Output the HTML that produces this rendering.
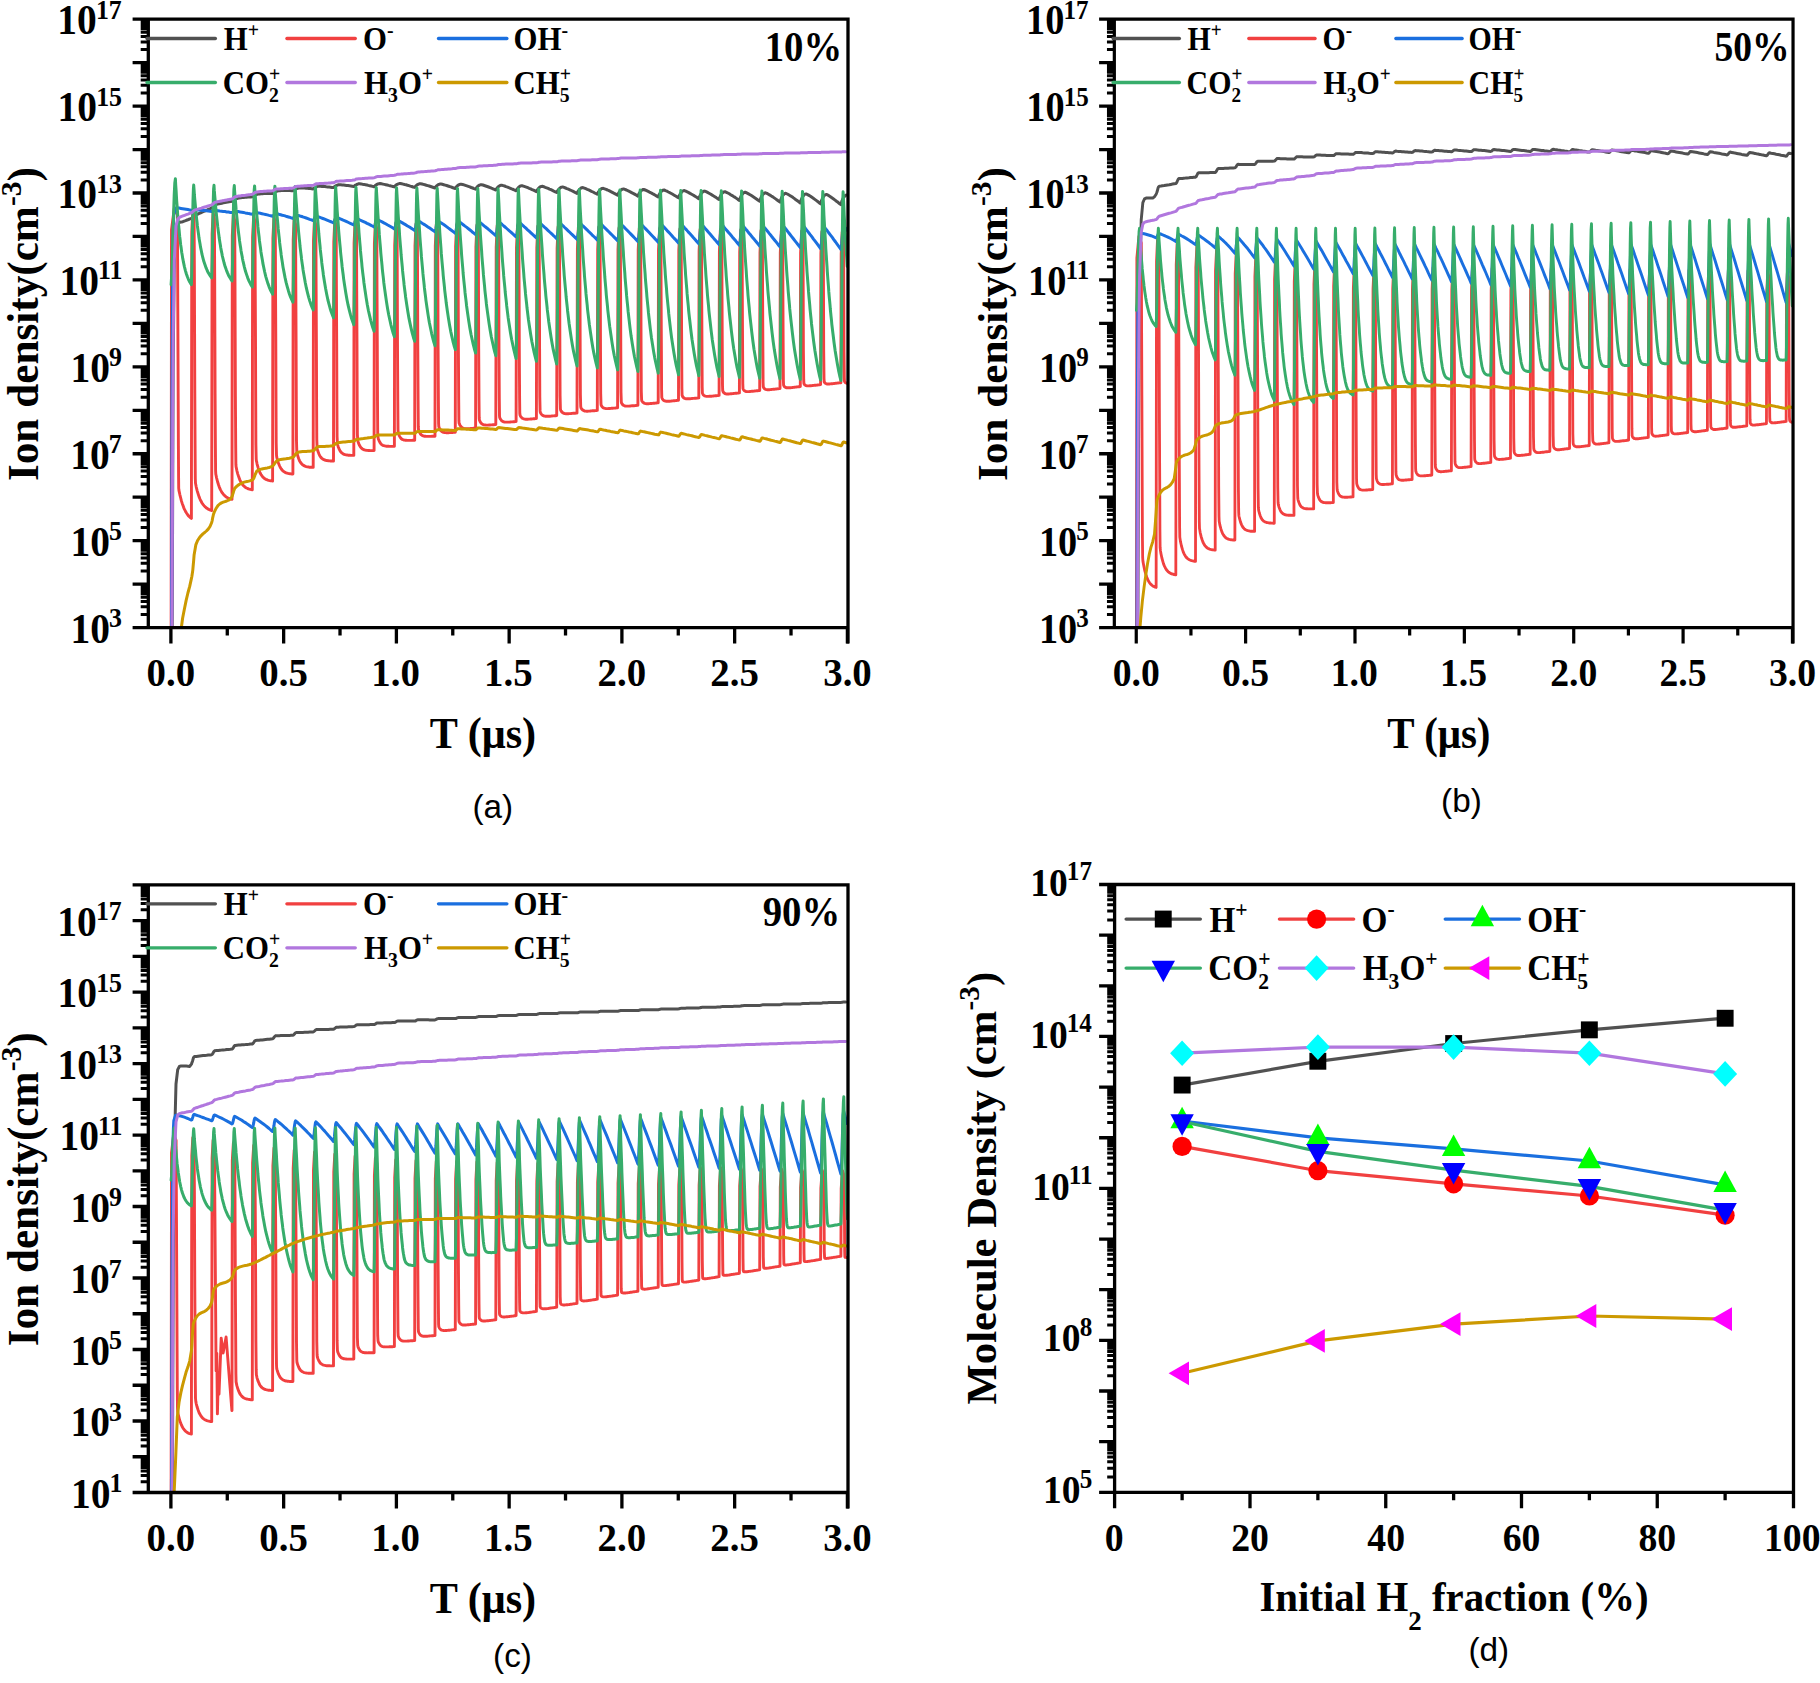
<!DOCTYPE html><html><head><meta charset="utf-8"><title>Ion density</title><style>html,body{margin:0;padding:0;background:#fff}svg{display:block}</style></head><body><svg width="1820" height="1683" viewBox="0 0 1820 1683">
<rect width="1820" height="1683" fill="#fff"/>
<clipPath id="ca"><rect x="148.3" y="19.2" width="699.7" height="608.3"/></clipPath>
<g clip-path="url(#ca)">
<polyline points="171.1,687.5 172.1,660.1 173.1,371.4 174.1,273.4 175.0,240.1 176.0,228.6 177.0,224.6 178.4,222.8 179.9,222.3 181.3,222.1 182.8,221.7 184.2,221.1 185.6,220.6 187.1,220.0 188.5,219.5 190.0,218.9 191.4,218.4 192.4,217.6 193.4,216.9 194.4,216.2 195.3,215.5 196.3,214.9 197.3,214.4 198.7,213.7 200.2,213.0 201.6,212.4 203.1,211.7 204.5,211.1 205.9,210.5 207.4,209.9 208.8,209.2 210.3,208.6 211.7,208.0 212.7,207.1 213.7,206.3 214.6,205.6 215.6,204.9 216.6,204.4 217.6,204.1 219.0,203.8 220.5,203.5 221.9,203.2 223.4,202.9 224.8,202.6 226.2,202.3 227.7,202.0 229.1,201.7 230.6,201.5 232.0,201.2 233.0,200.5 234.0,199.9 234.9,199.4 235.9,198.9 236.9,198.5 237.9,198.2 239.3,197.9 240.8,197.8 242.2,197.6 243.6,197.5 245.1,197.3 246.5,197.2 248.0,197.1 249.4,197.0 250.9,196.9 252.3,196.8 253.3,196.1 254.3,195.5 255.2,195.1 256.2,194.7 257.2,194.3 258.2,194.1 259.6,193.9 261.1,193.8 262.5,193.7 263.9,193.6 265.4,193.6 266.8,193.5 268.3,193.5 269.7,193.4 271.2,193.4 272.6,193.4 273.6,192.7 274.6,192.1 275.5,191.7 276.5,191.3 277.5,191.0 278.5,190.8 279.9,190.7 281.3,190.6 282.8,190.5 284.2,190.5 285.7,190.5 287.1,190.5 288.6,190.6 290.0,190.6 291.5,190.7 292.9,190.7 293.9,190.0 294.8,189.4 295.8,188.9 296.8,188.6 297.8,188.3 298.8,188.1 300.2,188.1 301.6,188.1 303.1,188.1 304.5,188.1 306.0,188.2 307.4,188.3 308.9,188.4 310.3,188.5 311.7,188.7 313.2,188.9 314.2,188.1 315.1,187.5 316.1,187.0 317.1,186.6 318.1,186.4 319.1,186.2 320.5,186.3 321.9,186.4 323.4,186.5 324.8,186.6 326.3,186.8 327.7,186.9 329.2,187.1 330.6,187.3 332.0,187.5 333.5,187.6 334.5,186.7 335.4,186.1 336.4,185.5 337.4,185.1 338.4,184.8 339.3,184.7 340.8,184.8 342.2,184.9 343.7,185.0 345.1,185.2 346.6,185.4 348.0,185.6 349.5,185.8 350.9,186.0 352.3,186.3 353.8,186.6 354.8,185.6 355.7,185.0 356.7,184.5 357.7,184.1 358.7,183.8 359.6,183.7 361.1,183.9 362.5,184.2 364.0,184.4 365.4,184.7 366.9,185.0 368.3,185.4 369.7,185.7 371.2,186.0 372.6,186.4 374.1,186.8 375.1,185.7 376.0,185.0 377.0,184.4 378.0,183.9 379.0,183.7 379.9,183.6 381.4,183.8 382.8,184.1 384.3,184.4 385.7,184.7 387.2,185.0 388.6,185.4 390.0,185.7 391.5,186.1 392.9,186.5 394.4,186.9 395.3,185.7 396.3,184.9 397.3,184.3 398.3,183.9 399.3,183.6 400.2,183.5 401.7,183.8 403.1,184.1 404.6,184.5 406.0,184.8 407.4,185.2 408.9,185.6 410.3,186.1 411.8,186.5 413.2,187.0 414.7,187.4 415.6,186.2 416.6,185.3 417.6,184.6 418.6,184.1 419.6,183.8 420.5,183.7 422.0,184.0 423.4,184.4 424.9,184.8 426.3,185.2 427.7,185.6 429.2,186.0 430.6,186.5 432.1,187.0 433.5,187.5 435.0,188.0 435.9,186.6 436.9,185.7 437.9,184.9 438.9,184.4 439.8,184.1 440.8,184.0 442.3,184.3 443.7,184.7 445.2,185.1 446.6,185.5 448.0,186.0 449.5,186.5 450.9,186.9 452.4,187.5 453.8,188.0 455.3,188.5 456.2,187.1 457.2,186.0 458.2,185.2 459.2,184.7 460.1,184.3 461.1,184.2 462.6,184.5 464.0,184.9 465.4,185.4 466.9,185.9 468.3,186.4 469.8,186.9 471.2,187.5 472.7,188.0 474.1,188.6 475.6,189.2 476.5,187.7 477.5,186.6 478.5,185.7 479.5,185.1 480.4,184.8 481.4,184.7 482.9,185.0 484.3,185.5 485.7,186.0 487.2,186.5 488.6,187.0 490.1,187.6 491.5,188.2 493.0,188.8 494.4,189.4 495.8,190.0 496.8,188.4 497.8,187.2 498.8,186.3 499.8,185.7 500.7,185.3 501.7,185.2 503.2,185.6 504.6,186.0 506.0,186.6 507.5,187.1 508.9,187.7 510.4,188.3 511.8,188.9 513.3,189.5 514.7,190.2 516.1,190.8 517.1,189.1 518.1,187.8 519.1,186.9 520.0,186.2 521.0,185.8 522.0,185.7 523.4,186.1 524.9,186.6 526.3,187.1 527.8,187.7 529.2,188.3 530.7,188.9 532.1,189.6 533.5,190.2 535.0,190.9 536.4,191.6 537.4,189.8 538.4,188.5 539.4,187.5 540.3,186.8 541.3,186.4 542.3,186.3 543.7,186.7 545.2,187.3 546.6,187.8 548.1,188.4 549.5,189.1 551.0,189.7 552.4,190.4 553.8,191.1 555.3,191.8 556.7,192.5 557.7,190.6 558.7,189.3 559.7,188.3 560.6,187.5 561.6,187.1 562.6,186.9 564.0,187.4 565.5,188.0 566.9,188.6 568.4,189.2 569.8,189.8 571.3,190.5 572.7,191.2 574.1,191.9 575.6,192.7 577.0,193.4 578.0,191.4 579.0,190.0 580.0,189.0 580.9,188.2 581.9,187.7 582.9,187.6 584.3,188.1 585.8,188.7 587.2,189.3 588.7,189.9 590.1,190.6 591.5,191.3 593.0,192.0 594.4,192.8 595.9,193.5 597.3,194.3 598.3,192.2 599.3,190.8 600.3,189.7 601.2,188.9 602.2,188.4 603.2,188.3 604.6,188.8 606.1,189.4 607.5,190.0 609.0,190.7 610.4,191.4 611.8,192.1 613.3,192.9 614.7,193.6 616.2,194.4 617.6,195.2 618.6,193.1 619.6,191.6 620.5,190.4 621.5,189.6 622.5,189.1 623.5,188.9 624.9,189.4 626.4,190.0 627.8,190.7 629.3,191.4 630.7,192.1 632.1,192.9 633.6,193.6 635.0,194.4 636.5,195.3 637.9,196.1 638.9,193.8 639.9,192.3 640.8,191.0 641.8,190.2 642.8,189.6 643.8,189.5 645.2,190.0 646.7,190.6 648.1,191.3 649.5,192.1 651.0,192.8 652.4,193.6 653.9,194.4 655.3,195.2 656.8,196.1 658.2,196.9 659.2,194.6 660.2,192.9 661.1,191.7 662.1,190.7 663.1,190.2 664.1,190.0 665.5,190.6 667.0,191.2 668.4,192.0 669.8,192.7 671.3,193.5 672.7,194.3 674.2,195.2 675.6,196.0 677.1,196.9 678.5,197.8 679.5,195.3 680.5,193.6 681.4,192.3 682.4,191.3 683.4,190.7 684.4,190.6 685.8,191.1 687.2,191.8 688.7,192.6 690.1,193.4 691.6,194.2 693.0,195.0 694.5,195.9 695.9,196.8 697.4,197.7 698.8,198.7 699.8,196.1 700.7,194.3 701.7,192.9 702.7,191.9 703.7,191.3 704.7,191.1 706.1,191.7 707.5,192.4 709.0,193.2 710.4,194.0 711.9,194.9 713.3,195.8 714.8,196.7 716.2,197.6 717.6,198.6 719.1,199.5 720.1,196.8 721.0,195.0 722.0,193.5 723.0,192.5 724.0,191.9 725.0,191.7 726.4,192.3 727.8,193.0 729.3,193.8 730.7,194.7 732.2,195.6 733.6,196.5 735.1,197.4 736.5,198.4 737.9,199.4 739.4,200.4 740.4,197.6 741.3,195.7 742.3,194.2 743.3,193.1 744.3,192.4 745.2,192.2 746.7,192.9 748.1,193.6 749.6,194.5 751.0,195.3 752.5,196.3 753.9,197.2 755.4,198.2 756.8,199.2 758.2,200.2 759.7,201.2 760.7,198.4 761.6,196.3 762.6,194.8 763.6,193.7 764.6,193.0 765.5,192.8 767.0,193.4 768.4,194.2 769.9,195.1 771.3,196.0 772.8,196.9 774.2,197.9 775.6,198.9 777.1,200.0 778.5,201.0 780.0,202.1 781.0,199.1 781.9,197.0 782.9,195.4 783.9,194.2 784.9,193.5 785.8,193.3 787.3,194.0 788.7,194.8 790.2,195.7 791.6,196.6 793.1,197.6 794.5,198.6 795.9,199.7 797.4,200.8 798.8,201.8 800.3,203.0 801.2,199.9 802.2,197.7 803.2,196.0 804.2,194.8 805.2,194.1 806.1,193.9 807.6,194.6 809.0,195.4 810.5,196.3 811.9,197.3 813.3,198.3 814.8,199.4 816.2,200.4 817.7,201.5 819.1,202.7 820.6,203.8 821.5,200.6 822.5,198.4 823.5,196.7 824.5,195.4 825.5,194.6 826.4,194.4 827.9,195.1 829.3,196.0 830.8,197.0 832.2,198.0 833.6,199.0 835.1,200.1 836.5,201.2 838.0,202.3 839.4,203.5 840.9,204.7 841.8,201.4 842.8,199.1 843.8,197.3 844.8,196.0 845.7,195.2 846.7,195.0" fill="none" stroke="#515151" stroke-width="3" stroke-linejoin="round" stroke-linecap="round"/>
<polyline points="171.1,687.5 171.5,230.0 174.3,208.2 177.4,214.8 177.6,261.5 177.8,308.2 178.0,354.8 178.2,401.3 178.4,446.0 178.6,478.2 178.7,488.1 178.9,490.1 179.1,491.1 179.9,494.8 180.7,498.0 181.4,500.9 182.2,503.4 183.0,505.6 183.7,507.6 184.5,509.4 185.3,510.9 186.0,512.3 186.8,513.5 187.6,514.6 188.3,515.6 189.1,516.4 189.9,517.1 190.7,517.8 191.4,518.4 191.8,231.9 192.8,210.2 194.1,216.7 194.4,275.5 194.6,334.2 194.8,392.8 195.1,448.1 195.3,478.5 195.5,483.3 195.8,484.7 196.0,485.8 196.2,486.8 197.2,490.8 198.2,494.1 199.1,496.9 200.1,499.3 201.1,501.3 202.0,503.0 203.0,504.4 204.0,505.6 204.9,506.6 205.9,507.5 206.9,508.3 207.8,508.9 208.8,509.4 209.8,509.8 210.7,510.2 211.7,510.5 212.1,233.9 213.1,212.2 214.4,218.7 214.7,277.4 214.9,336.2 215.1,394.6 215.4,447.6 215.6,470.9 215.8,474.2 216.1,475.5 216.3,476.6 216.5,477.6 217.5,481.5 218.5,484.7 219.4,487.3 220.4,489.6 221.4,491.4 222.3,492.9 223.3,494.2 224.3,495.2 225.2,496.1 226.2,496.9 227.2,497.5 228.1,498.0 229.1,498.4 230.1,498.7 231.0,499.0 232.0,499.3 232.3,235.8 233.4,214.1 234.7,220.6 235.0,279.4 235.2,338.1 235.4,396.3 235.7,446.5 235.9,464.4 236.1,466.9 236.4,468.1 236.6,469.2 236.8,470.3 237.8,474.1 238.8,477.1 239.7,479.6 240.7,481.7 241.7,483.3 242.6,484.7 243.6,485.8 244.6,486.6 245.5,487.4 246.5,488.0 247.5,488.4 248.4,488.8 249.4,489.1 250.4,489.4 251.3,489.6 252.3,489.8 252.6,237.2 253.7,215.5 255.0,222.0 255.2,280.8 255.5,339.5 255.7,397.5 255.9,444.7 256.2,458.8 256.4,460.9 256.7,462.0 256.9,463.1 257.1,464.1 258.1,467.6 259.1,470.5 260.0,472.7 261.0,474.5 262.0,475.9 262.9,477.1 263.9,478.0 264.9,478.7 265.8,479.3 266.8,479.7 267.8,480.1 268.7,480.4 269.7,480.6 270.7,480.8 271.6,480.9 272.6,481.0 272.9,238.3 274.0,216.6 275.3,223.1 275.5,281.9 275.8,340.6 276.0,398.3 276.2,443.2 276.5,455.0 276.7,456.8 276.9,457.9 277.2,458.8 277.4,459.8 278.4,463.0 279.4,465.5 280.3,467.5 281.3,469.0 282.3,470.2 283.2,471.1 284.2,471.8 285.2,472.4 286.1,472.8 287.1,473.1 288.1,473.4 289.0,473.6 290.0,473.7 291.0,473.9 291.9,474.0 292.9,474.0 293.2,239.5 294.2,217.7 295.6,224.3 295.8,283.0 296.1,341.7 296.3,399.2 296.5,441.6 296.8,451.5 297.0,453.1 297.2,454.0 297.5,454.9 297.7,455.8 298.7,458.7 299.6,460.9 300.6,462.5 301.6,463.8 302.5,464.7 303.5,465.4 304.5,465.9 305.5,466.3 306.4,466.6 307.4,466.9 308.4,467.0 309.3,467.2 310.3,467.3 311.3,467.3 312.2,467.4 313.2,467.4 313.5,240.6 314.5,218.9 315.9,225.4 316.1,284.1 316.4,342.8 316.6,399.9 316.8,439.5 317.1,447.6 317.3,449.0 317.5,449.9 317.8,450.7 318.0,451.5 319.0,454.1 319.9,456.0 320.9,457.4 321.9,458.4 322.8,459.1 323.8,459.7 324.8,460.0 325.7,460.3 326.7,460.5 327.7,460.7 328.6,460.8 329.6,460.9 330.6,461.0 331.6,461.0 332.5,461.0 333.5,461.1 333.8,241.7 334.8,220.0 336.2,226.5 336.4,285.2 336.7,343.9 336.9,400.5 337.1,436.8 337.4,443.4 337.6,444.6 337.8,445.5 338.1,446.3 338.3,447.0 339.3,449.4 340.2,451.1 341.2,452.4 342.2,453.2 343.1,453.9 344.1,454.3 345.1,454.7 346.0,454.9 347.0,455.0 348.0,455.2 348.9,455.2 349.9,455.3 350.9,455.4 351.8,455.4 352.8,455.4 353.8,455.4 354.1,242.8 355.1,221.1 356.5,227.6 356.7,286.3 357.0,345.0 357.2,401.0 357.4,434.5 357.7,440.0 357.9,441.1 358.1,442.0 358.4,442.7 358.6,443.4 359.6,445.6 360.5,447.1 361.5,448.2 362.5,449.0 363.4,449.5 364.4,449.8 365.4,450.1 366.3,450.3 367.3,450.4 368.3,450.5 369.2,450.5 370.2,450.6 371.2,450.6 372.1,450.6 373.1,450.6 374.1,450.6 374.4,243.9 375.4,222.2 376.8,228.7 377.0,287.5 377.3,346.0 377.5,401.6 377.7,432.6 378.0,437.3 378.2,438.3 378.4,439.1 378.7,439.8 378.9,440.4 379.9,442.4 380.8,443.7 381.8,444.7 382.8,445.3 383.7,445.7 384.7,445.9 385.7,446.1 386.6,446.2 387.6,446.3 388.6,446.3 389.5,446.4 390.5,446.4 391.5,446.4 392.4,446.4 393.4,446.4 394.4,446.3 394.7,245.0 395.7,223.3 397.1,229.8 397.3,288.6 397.5,347.1 397.8,401.7 398.0,429.1 398.2,432.8 398.5,433.7 398.7,434.4 399.0,435.1 399.2,435.6 400.2,437.4 401.1,438.5 402.1,439.3 403.1,439.7 404.0,440.0 405.0,440.2 406.0,440.3 406.9,440.4 407.9,440.4 408.9,440.4 409.8,440.4 410.8,440.4 411.8,440.4 412.7,440.3 413.7,440.3 414.7,440.3 415.0,245.5 416.0,223.8 417.4,230.3 417.6,289.0 417.8,347.5 418.1,401.3 418.3,426.4 418.5,429.6 418.8,430.5 419.0,431.1 419.2,431.7 419.5,432.2 420.4,433.9 421.4,434.9 422.4,435.6 423.4,436.0 424.3,436.2 425.3,436.3 426.3,436.4 427.2,436.4 428.2,436.4 429.2,436.4 430.1,436.4 431.1,436.4 432.1,436.3 433.0,436.3 434.0,436.2 435.0,436.2 435.3,245.9 436.3,224.2 437.7,230.7 437.9,289.4 438.1,347.9 438.4,400.8 438.6,423.7 438.8,426.6 439.1,427.3 439.3,427.9 439.5,428.5 439.8,429.0 440.7,430.5 441.7,431.4 442.7,432.0 443.6,432.3 444.6,432.5 445.6,432.6 446.5,432.7 447.5,432.7 448.5,432.7 449.5,432.6 450.4,432.6 451.4,432.5 452.4,432.5 453.3,432.4 454.3,432.3 455.3,432.3 455.6,246.3 456.6,224.6 458.0,231.1 458.2,289.8 458.4,348.2 458.7,400.1 458.9,420.7 459.1,423.1 459.4,423.8 459.6,424.4 459.8,424.9 460.1,425.3 461.0,426.7 462.0,427.6 463.0,428.1 463.9,428.4 464.9,428.6 465.9,428.6 466.8,428.7 467.8,428.6 468.8,428.6 469.7,428.6 470.7,428.5 471.7,428.4 472.6,428.4 473.6,428.3 474.6,428.2 475.6,428.2 475.9,246.7 476.9,225.0 478.3,231.5 478.5,290.2 478.7,348.5 479.0,399.4 479.2,418.0 479.4,420.1 479.7,420.7 479.9,421.2 480.1,421.7 480.4,422.1 481.3,423.4 482.3,424.2 483.3,424.6 484.2,424.9 485.2,425.0 486.2,425.1 487.1,425.1 488.1,425.1 489.1,425.0 490.0,425.0 491.0,424.9 492.0,424.9 492.9,424.8 493.9,424.7 494.9,424.6 495.8,424.6 496.2,247.1 497.2,225.3 498.6,231.9 498.8,290.6 499.0,348.8 499.3,398.7 499.5,415.8 499.7,417.6 500.0,418.2 500.2,418.7 500.4,419.1 500.7,419.5 501.6,420.7 502.6,421.4 503.6,421.8 504.5,422.0 505.5,422.1 506.5,422.1 507.4,422.1 508.4,422.1 509.4,422.1 510.3,422.0 511.3,421.9 512.3,421.9 513.2,421.8 514.2,421.7 515.2,421.6 516.1,421.6 516.5,247.5 517.5,225.7 518.8,232.3 519.1,291.0 519.3,349.1 519.6,397.9 519.8,413.4 520.0,415.1 520.3,415.6 520.5,416.1 520.7,416.5 521.0,416.8 521.9,417.9 522.9,418.5 523.9,418.9 524.8,419.1 525.8,419.2 526.8,419.2 527.7,419.2 528.7,419.1 529.7,419.1 530.6,419.0 531.6,419.0 532.6,418.9 533.5,418.8 534.5,418.7 535.5,418.6 536.4,418.6 536.8,247.9 537.8,226.1 539.1,232.6 539.4,291.4 539.6,349.4 539.8,396.9 540.1,410.9 540.3,412.3 540.5,412.9 540.8,413.3 541.0,413.7 541.3,414.1 542.2,415.1 543.2,415.7 544.2,416.0 545.1,416.2 546.1,416.3 547.1,416.3 548.0,416.3 549.0,416.2 550.0,416.2 550.9,416.1 551.9,416.0 552.9,415.9 553.8,415.9 554.8,415.8 555.8,415.7 556.7,415.6 557.1,248.2 558.1,226.5 559.4,233.0 559.7,291.7 559.9,349.7 560.1,396.0 560.4,408.6 560.6,409.9 560.8,410.5 561.1,410.9 561.3,411.3 561.5,411.6 562.5,412.6 563.5,413.2 564.4,413.5 565.4,413.7 566.4,413.7 567.4,413.7 568.3,413.7 569.3,413.6 570.3,413.6 571.2,413.5 572.2,413.4 573.2,413.3 574.1,413.3 575.1,413.2 576.1,413.1 577.0,413.0 577.4,248.6 578.4,226.9 579.7,233.4 580.0,292.1 580.2,349.9 580.4,394.9 580.7,406.3 580.9,407.5 581.1,408.1 581.4,408.5 581.6,408.9 581.8,409.2 582.8,410.1 583.8,410.7 584.7,411.0 585.7,411.1 586.7,411.2 587.6,411.2 588.6,411.1 589.6,411.1 590.5,411.0 591.5,410.9 592.5,410.8 593.5,410.7 594.4,410.7 595.4,410.6 596.4,410.5 597.3,410.4 597.7,249.0 598.7,227.3 600.0,233.8 600.3,292.5 600.5,350.2 600.7,393.7 601.0,404.0 601.2,405.2 601.4,405.7 601.7,406.1 601.9,406.4 602.1,406.7 603.1,407.7 604.1,408.2 605.0,408.4 606.0,408.6 607.0,408.6 607.9,408.6 608.9,408.5 609.9,408.5 610.8,408.4 611.8,408.3 612.8,408.2 613.7,408.1 614.7,408.1 615.7,408.0 616.6,407.9 617.6,407.8 618.0,249.4 619.0,227.7 620.3,234.2 620.6,292.9 620.8,350.4 621.0,392.5 621.3,401.8 621.5,402.9 621.7,403.3 622.0,403.7 622.2,404.1 622.4,404.4 623.4,405.3 624.4,405.8 625.3,406.0 626.3,406.1 627.3,406.1 628.2,406.1 629.2,406.1 630.2,406.0 631.1,405.9 632.1,405.8 633.1,405.7 634.0,405.7 635.0,405.6 636.0,405.5 636.9,405.4 637.9,405.3 638.2,249.8 639.3,228.1 640.6,234.6 640.9,293.3 641.1,350.6 641.3,391.3 641.6,399.6 641.8,400.6 642.0,401.1 642.3,401.5 642.5,401.8 642.7,402.1 643.7,402.9 644.7,403.4 645.6,403.6 646.6,403.7 647.6,403.7 648.5,403.7 649.5,403.6 650.5,403.5 651.4,403.5 652.4,403.4 653.4,403.3 654.3,403.2 655.3,403.1 656.3,403.0 657.2,402.9 658.2,402.8 658.5,250.2 659.6,228.5 660.9,235.0 661.1,293.7 661.4,350.8 661.6,389.9 661.8,397.4 662.1,398.3 662.3,398.8 662.6,399.2 662.8,399.5 663.0,399.8 664.0,400.6 665.0,401.0 665.9,401.2 666.9,401.3 667.9,401.3 668.8,401.2 669.8,401.2 670.8,401.1 671.7,401.0 672.7,400.9 673.7,400.8 674.6,400.7 675.6,400.6 676.6,400.5 677.5,400.4 678.5,400.3 678.8,250.6 679.9,228.9 681.2,235.4 681.4,294.0 681.7,350.9 681.9,388.5 682.1,395.2 682.4,396.1 682.6,396.5 682.8,396.9 683.1,397.2 683.3,397.5 684.3,398.2 685.3,398.6 686.2,398.8 687.2,398.8 688.2,398.8 689.1,398.8 690.1,398.7 691.1,398.6 692.0,398.5 693.0,398.4 694.0,398.4 694.9,398.3 695.9,398.2 696.9,398.1 697.8,398.0 698.8,397.9 699.1,251.0 700.1,229.3 701.5,235.8 701.7,294.4 702.0,351.0 702.2,387.0 702.4,393.0 702.7,393.8 702.9,394.2 703.1,394.6 703.4,394.9 703.6,395.1 704.6,395.9 705.5,396.2 706.5,396.4 707.5,396.4 708.4,396.4 709.4,396.3 710.4,396.3 711.4,396.2 712.3,396.1 713.3,396.0 714.3,395.9 715.2,395.8 716.2,395.7 717.2,395.6 718.1,395.5 719.1,395.4 719.4,251.4 720.4,229.6 721.8,236.2 722.0,294.8 722.3,351.1 722.5,385.4 722.7,390.8 723.0,391.5 723.2,391.9 723.4,392.3 723.7,392.6 723.9,392.8 724.9,393.5 725.8,393.8 726.8,394.0 727.8,394.0 728.7,394.0 729.7,393.9 730.7,393.8 731.6,393.7 732.6,393.6 733.6,393.5 734.5,393.4 735.5,393.3 736.5,393.2 737.5,393.1 738.4,393.0 739.4,392.9 739.7,251.8 740.7,230.0 742.1,236.6 742.3,295.2 742.6,351.1 742.8,383.8 743.0,388.6 743.3,389.3 743.5,389.7 743.7,390.0 744.0,390.3 744.2,390.6 745.2,391.2 746.1,391.5 747.1,391.6 748.1,391.6 749.0,391.6 750.0,391.5 751.0,391.4 751.9,391.3 752.9,391.2 753.9,391.1 754.8,391.0 755.8,390.9 756.8,390.8 757.7,390.7 758.7,390.6 759.7,390.5 760.0,252.2 761.0,230.4 762.4,237.0 762.6,295.5 762.9,351.2 763.1,382.5 763.3,386.9 763.6,387.5 763.8,387.9 764.0,388.2 764.3,388.5 764.5,388.7 765.5,389.4 766.4,389.6 767.4,389.7 768.4,389.7 769.3,389.7 770.3,389.6 771.3,389.5 772.2,389.4 773.2,389.3 774.2,389.2 775.1,389.1 776.1,389.0 777.1,388.9 778.0,388.8 779.0,388.6 780.0,388.5 780.3,252.6 781.3,230.8 782.7,237.3 782.9,295.9 783.2,351.2 783.4,381.1 783.6,385.2 783.9,385.8 784.1,386.1 784.3,386.5 784.6,386.7 784.8,386.9 785.8,387.5 786.7,387.8 787.7,387.8 788.7,387.8 789.6,387.8 790.6,387.7 791.6,387.6 792.5,387.5 793.5,387.4 794.5,387.2 795.4,387.1 796.4,387.0 797.4,386.9 798.3,386.8 799.3,386.7 800.3,386.6 800.6,252.9 801.6,231.2 803.0,237.7 803.2,296.3 803.4,351.2 803.7,379.7 803.9,383.4 804.1,384.0 804.4,384.4 804.6,384.7 804.9,384.9 805.1,385.1 806.1,385.7 807.0,385.9 808.0,385.9 809.0,385.9 809.9,385.8 810.9,385.7 811.9,385.6 812.8,385.5 813.8,385.4 814.8,385.3 815.7,385.2 816.7,385.1 817.7,385.0 818.6,384.9 819.6,384.7 820.6,384.6 820.9,253.3 821.9,231.6 823.3,238.1 823.5,296.6 823.7,351.2 824.0,378.3 824.2,381.7 824.4,382.2 824.7,382.6 824.9,382.9 825.1,383.1 825.4,383.3 826.3,383.8 827.3,384.0 828.3,384.0 829.3,384.0 830.2,383.9 831.2,383.8 832.2,383.7 833.1,383.6 834.1,383.5 835.1,383.4 836.0,383.2 837.0,383.1 838.0,383.0 838.9,382.9 839.9,382.8 840.9,382.7 841.2,253.7 842.2,232.0 843.6,238.5 843.8,297.0 844.0,351.4 844.3,378.0 844.5,381.3 844.7,381.8 845.0,382.1 845.2,382.4 845.4,382.6 845.7,382.8 846.6,383.3" fill="none" stroke="#F14040" stroke-width="2.9" stroke-linejoin="round" stroke-linecap="round"/>
<polyline points="171.1,687.5 171.6,615.6 172.0,390.9 172.5,289.9 172.9,244.4 173.4,223.9 173.8,214.7 175.6,207.9 177.3,207.9 179.1,208.1 180.9,208.4 182.6,208.7 184.4,209.0 186.1,209.3 187.9,209.6 189.7,209.9 191.4,210.2 191.9,210.2 192.3,210.0 192.8,209.9 193.2,209.7 193.7,209.6 194.1,209.6 195.9,209.7 197.6,209.9 199.4,210.1 201.2,210.2 202.9,210.4 204.7,210.6 206.4,210.8 208.2,211.0 210.0,211.2 211.7,211.5 212.2,211.4 212.6,211.2 213.1,210.9 213.5,210.6 214.0,210.4 214.4,210.3 216.2,210.5 217.9,210.7 219.7,211.0 221.5,211.2 223.2,211.4 225.0,211.6 226.7,211.9 228.5,212.1 230.3,212.4 232.0,212.6 232.5,212.5 232.9,212.3 233.4,211.9 233.8,211.5 234.3,211.2 234.7,211.1 236.5,211.4 238.2,211.6 240.0,211.9 241.8,212.2 243.5,212.5 245.3,212.9 247.0,213.2 248.8,213.6 250.5,213.9 252.3,214.3 252.8,214.2 253.2,213.8 253.7,213.3 254.1,212.7 254.6,212.3 255.0,212.2 256.8,212.6 258.5,212.9 260.3,213.3 262.0,213.7 263.8,214.1 265.6,214.5 267.3,214.9 269.1,215.4 270.8,215.8 272.6,216.3 273.1,216.1 273.5,215.6 274.0,214.9 274.4,214.1 274.9,213.6 275.3,213.4 277.1,213.8 278.8,214.3 280.6,214.7 282.3,215.2 284.1,215.6 285.9,216.2 287.6,216.7 289.4,217.2 291.1,217.8 292.9,218.4 293.3,218.1 293.8,217.5 294.2,216.5 294.7,215.6 295.2,214.9 295.6,214.6 297.4,215.2 299.1,215.7 300.9,216.3 302.6,216.8 304.4,217.4 306.2,218.0 307.9,218.6 309.7,219.3 311.4,219.9 313.2,220.6 313.6,220.3 314.1,219.5 314.5,218.3 315.0,217.1 315.4,216.2 315.9,215.9 317.7,216.6 319.4,217.2 321.2,217.8 322.9,218.5 324.7,219.2 326.4,219.9 328.2,220.6 330.0,221.3 331.7,222.0 333.5,222.8 333.9,222.5 334.4,221.4 334.8,220.0 335.3,218.6 335.7,217.6 336.2,217.2 338.0,218.0 339.7,218.7 341.5,219.4 343.2,220.2 345.0,220.9 346.7,221.7 348.5,222.5 350.3,223.3 352.0,224.1 353.8,225.0 354.2,224.6 354.7,223.4 355.1,221.7 355.6,220.1 356.0,218.9 356.5,218.4 358.2,219.2 360.0,220.0 361.8,220.8 363.5,221.6 365.3,222.4 367.0,223.3 368.8,224.2 370.6,225.1 372.3,226.0 374.1,226.9 374.5,226.4 375.0,225.0 375.4,223.1 375.9,221.1 376.3,219.7 376.8,219.2 378.5,220.1 380.3,221.0 382.1,221.9 383.8,222.8 385.6,223.8 387.3,224.8 389.1,225.8 390.9,226.8 392.6,227.8 394.4,228.9 394.8,228.3 395.3,226.7 395.7,224.5 396.2,222.2 396.6,220.6 397.1,220.0 398.8,220.9 400.6,221.9 402.4,222.9 404.1,223.9 405.9,224.9 407.6,226.0 409.4,227.0 411.1,228.1 412.9,229.2 414.7,230.4 415.1,229.7 415.6,227.9 416.0,225.3 416.5,222.8 416.9,220.9 417.4,220.2 419.1,221.3 420.9,222.4 422.6,223.5 424.4,224.6 426.2,225.8 427.9,226.9 429.7,228.1 431.4,229.3 433.2,230.6 435.0,231.8 435.4,231.1 435.9,229.0 436.3,226.2 436.8,223.3 437.2,221.2 437.7,220.5 439.4,221.7 441.2,222.9 442.9,224.1 444.7,225.3 446.5,226.6 448.2,227.9 450.0,229.2 451.7,230.5 453.5,231.9 455.3,233.2 455.7,232.4 456.2,230.2 456.6,227.0 457.1,223.9 457.5,221.6 458.0,220.7 459.7,222.0 461.5,223.4 463.2,224.7 465.0,226.1 466.8,227.4 468.5,228.8 470.3,230.2 472.0,231.7 473.8,233.1 475.6,234.5 476.0,233.6 476.5,231.2 476.9,227.8 477.4,224.5 477.8,222.0 478.3,221.1 480.0,222.5 481.8,223.9 483.5,225.3 485.3,226.8 487.1,228.2 488.8,229.7 490.6,231.2 492.3,232.7 494.1,234.2 495.8,235.7 496.3,234.8 496.7,232.2 497.2,228.6 497.6,225.1 498.1,222.4 498.6,221.5 500.3,223.0 502.1,224.5 503.8,226.0 505.6,227.5 507.3,229.0 509.1,230.6 510.9,232.1 512.6,233.7 514.4,235.3 516.1,236.9 516.6,235.9 517.0,233.2 517.5,229.4 517.9,225.6 518.4,222.9 518.8,221.9 520.6,223.4 522.4,225.0 524.1,226.6 525.9,228.2 527.6,229.8 529.4,231.4 531.2,233.1 532.9,234.7 534.7,236.3 536.4,237.9 536.9,236.9 537.3,234.0 537.8,230.1 538.2,226.2 538.7,223.3 539.1,222.2 540.9,223.8 542.7,225.5 544.4,227.1 546.2,228.7 547.9,230.3 549.7,232.0 551.5,233.6 553.2,235.3 555.0,236.9 556.7,238.6 557.2,237.5 557.6,234.6 558.1,230.6 558.5,226.6 559.0,223.6 559.4,222.5 561.2,224.2 563.0,225.8 564.7,227.5 566.5,229.2 568.2,230.8 570.0,232.5 571.7,234.2 573.5,235.9 575.3,237.6 577.0,239.3 577.5,238.2 577.9,235.2 578.4,231.1 578.8,226.9 579.3,223.9 579.7,222.8 581.5,224.5 583.2,226.2 585.0,227.9 586.8,229.6 588.5,231.3 590.3,233.0 592.0,234.8 593.8,236.5 595.6,238.2 597.3,240.0 597.8,238.9 598.2,235.8 598.7,231.6 599.1,227.3 599.6,224.2 600.0,223.1 601.8,224.8 603.5,226.6 605.3,228.3 607.1,230.1 608.8,231.8 610.6,233.6 612.3,235.3 614.1,237.1 615.9,238.9 617.6,240.7 618.1,239.5 618.5,236.4 619.0,232.1 619.4,227.7 619.9,224.6 620.3,223.4 622.1,225.2 623.8,226.9 625.6,228.7 627.4,230.5 629.1,232.3 630.9,234.1 632.6,235.9 634.4,237.8 636.2,239.6 637.9,241.4 638.4,240.3 638.8,237.0 639.3,232.6 639.7,228.1 640.2,224.8 640.6,223.6 642.4,225.5 644.1,227.3 645.9,229.1 647.7,231.0 649.4,232.8 651.2,234.7 652.9,236.5 654.7,238.4 656.4,240.3 658.2,242.2 658.7,241.0 659.1,237.7 659.6,233.1 660.0,228.5 660.5,225.1 660.9,223.9 662.7,225.8 664.4,227.6 666.2,229.5 667.9,231.4 669.7,233.3 671.5,235.2 673.2,237.2 675.0,239.1 676.7,241.0 678.5,243.0 679.0,241.7 679.4,238.3 679.9,233.6 680.3,228.8 680.8,225.4 681.2,224.1 683.0,226.0 684.7,228.0 686.5,229.9 688.2,231.9 690.0,233.8 691.8,235.8 693.5,237.8 695.3,239.8 697.0,241.8 698.8,243.8 699.2,242.5 699.7,238.9 700.1,234.1 700.6,229.2 701.1,225.7 701.5,224.4 703.3,226.3 705.0,228.3 706.8,230.3 708.5,232.3 710.3,234.3 712.1,236.4 713.8,238.4 715.6,240.4 717.3,242.5 719.1,244.6 719.5,243.2 720.0,239.6 720.4,234.6 720.9,229.6 721.3,225.9 721.8,224.6 723.6,226.6 725.3,228.7 727.1,230.7 728.8,232.8 730.6,234.8 732.3,236.9 734.1,239.0 735.9,241.1 737.6,243.2 739.4,245.3 739.8,244.0 740.3,240.2 740.7,235.1 741.2,229.9 741.6,226.2 742.1,224.8 743.9,226.9 745.6,229.0 747.4,231.1 749.1,233.2 750.9,235.3 752.6,237.5 754.4,239.6 756.2,241.8 757.9,243.9 759.7,246.1 760.1,244.7 760.6,240.9 761.0,235.6 761.5,230.3 761.9,226.4 762.4,224.9 764.1,227.1 765.9,229.3 767.7,231.4 769.4,233.6 771.2,235.8 772.9,238.0 774.7,240.2 776.5,242.4 778.2,244.7 780.0,246.9 780.4,245.5 780.9,241.5 781.3,236.0 781.8,230.6 782.2,226.6 782.7,225.1 784.4,227.3 786.2,229.5 788.0,231.8 789.7,234.0 791.5,236.3 793.2,238.5 795.0,240.8 796.8,243.1 798.5,245.4 800.3,247.7 800.7,246.2 801.2,242.1 801.6,236.5 802.1,230.9 802.5,226.8 803.0,225.3 804.7,227.5 806.5,229.8 808.3,232.1 810.0,234.4 811.8,236.7 813.5,239.1 815.3,241.4 817.0,243.7 818.8,246.1 820.6,248.5 821.0,246.9 821.5,242.7 821.9,237.0 822.4,231.2 822.8,227.0 823.3,225.4 825.0,227.8 826.8,230.1 828.5,232.5 830.3,234.8 832.1,237.2 833.8,239.6 835.6,242.0 837.3,244.4 839.1,246.8 840.9,249.3 841.3,247.7 841.8,243.4 842.2,237.4 842.7,231.5 843.1,227.2 843.6,225.6 845.3,228.0 847.1,230.4" fill="none" stroke="#1A6FDF" stroke-width="3" stroke-linejoin="round" stroke-linecap="round"/>
<polyline points="171.1,284.7 171.7,275.1 172.3,256.8 173.0,234.9 173.6,213.2 174.2,195.0 174.8,182.9 175.4,178.7 175.7,184.7 176.1,190.4 176.4,195.8 176.7,201.0 177.1,205.8 177.4,210.4 177.7,214.8 178.1,218.9 178.4,222.8 178.7,226.5 179.1,230.0 179.4,233.4 179.7,236.5 180.1,239.5 180.4,242.3 180.7,245.0 181.1,247.5 181.4,249.9 181.7,252.2 182.1,254.4 182.4,256.4 182.7,258.4 183.1,260.2 183.4,261.9 184.4,266.6 185.4,270.6 186.4,274.0 187.4,276.8 188.4,279.3 189.4,281.4 190.4,283.1 191.4,284.6 191.7,275.6 192.1,258.4 192.4,237.9 192.7,217.5 193.0,200.4 193.4,189.0 193.7,185.1 194.1,190.2 194.4,195.0 194.8,199.6 195.2,204.0 195.6,208.2 195.9,212.1 196.3,215.9 196.7,219.4 197.1,222.8 197.4,226.0 197.8,229.0 198.2,231.9 198.6,234.7 198.9,237.3 199.3,239.7 199.7,242.1 200.1,244.3 200.4,246.4 200.8,248.4 201.2,250.3 201.6,252.2 201.9,253.9 202.3,255.5 202.7,257.1 203.8,261.3 205.0,264.8 206.1,267.9 207.2,270.5 208.3,272.8 209.5,274.7 210.6,276.4 211.7,277.8 212.0,269.4 212.4,253.5 212.7,234.4 213.0,215.4 213.3,199.5 213.6,189.0 214.0,185.3 214.3,190.4 214.7,195.3 215.1,199.9 215.5,204.3 215.8,208.5 216.2,212.4 216.6,216.2 217.0,219.8 217.4,223.3 217.7,226.5 218.1,229.6 218.5,232.6 218.9,235.4 219.2,238.1 219.6,240.6 220.0,243.0 220.4,245.3 220.7,247.5 221.1,249.6 221.5,251.6 221.9,253.5 222.2,255.3 222.6,257.0 223.0,258.6 224.1,263.0 225.2,266.8 226.4,270.1 227.5,272.9 228.6,275.4 229.8,277.5 230.9,279.3 232.0,280.9 232.3,272.3 232.7,255.8 233.0,236.1 233.3,216.6 233.6,200.2 233.9,189.4 234.3,185.6 234.6,190.8 235.0,195.8 235.4,200.6 235.8,205.1 236.1,209.4 236.5,213.6 236.9,217.5 237.3,221.3 237.6,224.8 238.0,228.2 238.4,231.5 238.8,234.6 239.2,237.6 239.5,240.4 239.9,243.1 240.3,245.7 240.7,248.1 241.0,250.4 241.4,252.7 241.8,254.8 242.2,256.8 242.5,258.7 242.9,260.6 243.3,262.3 244.4,267.1 245.5,271.3 246.7,274.9 247.8,278.1 248.9,280.8 250.1,283.1 251.2,285.2 252.3,287.0 252.6,277.8 252.9,260.4 253.3,239.5 253.6,218.8 253.9,201.4 254.2,189.9 254.6,185.9 254.9,191.3 255.3,196.4 255.7,201.4 256.1,206.1 256.4,210.6 256.8,214.9 257.2,219.0 257.6,222.9 257.9,226.7 258.3,230.3 258.7,233.7 259.1,237.0 259.4,240.2 259.8,243.2 260.2,246.0 260.6,248.8 260.9,251.4 261.3,253.9 261.7,256.3 262.1,258.6 262.5,260.8 262.8,262.9 263.2,264.9 263.6,266.8 264.7,272.0 265.8,276.6 267.0,280.6 268.1,284.1 269.2,287.1 270.3,289.8 271.5,292.1 272.6,294.1 272.9,284.4 273.2,265.7 273.6,243.4 273.9,221.3 274.2,202.8 274.5,190.5 274.9,186.2 275.2,191.7 275.6,197.1 276.0,202.2 276.4,207.1 276.7,211.8 277.1,216.3 277.5,220.6 277.9,224.8 278.2,228.7 278.6,232.5 279.0,236.2 279.4,239.7 279.7,243.0 280.1,246.2 280.5,249.3 280.9,252.2 281.2,255.0 281.6,257.7 282.0,260.3 282.4,262.7 282.7,265.1 283.1,267.4 283.5,269.6 283.9,271.6 285.0,277.4 286.1,282.4 287.3,286.8 288.4,290.7 289.5,294.2 290.6,297.2 291.8,299.8 292.9,302.2 293.2,291.7 293.5,271.7 293.9,247.8 294.2,224.1 294.5,204.2 294.8,191.0 295.2,186.4 295.5,192.2 295.9,197.8 296.3,203.1 296.7,208.3 297.0,213.2 297.4,217.9 297.8,222.4 298.2,226.8 298.5,230.9 298.9,234.9 299.3,238.8 299.7,242.4 300.0,246.0 300.4,249.4 300.8,252.6 301.2,255.7 301.5,258.7 301.9,261.6 302.3,264.4 302.7,267.0 303.0,269.5 303.4,272.0 303.8,274.3 304.2,276.6 305.3,282.8 306.4,288.2 307.6,293.1 308.7,297.3 309.8,301.1 310.9,304.4 312.1,307.4 313.2,310.0 313.5,298.9 313.8,277.6 314.2,252.1 314.5,226.8 314.8,205.7 315.1,191.6 315.4,186.7 315.8,192.8 316.2,198.6 316.6,204.2 316.9,209.6 317.3,214.8 317.7,219.7 318.1,224.5 318.5,229.1 318.8,233.5 319.2,237.7 319.6,241.8 320.0,245.6 320.3,249.4 320.7,253.0 321.1,256.4 321.5,259.7 321.8,262.9 322.2,266.0 322.6,268.9 323.0,271.7 323.3,274.4 323.7,277.0 324.1,279.5 324.5,281.9 325.6,288.5 326.7,294.3 327.8,299.5 329.0,304.1 330.1,308.2 331.2,311.8 332.4,315.0 333.5,317.8 333.8,306.0 334.1,283.4 334.5,256.4 334.8,229.6 335.1,207.1 335.4,192.2 335.7,187.0 336.1,193.3 336.5,199.4 336.9,205.2 337.2,210.8 337.6,216.2 338.0,221.3 338.4,226.3 338.7,231.1 339.1,235.7 339.5,240.1 339.9,244.3 340.3,248.4 340.6,252.3 341.0,256.1 341.4,259.7 341.8,263.2 342.1,266.5 342.5,269.7 342.9,272.8 343.3,275.8 343.6,278.6 344.0,281.3 344.4,284.0 344.8,286.5 345.9,293.5 347.0,299.7 348.1,305.2 349.3,310.1 350.4,314.4 351.5,318.3 352.7,321.7 353.8,324.8 354.1,312.3 354.4,288.6 354.7,260.2 355.1,232.0 355.4,208.4 355.7,192.7 356.0,187.3 356.4,193.8 356.8,200.0 357.2,206.1 357.5,211.9 357.9,217.4 358.3,222.8 358.7,228.0 359.0,232.9 359.4,237.7 359.8,242.3 360.2,246.7 360.5,250.9 360.9,255.0 361.3,258.9 361.7,262.7 362.0,266.3 362.4,269.8 362.8,273.2 363.2,276.4 363.6,279.5 363.9,282.5 364.3,285.3 364.7,288.1 365.1,290.7 366.2,298.1 367.3,304.7 368.4,310.5 369.6,315.7 370.7,320.3 371.8,324.4 372.9,328.0 374.1,331.3 374.4,318.3 374.7,293.5 375.0,263.8 375.4,234.3 375.7,209.6 376.0,193.3 376.3,187.5 376.7,194.2 377.1,200.6 377.5,206.8 377.8,212.7 378.2,218.5 378.6,224.0 379.0,229.3 379.3,234.4 379.7,239.3 380.1,244.0 380.5,248.5 380.8,252.9 381.2,257.1 381.6,261.2 382.0,265.1 382.3,268.8 382.7,272.5 383.1,275.9 383.5,279.3 383.8,282.5 384.2,285.6 384.6,288.6 385.0,291.4 385.4,294.2 386.5,301.9 387.6,308.7 388.7,314.8 389.9,320.3 391.0,325.1 392.1,329.4 393.2,333.3 394.4,336.7 394.7,323.3 395.0,297.6 395.3,266.8 395.7,236.3 396.0,210.7 396.3,193.7 396.6,187.8 397.0,194.6 397.4,201.1 397.8,207.4 398.1,213.5 398.5,219.3 398.9,224.9 399.3,230.3 399.6,235.5 400.0,240.5 400.4,245.4 400.8,250.0 401.1,254.5 401.5,258.8 401.9,263.0 402.3,267.0 402.6,270.9 403.0,274.6 403.4,278.1 403.8,281.6 404.1,284.9 404.5,288.1 404.9,291.2 405.3,294.2 405.6,297.0 406.8,305.0 407.9,312.1 409.0,318.4 410.2,324.1 411.3,329.1 412.4,333.7 413.5,337.7 414.7,341.3 415.0,327.5 415.3,301.0 415.6,269.3 416.0,237.9 416.3,211.6 416.6,194.1 416.9,188.0 417.3,194.9 417.7,201.6 418.0,208.1 418.4,214.3 418.8,220.3 419.2,226.0 419.6,231.6 419.9,236.9 420.3,242.1 420.7,247.1 421.1,251.8 421.4,256.4 421.8,260.9 422.2,265.2 422.6,269.3 422.9,273.2 423.3,277.1 423.7,280.7 424.1,284.3 424.4,287.7 424.8,291.0 425.2,294.1 425.6,297.2 425.9,300.1 427.1,308.3 428.2,315.6 429.3,322.2 430.5,328.0 431.6,333.3 432.7,337.9 433.8,342.1 435.0,345.8 435.3,331.6 435.6,304.4 435.9,271.8 436.2,239.5 436.6,212.4 436.9,194.5 437.2,188.2 437.6,195.3 438.0,202.1 438.3,208.7 438.7,215.1 439.1,221.2 439.5,227.0 439.8,232.7 440.2,238.2 440.6,243.4 441.0,248.5 441.3,253.4 441.7,258.1 442.1,262.6 442.5,267.0 442.9,271.2 443.2,275.3 443.6,279.2 444.0,282.9 444.4,286.6 444.7,290.1 445.1,293.4 445.5,296.7 445.9,299.8 446.2,302.8 447.4,311.2 448.5,318.6 449.6,325.3 450.7,331.3 451.9,336.7 453.0,341.5 454.1,345.7 455.3,349.6 455.6,335.0 455.9,307.2 456.2,273.9 456.5,240.9 456.9,213.2 457.2,194.8 457.5,188.4 457.9,195.6 458.3,202.6 458.6,209.3 459.0,215.7 459.4,222.0 459.8,228.0 460.1,233.7 460.5,239.3 460.9,244.7 461.3,249.8 461.6,254.8 462.0,259.6 462.4,264.2 462.8,268.7 463.1,273.0 463.5,277.1 463.9,281.1 464.3,284.9 464.7,288.6 465.0,292.2 465.4,295.6 465.8,298.9 466.2,302.1 466.5,305.2 467.7,313.7 468.8,321.4 469.9,328.2 471.0,334.3 472.2,339.8 473.3,344.7 474.4,349.0 475.6,353.0 475.9,338.1 476.2,309.7 476.5,275.8 476.8,242.1 477.2,213.8 477.5,195.1 477.8,188.6 478.2,195.9 478.6,203.0 478.9,209.8 479.3,216.3 479.7,222.6 480.1,228.7 480.4,234.6 480.8,240.2 481.2,245.7 481.6,250.9 481.9,256.0 482.3,260.8 482.7,265.5 483.1,270.1 483.4,274.4 483.8,278.6 484.2,282.7 484.6,286.6 484.9,290.3 485.3,293.9 485.7,297.4 486.1,300.8 486.4,304.0 486.8,307.1 488.0,315.8 489.1,323.6 490.2,330.5 491.3,336.8 492.5,342.3 493.6,347.3 494.7,351.8 495.8,355.7 496.2,340.7 496.5,311.9 496.8,277.3 497.1,243.1 497.5,214.4 497.8,195.4 498.1,188.8 498.5,196.2 498.9,203.4 499.2,210.3 499.6,216.9 500.0,223.3 500.4,229.5 500.7,235.4 501.1,241.2 501.5,246.7 501.9,252.0 502.2,257.1 502.6,262.1 503.0,266.8 503.4,271.4 503.7,275.9 504.1,280.1 504.5,284.2 504.9,288.2 505.2,292.0 505.6,295.7 506.0,299.2 506.4,302.6 506.7,305.9 507.1,309.1 508.2,317.9 509.4,325.8 510.5,332.9 511.6,339.2 512.8,344.9 513.9,350.0 515.0,354.5 516.1,358.5 516.5,343.2 516.8,314.0 517.1,278.9 517.4,244.2 517.8,215.0 518.1,195.7 518.4,189.0 518.8,196.5 519.1,203.8 519.5,210.8 519.9,217.5 520.3,224.0 520.7,230.3 521.0,236.3 521.4,242.1 521.8,247.7 522.2,253.1 522.5,258.3 522.9,263.3 523.3,268.2 523.7,272.8 524.0,277.3 524.4,281.6 524.8,285.8 525.2,289.8 525.5,293.7 525.9,297.4 526.3,301.0 526.7,304.5 527.0,307.8 527.4,311.0 528.5,320.0 529.7,328.0 530.8,335.2 531.9,341.7 533.1,347.4 534.2,352.6 535.3,357.2 536.4,361.3 536.8,345.8 537.1,316.1 537.4,280.5 537.7,245.2 538.0,215.6 538.4,196.0 538.7,189.2 539.1,196.8 539.4,204.1 539.8,211.2 540.2,218.1 540.6,224.6 540.9,231.0 541.3,237.1 541.7,243.0 542.1,248.7 542.4,254.1 542.8,259.4 543.2,264.5 543.6,269.4 544.0,274.1 544.3,278.7 544.7,283.1 545.1,287.3 545.5,291.4 545.8,295.3 546.2,299.1 546.6,302.7 547.0,306.3 547.3,309.7 547.7,312.9 548.8,322.0 550.0,330.2 551.1,337.5 552.2,344.0 553.3,349.9 554.5,355.1 555.6,359.8 556.7,364.0 557.1,348.3 557.4,318.1 557.7,282.0 558.0,246.2 558.3,216.2 558.7,196.3 559.0,189.4 559.4,197.1 559.7,204.5 560.1,211.6 560.5,218.5 560.9,225.1 561.2,231.5 561.6,237.7 562.0,243.7 562.4,249.4 562.7,254.9 563.1,260.2 563.5,265.4 563.9,270.3 564.2,275.1 564.6,279.7 565.0,284.1 565.4,288.4 565.8,292.5 566.1,296.5 566.5,300.3 566.9,304.0 567.3,307.6 567.6,311.0 568.0,314.3 569.1,323.5 570.3,331.7 571.4,339.1 572.5,345.7 573.6,351.7 574.8,357.0 575.9,361.7 577.0,366.0 577.3,350.0 577.7,319.6 578.0,283.1 578.3,247.0 578.6,216.7 579.0,196.6 579.3,189.6 579.7,197.3 580.0,204.8 580.4,212.0 580.8,219.0 581.2,225.6 581.5,232.1 581.9,238.3 582.3,244.3 582.7,250.1 583.0,255.7 583.4,261.1 583.8,266.2 584.2,271.2 584.5,276.1 584.9,280.7 585.3,285.2 585.7,289.5 586.0,293.7 586.4,297.7 586.8,301.5 587.2,305.2 587.5,308.8 587.9,312.3 588.3,315.6 589.4,324.9 590.6,333.3 591.7,340.8 592.8,347.4 593.9,353.4 595.1,358.8 596.2,363.6 597.3,367.9 597.6,351.8 598.0,321.1 598.3,284.3 598.6,247.8 598.9,217.1 599.3,196.9 599.6,189.8 600.0,197.6 600.3,205.1 600.7,212.4 601.1,219.4 601.5,226.2 601.8,232.7 602.2,238.9 602.6,245.0 603.0,250.8 603.3,256.5 603.7,261.9 604.1,267.1 604.5,272.2 604.8,277.0 605.2,281.7 605.6,286.2 606.0,290.6 606.3,294.8 606.7,298.8 607.1,302.7 607.5,306.5 607.8,310.1 608.2,313.6 608.6,317.0 609.7,326.4 610.9,334.8 612.0,342.4 613.1,349.2 614.2,355.2 615.4,360.7 616.5,365.5 617.6,369.9 617.9,353.6 618.3,322.6 618.6,285.4 618.9,248.5 619.2,217.6 619.5,197.1 619.9,190.0 620.2,197.8 620.6,205.4 621.0,212.7 621.4,219.8 621.7,226.6 622.1,233.1 622.5,239.5 622.9,245.6 623.3,251.4 623.6,257.1 624.0,262.6 624.4,267.8 624.8,272.9 625.1,277.8 625.5,282.6 625.9,287.1 626.3,291.5 626.6,295.7 627.0,299.8 627.4,303.7 627.8,307.5 628.1,311.2 628.5,314.7 628.9,318.1 630.0,327.6 631.1,336.1 632.3,343.8 633.4,350.6 634.5,356.7 635.7,362.2 636.8,367.1 637.9,371.5 638.2,355.2 638.6,323.8 638.9,286.3 639.2,249.2 639.5,218.0 639.8,197.3 640.2,190.1 640.5,198.0 640.9,205.7 641.3,213.0 641.7,220.1 642.0,227.0 642.4,233.6 642.8,239.9 643.2,246.1 643.5,252.0 643.9,257.7 644.3,263.2 644.7,268.5 645.1,273.6 645.4,278.6 645.8,283.3 646.2,287.9 646.6,292.3 646.9,296.6 647.3,300.7 647.7,304.7 648.1,308.5 648.4,312.2 648.8,315.8 649.2,319.2 650.3,328.8 651.4,337.4 652.6,345.0 653.7,351.9 654.8,358.1 656.0,363.7 657.1,368.6 658.2,373.1 658.5,356.6 658.8,325.0 659.2,287.2 659.5,249.8 659.8,218.4 660.1,197.5 660.5,190.3 660.8,198.2 661.2,205.9 661.6,213.3 662.0,220.5 662.3,227.4 662.7,234.0 663.1,240.4 663.5,246.6 663.8,252.6 664.2,258.3 664.6,263.8 665.0,269.2 665.3,274.3 665.7,279.3 666.1,284.1 666.5,288.7 666.8,293.2 667.2,297.5 667.6,301.6 668.0,305.6 668.4,309.5 668.7,313.2 669.1,316.8 669.5,320.3 670.6,329.9 671.7,338.6 672.9,346.3 674.0,353.3 675.1,359.5 676.2,365.1 677.4,370.2 678.5,374.7 678.8,358.0 679.1,326.2 679.5,288.1 679.8,250.4 680.1,218.7 680.4,197.8 680.8,190.4 681.1,198.4 681.5,206.1 681.9,213.5 682.3,220.7 682.6,227.6 683.0,234.3 683.4,240.7 683.8,246.9 684.1,252.9 684.5,258.7 684.9,264.2 685.3,269.6 685.6,274.8 686.0,279.7 686.4,284.6 686.8,289.2 687.1,293.7 687.5,298.0 687.9,302.1 688.3,306.2 688.6,310.0 689.0,313.8 689.4,317.4 689.8,320.8 690.9,330.5 692.0,339.2 693.2,347.0 694.3,354.0 695.4,360.3 696.5,366.0 697.7,371.0 698.8,375.6 699.1,358.8 699.4,326.9 699.8,288.7 700.1,250.8 700.4,219.0 700.7,197.9 701.1,190.6 701.4,198.6 701.8,206.3 702.2,213.8 702.6,220.9 702.9,227.9 703.3,234.6 703.7,241.0 704.1,247.2 704.4,253.2 704.8,259.0 705.2,264.6 705.6,270.0 705.9,275.2 706.3,280.2 706.7,285.0 707.1,289.6 707.4,294.1 707.8,298.5 708.2,302.7 708.6,306.7 708.9,310.6 709.3,314.3 709.7,317.9 710.1,321.4 711.2,331.2 712.3,339.9 713.5,347.8 714.6,354.8 715.7,361.1 716.8,366.8 718.0,371.9 719.1,376.4 719.4,359.7 719.7,327.6 720.1,289.2 720.4,251.2 720.7,219.3 721.0,198.1 721.3,190.7 721.7,198.8 722.1,206.5 722.5,214.0 722.8,221.2 723.2,228.1 723.6,234.8 724.0,241.3 724.4,247.5 724.7,253.5 725.1,259.3 725.5,264.9 725.9,270.3 726.2,275.6 726.6,280.6 727.0,285.4 727.4,290.1 727.7,294.6 728.1,299.0 728.5,303.2 728.9,307.2 729.2,311.1 729.6,314.9 730.0,318.5 730.4,322.0 731.5,331.8 732.6,340.6 733.7,348.5 734.9,355.6 736.0,361.9 737.1,367.6 738.3,372.7 739.4,377.3 739.7,360.5 740.0,328.3 740.4,289.8 740.7,251.6 741.0,219.5 741.3,198.3 741.6,190.9 742.0,198.9 742.4,206.7 742.8,214.2 743.1,221.4 743.5,228.4 743.9,235.1 744.3,241.6 744.6,247.8 745.0,253.9 745.4,259.7 745.8,265.3 746.2,270.7 746.5,275.9 746.9,281.0 747.3,285.8 747.7,290.5 748.0,295.1 748.4,299.4 748.8,303.6 749.2,307.7 749.5,311.6 749.9,315.4 750.3,319.1 750.7,322.6 751.8,332.4 752.9,341.2 754.0,349.2 755.2,356.3 756.3,362.7 757.4,368.4 758.6,373.6 759.7,378.2 760.0,361.3 760.3,329.0 760.6,290.3 761.0,252.0 761.3,219.8 761.6,198.5 761.9,191.1 762.3,199.1 762.7,206.9 763.1,214.4 763.4,221.6 763.8,228.6 764.2,235.3 764.6,241.8 764.9,248.0 765.3,254.1 765.7,259.9 766.1,265.5 766.4,271.0 766.8,276.2 767.2,281.3 767.6,286.1 767.9,290.8 768.3,295.4 768.7,299.7 769.1,304.0 769.5,308.0 769.8,312.0 770.2,315.8 770.6,319.4 771.0,323.0 772.1,332.8 773.2,341.7 774.3,349.6 775.5,356.8 776.6,363.2 777.7,369.0 778.8,374.1 780.0,378.8 780.3,361.8 780.6,329.5 780.9,290.7 781.3,252.3 781.6,220.0 781.9,198.7 782.2,191.2 782.6,199.3 783.0,207.0 783.4,214.5 783.7,221.8 784.1,228.7 784.5,235.5 784.9,242.0 785.2,248.3 785.6,254.3 786.0,260.1 786.4,265.8 786.7,271.2 787.1,276.5 787.5,281.5 787.9,286.4 788.2,291.1 788.6,295.7 789.0,300.1 789.4,304.3 789.7,308.4 790.1,312.3 790.5,316.1 790.9,319.8 791.3,323.3 792.4,333.2 793.5,342.1 794.6,350.1 795.8,357.3 796.9,363.7 798.0,369.5 799.1,374.7 800.3,379.4 800.6,362.4 800.9,329.9 801.2,291.1 801.6,252.6 801.9,220.3 802.2,198.8 802.5,191.4 802.9,199.4 803.3,207.2 803.7,214.7 804.0,221.9 804.4,228.9 804.8,235.7 805.2,242.2 805.5,248.5 805.9,254.5 806.3,260.4 806.7,266.0 807.0,271.5 807.4,276.7 807.8,281.8 808.2,286.7 808.5,291.4 808.9,296.0 809.3,300.4 809.7,304.6 810.0,308.7 810.4,312.6 810.8,316.5 811.2,320.1 811.5,323.7 812.7,333.6 813.8,342.5 814.9,350.5 816.1,357.8 817.2,364.2 818.3,370.0 819.4,375.3 820.6,380.0 820.9,362.9 821.2,330.4 821.5,291.5 821.9,252.9 822.2,220.5 822.5,199.0 822.8,191.5 823.2,199.6 823.6,207.4 823.9,214.9 824.3,222.1 824.7,229.1 825.1,235.9 825.5,242.4 825.8,248.7 826.2,254.7 826.6,260.6 827.0,266.3 827.3,271.7 827.7,277.0 828.1,282.1 828.5,287.0 828.8,291.7 829.2,296.3 829.6,300.7 830.0,304.9 830.3,309.0 830.7,313.0 831.1,316.8 831.5,320.5 831.8,324.1 833.0,334.0 834.1,343.0 835.2,351.0 836.4,358.2 837.5,364.7 838.6,370.6 839.7,375.8 840.9,380.5 841.2,363.5 841.5,330.9 841.8,291.9 842.1,253.2 842.5,220.7 842.8,199.2 843.1,191.7 843.5,199.7 843.9,207.5 844.2,215.0 844.6,222.2 845.0,229.2 845.4,236.0 845.7,242.5 846.1,248.8 846.5,254.8 846.9,260.7 847.2,266.3" fill="none" stroke="#37AD6B" stroke-width="3" stroke-linejoin="round" stroke-linecap="round"/>
<polyline points="171.1,687.5 171.7,687.5 172.2,556.3 172.7,419.8 173.2,338.3 173.8,289.7 174.3,260.7 176.0,225.9 177.7,219.2 179.4,217.4 181.1,216.6 182.9,215.9 184.6,215.3 186.3,214.7 188.0,214.1 189.7,213.4 191.4,212.8 191.9,212.5 192.5,212.0 193.0,211.5 193.5,210.9 194.1,210.5 194.6,210.2 196.3,209.6 198.0,209.1 199.7,208.6 201.4,208.1 203.1,207.5 204.9,207.0 206.6,206.5 208.3,205.9 210.0,205.4 211.7,204.9 212.2,204.6 212.8,204.1 213.3,203.6 213.8,203.1 214.3,202.6 214.9,202.4 216.6,201.9 218.3,201.6 220.0,201.2 221.7,200.9 223.4,200.6 225.2,200.2 226.9,199.9 228.6,199.6 230.3,199.2 232.0,198.9 232.5,198.7 233.1,198.3 233.6,197.8 234.1,197.4 234.6,197.0 235.2,196.8 236.9,196.4 238.6,196.1 240.3,195.9 242.0,195.6 243.7,195.4 245.5,195.2 247.2,194.9 248.9,194.7 250.6,194.5 252.3,194.2 252.8,194.0 253.4,193.7 253.9,193.2 254.4,192.8 254.9,192.5 255.5,192.3 257.2,192.0 258.9,191.8 260.6,191.6 262.3,191.4 264.0,191.3 265.7,191.2 267.5,191.1 269.2,191.0 270.9,190.9 272.6,190.8 273.1,190.7 273.7,190.3 274.2,189.9 274.7,189.5 275.2,189.2 275.8,189.1 277.5,189.0 279.2,188.9 280.9,188.8 282.6,188.7 284.3,188.6 286.0,188.5 287.8,188.4 289.5,188.3 291.2,188.2 292.9,188.0 293.4,187.9 293.9,187.6 294.5,187.2 295.0,186.8 295.5,186.5 296.1,186.4 297.8,186.3 299.5,186.2 301.2,186.1 302.9,186.0 304.6,185.8 306.3,185.7 308.0,185.6 309.8,185.5 311.5,185.4 313.2,185.3 313.7,185.2 314.2,184.9 314.8,184.6 315.3,184.2 315.8,183.9 316.3,183.8 318.1,183.7 319.8,183.6 321.5,183.5 323.2,183.4 324.9,183.3 326.6,183.2 328.3,183.1 330.1,182.9 331.8,182.8 333.5,182.7 334.0,182.6 334.5,182.3 335.1,182.0 335.6,181.7 336.1,181.4 336.6,181.3 338.4,181.2 340.1,181.1 341.8,181.0 343.5,180.9 345.2,180.7 346.9,180.6 348.6,180.5 350.4,180.4 352.1,180.3 353.8,180.1 354.3,180.0 354.8,179.8 355.4,179.5 355.9,179.2 356.4,179.0 356.9,178.9 358.7,178.8 360.4,178.7 362.1,178.6 363.8,178.4 365.5,178.3 367.2,178.2 368.9,178.1 370.6,178.0 372.4,177.9 374.1,177.7 374.6,177.6 375.1,177.4 375.7,177.2 376.2,176.9 376.7,176.7 377.2,176.6 378.9,176.5 380.7,176.4 382.4,176.2 384.1,176.1 385.8,176.0 387.5,175.9 389.2,175.7 390.9,175.6 392.7,175.5 394.4,175.3 394.9,175.2 395.4,175.0 395.9,174.8 396.5,174.6 397.0,174.4 397.5,174.3 399.2,174.2 401.0,174.1 402.7,173.9 404.4,173.8 406.1,173.7 407.8,173.6 409.5,173.4 411.2,173.3 413.0,173.2 414.7,173.0 415.2,172.9 415.7,172.8 416.2,172.6 416.8,172.3 417.3,172.2 417.8,172.1 419.5,171.9 421.3,171.8 423.0,171.7 424.7,171.6 426.4,171.4 428.1,171.3 429.8,171.2 431.5,171.0 433.2,170.9 435.0,170.8 435.5,170.7 436.0,170.5 436.5,170.3 437.1,170.1 437.6,169.9 438.1,169.8 439.8,169.7 441.5,169.6 443.3,169.4 445.0,169.3 446.7,169.2 448.4,169.0 450.1,168.9 451.8,168.8 453.5,168.6 455.3,168.5 455.8,168.4 456.3,168.3 456.8,168.1 457.4,167.9 457.9,167.8 458.4,167.7 460.1,167.6 461.8,167.5 463.6,167.5 465.3,167.4 467.0,167.3 468.7,167.2 470.4,167.1 472.1,167.0 473.8,167.0 475.6,166.9 476.1,166.8 476.6,166.6 477.1,166.5 477.7,166.3 478.2,166.2 478.7,166.1 480.4,166.0 482.1,165.9 483.8,165.8 485.6,165.7 487.3,165.7 489.0,165.6 490.7,165.5 492.4,165.4 494.1,165.3 495.8,165.2 496.4,165.1 496.9,165.0 497.4,164.8 498.0,164.7 498.5,164.5 499.0,164.5 500.7,164.4 502.4,164.3 504.1,164.2 505.9,164.1 507.6,164.0 509.3,163.9 511.0,163.9 512.7,163.9 514.4,163.8 516.1,163.8 516.7,163.7 517.2,163.6 517.7,163.5 518.2,163.3 518.8,163.2 519.3,163.2 521.0,163.1 522.7,163.1 524.4,163.0 526.2,163.0 527.9,163.0 529.6,162.9 531.3,162.9 533.0,162.8 534.7,162.8 536.4,162.8 537.0,162.7 537.5,162.6 538.0,162.5 538.5,162.3 539.1,162.2 539.6,162.2 541.3,162.1 543.0,162.1 544.7,162.0 546.4,162.0 548.2,161.9 549.9,161.9 551.6,161.9 553.3,161.8 555.0,161.8 556.7,161.7 557.3,161.7 557.8,161.6 558.3,161.4 558.8,161.3 559.4,161.2 559.9,161.2 561.6,161.1 563.3,161.1 565.0,161.0 566.7,161.0 568.5,160.9 570.2,160.9 571.9,160.8 573.6,160.8 575.3,160.7 577.0,160.7 577.6,160.6 578.1,160.5 578.6,160.4 579.1,160.3 579.7,160.2 580.2,160.1 581.9,160.1 583.6,160.1 585.3,160.0 587.0,160.0 588.8,159.9 590.5,159.9 592.2,159.8 593.9,159.8 595.6,159.7 597.3,159.7 597.8,159.6 598.4,159.5 598.9,159.4 599.4,159.3 600.0,159.2 600.5,159.1 602.2,159.1 603.9,159.0 605.6,159.0 607.3,158.9 609.0,158.9 610.8,158.8 612.5,158.8 614.2,158.7 615.9,158.7 617.6,158.6 618.1,158.6 618.7,158.5 619.2,158.4 619.7,158.3 620.2,158.2 620.8,158.1 622.5,158.1 624.2,158.1 625.9,158.0 627.6,158.0 629.3,158.0 631.1,158.0 632.8,157.9 634.5,157.9 636.2,157.9 637.9,157.8 638.4,157.8 639.0,157.7 639.5,157.6 640.0,157.5 640.5,157.5 641.1,157.4 642.8,157.4 644.5,157.4 646.2,157.4 647.9,157.3 649.6,157.3 651.4,157.3 653.1,157.2 654.8,157.2 656.5,157.2 658.2,157.1 658.7,157.1 659.3,157.0 659.8,156.9 660.3,156.9 660.8,156.8 661.4,156.7 663.1,156.7 664.8,156.7 666.5,156.7 668.2,156.6 669.9,156.6 671.6,156.6 673.4,156.5 675.1,156.5 676.8,156.4 678.5,156.4 679.0,156.4 679.6,156.3 680.1,156.2 680.6,156.2 681.1,156.1 681.7,156.1 683.4,156.0 685.1,156.0 686.8,156.0 688.5,155.9 690.2,155.9 691.9,155.8 693.7,155.8 695.4,155.8 697.1,155.7 698.8,155.7 699.3,155.7 699.8,155.6 700.4,155.5 700.9,155.5 701.4,155.4 702.0,155.4 703.7,155.3 705.4,155.3 707.1,155.3 708.8,155.2 710.5,155.2 712.2,155.1 713.9,155.1 715.7,155.1 717.4,155.0 719.1,155.0 719.6,154.9 720.1,154.9 720.7,154.8 721.2,154.8 721.7,154.7 722.2,154.7 724.0,154.6 725.7,154.6 727.4,154.6 729.1,154.5 730.8,154.5 732.5,154.4 734.2,154.4 736.0,154.4 737.7,154.3 739.4,154.3 739.9,154.3 740.4,154.2 741.0,154.2 741.5,154.1 742.0,154.1 742.5,154.1 744.3,154.1 746.0,154.0 747.7,154.0 749.4,154.0 751.1,154.0 752.8,153.9 754.5,153.9 756.3,153.9 758.0,153.9 759.7,153.8 760.2,153.8 760.7,153.8 761.3,153.7 761.8,153.7 762.3,153.6 762.8,153.6 764.6,153.6 766.3,153.6 768.0,153.5 769.7,153.5 771.4,153.5 773.1,153.5 774.8,153.4 776.5,153.4 778.3,153.4 780.0,153.3 780.5,153.3 781.0,153.3 781.6,153.3 782.1,153.2 782.6,153.2 783.1,153.2 784.8,153.1 786.6,153.1 788.3,153.1 790.0,153.1 791.7,153.0 793.4,153.0 795.1,153.0 796.8,152.9 798.6,152.9 800.3,152.9 800.8,152.8 801.3,152.8 801.8,152.8 802.4,152.8 802.9,152.7 803.4,152.7 805.1,152.7 806.9,152.7 808.6,152.6 810.3,152.6 812.0,152.6 813.7,152.5 815.4,152.5 817.1,152.4 818.9,152.4 820.6,152.4 821.1,152.4 821.6,152.3 822.1,152.3 822.7,152.3 823.2,152.3 823.7,152.3 825.4,152.2 827.2,152.2 828.9,152.2 830.6,152.1 832.3,152.1 834.0,152.0 835.7,152.0 837.4,152.0 839.1,151.9 840.9,151.9 841.4,151.9 841.9,151.9 842.4,151.8 843.0,151.8 843.5,151.8 844.0,151.8 845.7,151.8" fill="none" stroke="#B177DE" stroke-width="3" stroke-linejoin="round" stroke-linecap="round"/>
<polyline points="171.1,687.5 171.6,687.5 172.0,687.5 172.5,687.5 172.9,687.5 173.4,687.5 173.8,687.5 175.6,687.5 177.3,674.9 179.1,651.9 180.9,631.0 182.6,618.3 184.4,609.0 186.1,600.6 187.9,593.0 189.7,586.4 191.4,578.6 191.9,576.2 192.3,573.5 192.8,570.1 193.2,565.5 193.7,560.1 194.1,554.9 195.9,544.6 197.6,540.5 199.4,537.7 201.2,535.6 202.9,533.9 204.7,532.5 206.4,531.0 208.2,529.1 210.0,526.5 211.7,522.5 212.2,520.5 212.6,518.2 213.1,516.0 213.5,514.2 214.0,512.9 214.4,511.8 216.2,508.2 217.9,505.6 219.7,504.0 221.5,502.9 223.2,502.2 225.0,501.6 226.7,501.0 228.5,500.2 230.3,499.0 232.0,496.6 232.5,495.2 232.9,493.7 233.4,492.2 233.8,490.7 234.3,489.4 234.7,488.4 236.5,486.5 238.2,485.1 240.0,484.0 241.8,483.1 243.5,482.4 245.3,481.9 247.0,481.5 248.8,481.1 250.5,480.6 252.3,479.8 252.8,479.5 253.2,479.2 253.7,478.5 254.1,477.4 254.6,476.2 255.0,474.9 256.8,471.1 258.5,470.2 260.3,469.4 262.0,468.9 263.8,468.6 265.6,468.2 267.3,467.9 269.1,467.5 270.8,466.9 272.6,466.0 273.1,465.6 273.5,465.1 274.0,464.5 274.4,463.9 274.9,463.2 275.3,462.5 277.1,460.6 278.8,459.9 280.6,459.5 282.3,459.2 284.1,459.0 285.9,458.8 287.6,458.5 289.4,458.2 291.1,457.8 292.9,457.2 293.3,456.9 293.8,456.5 294.2,456.0 294.7,455.4 295.2,454.7 295.6,454.1 297.4,452.4 299.1,452.1 300.9,451.8 302.6,451.6 304.4,451.5 306.2,451.4 307.9,451.3 309.7,451.2 311.4,450.9 313.2,450.6 313.6,450.5 314.1,450.3 314.5,449.8 315.0,449.3 315.4,448.7 315.9,448.1 317.7,446.8 319.4,446.6 321.2,446.5 322.9,446.4 324.7,446.4 326.4,446.3 328.2,446.2 330.0,446.1 331.7,445.9 333.5,445.3 333.9,445.1 334.4,444.8 334.8,444.4 335.3,444.0 335.7,443.7 336.2,443.4 338.0,442.8 339.7,442.5 341.5,442.2 343.2,442.0 345.0,441.9 346.7,441.7 348.5,441.6 350.3,441.5 352.0,441.3 353.8,441.2 354.2,441.1 354.7,440.7 355.1,440.3 355.6,439.9 356.0,439.6 356.5,439.4 358.2,439.2 360.0,439.0 361.8,438.8 363.5,438.6 365.3,438.3 367.0,438.1 368.8,437.8 370.6,437.6 372.3,437.3 374.1,437.1 374.5,436.9 375.0,436.6 375.4,436.2 375.9,435.7 376.3,435.4 376.8,435.2 378.5,435.1 380.3,435.0 382.1,435.0 383.8,434.9 385.6,434.9 387.3,434.9 389.1,434.9 390.9,434.9 392.6,435.0 394.4,435.0 394.8,434.9 395.3,434.6 395.7,434.1 396.2,433.7 396.6,433.4 397.1,433.3 398.8,433.3 400.6,433.3 402.4,433.3 404.1,433.3 405.9,433.3 407.6,433.3 409.4,433.3 411.1,433.3 412.9,433.3 414.7,433.3 415.1,433.2 415.6,432.9 416.0,432.4 416.5,432.0 416.9,431.6 417.4,431.5 419.1,431.5 420.9,431.5 422.6,431.5 424.4,431.5 426.2,431.5 427.9,431.5 429.7,431.5 431.4,431.6 433.2,431.6 435.0,431.6 435.4,431.5 435.9,431.1 436.3,430.7 436.8,430.2 437.2,429.9 437.7,429.7 439.4,429.8 441.2,429.8 442.9,429.9 444.7,429.9 446.5,430.0 448.2,430.1 450.0,430.2 451.7,430.3 453.5,430.4 455.3,430.5 455.7,430.4 456.2,430.0 456.6,429.6 457.1,429.1 457.5,428.8 458.0,428.7 459.7,428.8 461.5,428.9 463.2,429.0 465.0,429.1 466.8,429.2 468.5,429.3 470.3,429.4 472.0,429.6 473.8,429.7 475.6,429.8 476.0,429.7 476.5,429.3 476.9,428.9 477.4,428.4 477.8,428.0 478.3,427.9 480.0,428.0 481.8,428.2 483.5,428.3 485.3,428.5 487.1,428.6 488.8,428.8 490.6,429.0 492.3,429.1 494.1,429.3 495.8,429.5 496.3,429.4 496.7,429.0 497.2,428.5 497.6,428.1 498.1,427.7 498.6,427.6 500.3,427.8 502.1,428.0 503.8,428.2 505.6,428.4 507.3,428.6 509.1,428.8 510.9,429.0 512.6,429.2 514.4,429.4 516.1,429.6 516.6,429.5 517.0,429.1 517.5,428.6 517.9,428.1 518.4,427.8 518.8,427.6 520.6,427.8 522.4,428.1 524.1,428.3 525.9,428.5 527.6,428.7 529.4,429.0 531.2,429.2 532.9,429.4 534.7,429.7 536.4,429.9 536.9,429.8 537.3,429.4 537.8,428.9 538.2,428.3 538.7,427.9 539.1,427.8 540.9,428.0 542.7,428.3 544.4,428.5 546.2,428.8 547.9,429.0 549.7,429.3 551.5,429.5 553.2,429.8 555.0,430.1 556.7,430.3 557.2,430.2 557.6,429.8 558.1,429.2 558.5,428.6 559.0,428.2 559.4,428.1 561.2,428.3 563.0,428.6 564.7,428.9 566.5,429.2 568.2,429.5 570.0,429.8 571.7,430.1 573.5,430.4 575.3,430.7 577.0,431.0 577.5,430.8 577.9,430.4 578.4,429.8 578.8,429.2 579.3,428.7 579.7,428.6 581.5,428.9 583.2,429.2 585.0,429.5 586.8,429.8 588.5,430.1 590.3,430.5 592.0,430.8 593.8,431.1 595.6,431.5 597.3,431.8 597.8,431.7 598.2,431.2 598.7,430.6 599.1,429.9 599.6,429.4 600.0,429.3 601.8,429.6 603.5,430.0 605.3,430.3 607.1,430.7 608.8,431.0 610.6,431.4 612.3,431.7 614.1,432.1 615.9,432.4 617.6,432.8 618.1,432.6 618.5,432.2 619.0,431.5 619.4,430.8 619.9,430.3 620.3,430.1 622.1,430.5 623.8,430.9 625.6,431.2 627.4,431.6 629.1,432.0 630.9,432.3 632.6,432.7 634.4,433.1 636.2,433.5 637.9,433.9 638.4,433.7 638.8,433.2 639.3,432.5 639.7,431.8 640.2,431.3 640.6,431.1 642.4,431.5 644.1,431.8 645.9,432.2 647.7,432.6 649.4,433.0 651.2,433.4 652.9,433.8 654.7,434.2 656.4,434.5 658.2,434.9 658.7,434.8 659.1,434.2 659.6,433.5 660.0,432.8 660.5,432.3 660.9,432.1 662.7,432.5 664.4,432.9 666.2,433.3 667.9,433.7 669.7,434.1 671.5,434.6 673.2,435.0 675.0,435.4 676.7,435.8 678.5,436.3 679.0,436.1 679.4,435.5 679.9,434.8 680.3,434.0 680.8,433.5 681.2,433.3 683.0,433.7 684.7,434.1 686.5,434.6 688.2,435.0 690.0,435.4 691.8,435.8 693.5,436.3 695.3,436.7 697.0,437.1 698.8,437.5 699.2,437.4 699.7,436.8 700.1,436.0 700.6,435.3 701.1,434.7 701.5,434.5 703.3,434.9 705.0,435.4 706.8,435.8 708.5,436.2 710.3,436.6 712.1,437.1 713.8,437.5 715.6,437.9 717.3,438.4 719.1,438.8 719.5,438.6 720.0,438.0 720.4,437.3 720.9,436.5 721.3,435.9 721.8,435.7 723.6,436.1 725.3,436.5 727.1,437.0 728.8,437.4 730.6,437.9 732.3,438.3 734.1,438.7 735.9,439.2 737.6,439.6 739.4,440.1 739.8,439.9 740.3,439.3 740.7,438.5 741.2,437.6 741.6,437.0 742.1,436.8 743.9,437.3 745.6,437.7 747.4,438.2 749.1,438.6 750.9,439.0 752.6,439.5 754.4,439.9 756.2,440.4 757.9,440.8 759.7,441.3 760.1,441.1 760.6,440.5 761.0,439.6 761.5,438.8 761.9,438.1 762.4,437.9 764.1,438.4 765.9,438.8 767.7,439.3 769.4,439.7 771.2,440.2 772.9,440.6 774.7,441.1 776.5,441.5 778.2,442.0 780.0,442.5 780.4,442.2 780.9,441.6 781.3,440.7 781.8,439.9 782.2,439.2 782.7,439.0 784.4,439.5 786.2,439.9 788.0,440.4 789.7,440.8 791.5,441.3 793.2,441.7 795.0,442.2 796.8,442.7 798.5,443.1 800.3,443.6 800.7,443.4 801.2,442.7 801.6,441.8 802.1,440.9 802.5,440.3 803.0,440.0 804.7,440.5 806.5,441.0 808.3,441.4 810.0,441.9 811.8,442.4 813.5,442.8 815.3,443.3 817.0,443.8 818.8,444.2 820.6,444.7 821.0,444.5 821.5,443.8 821.9,442.9 822.4,442.0 822.8,441.3 823.3,441.1 825.0,441.5 826.8,442.0 828.5,442.5 830.3,442.9 832.1,443.4 833.8,443.9 835.6,444.4 837.3,444.8 839.1,445.3 840.9,445.8 841.3,445.6 841.8,444.9 842.2,443.9 842.7,443.0 843.1,442.3 843.6,442.0 845.3,442.5 847.1,443.0" fill="none" stroke="#CC9900" stroke-width="3" stroke-linejoin="round" stroke-linecap="round"/>
</g>
<g stroke="#000" stroke-width="3.3" fill="none">
<path d="M132.60 19.20H849.65M848.00 19.20V643.55M132.60 627.55H848.00M148.30 19.20V627.55"/>
<path d="M132.60 584.10H148.30M132.60 540.64H148.30M132.60 497.19H148.30M132.60 453.74H148.30M132.60 410.28H148.30M132.60 366.83H148.30M132.60 323.38H148.30M132.60 279.92H148.30M132.60 236.47H148.30M132.60 193.01H148.30M132.60 149.56H148.30M132.60 106.11H148.30M132.60 62.65H148.30M170.90 627.55V643.55M283.65 627.55V643.55M396.40 627.55V643.55M509.15 627.55V643.55M621.90 627.55V643.55M734.65 627.55V643.55M847.40 627.55V643.55M227.28 627.55V635.55M340.02 627.55V635.55M452.77 627.55V635.55M565.52 627.55V635.55M678.27 627.55V635.55M791.02 627.55V635.55"/>
<path d="M140.70 614.47H148.30M140.70 606.82H148.30M140.70 601.39H148.30M140.70 597.18H148.30M140.70 593.74H148.30M140.70 590.83H148.30M140.70 588.31H148.30M140.70 586.08H148.30M140.70 571.02H148.30M140.70 563.36H148.30M140.70 557.93H148.30M140.70 553.72H148.30M140.70 550.28H148.30M140.70 547.37H148.30M140.70 544.85H148.30M140.70 542.63H148.30M140.70 527.56H148.30M140.70 519.91H148.30M140.70 514.48H148.30M140.70 510.27H148.30M140.70 506.83H148.30M140.70 503.92H148.30M140.70 501.40H148.30M140.70 499.18H148.30M140.70 484.11H148.30M140.70 476.46H148.30M140.70 471.03H148.30M140.70 466.82H148.30M140.70 463.38H148.30M140.70 460.47H148.30M140.70 457.95H148.30M140.70 455.72H148.30M140.70 440.65H148.30M140.70 433.00H148.30M140.70 427.57H148.30M140.70 423.36H148.30M140.70 419.92H148.30M140.70 417.01H148.30M140.70 414.49H148.30M140.70 412.27H148.30M140.70 397.20H148.30M140.70 389.55H148.30M140.70 384.12H148.30M140.70 379.91H148.30M140.70 376.47H148.30M140.70 373.56H148.30M140.70 371.04H148.30M140.70 368.82H148.30M140.70 353.75H148.30M140.70 346.10H148.30M140.70 340.67H148.30M140.70 336.46H148.30M140.70 333.02H148.30M140.70 330.11H148.30M140.70 327.59H148.30M140.70 325.36H148.30M140.70 310.29H148.30M140.70 302.64H148.30M140.70 297.21H148.30M140.70 293.00H148.30M140.70 289.56H148.30M140.70 286.65H148.30M140.70 284.13H148.30M140.70 281.91H148.30M140.70 266.84H148.30M140.70 259.19H148.30M140.70 253.76H148.30M140.70 249.55H148.30M140.70 246.11H148.30M140.70 243.20H148.30M140.70 240.68H148.30M140.70 238.46H148.30M140.70 223.39H148.30M140.70 215.74H148.30M140.70 210.31H148.30M140.70 206.10H148.30M140.70 202.65H148.30M140.70 199.75H148.30M140.70 197.23H148.30M140.70 195.00H148.30M140.70 179.93H148.30M140.70 172.28H148.30M140.70 166.85H148.30M140.70 162.64H148.30M140.70 159.20H148.30M140.70 156.29H148.30M140.70 153.77H148.30M140.70 151.55H148.30M140.70 136.48H148.30M140.70 128.83H148.30M140.70 123.40H148.30M140.70 119.19H148.30M140.70 115.75H148.30M140.70 112.84H148.30M140.70 110.32H148.30M140.70 108.10H148.30M140.70 93.03H148.30M140.70 85.37H148.30M140.70 79.95H148.30M140.70 75.73H148.30M140.70 72.29H148.30M140.70 69.38H148.30M140.70 66.86H148.30M140.70 64.64H148.30M140.70 49.57H148.30M140.70 41.92H148.30M140.70 36.49H148.30M140.70 32.28H148.30M140.70 28.84H148.30M140.70 25.93H148.30M140.70 23.41H148.30M140.70 21.19H148.30" stroke-width="3.0"/>
</g>
<g transform="translate(70.54,642.75) scale(0.9400,1)" font-family="Liberation Serif, serif" font-weight="bold"><text x="0.00" y="0.00" font-size="42.0">10</text><text x="41.00" y="-15.70" font-size="27.5">3</text></g>
<g transform="translate(70.54,555.84) scale(0.9400,1)" font-family="Liberation Serif, serif" font-weight="bold"><text x="0.00" y="0.00" font-size="42.0">10</text><text x="41.00" y="-15.70" font-size="27.5">5</text></g>
<g transform="translate(70.28,468.94) scale(0.9400,1)" font-family="Liberation Serif, serif" font-weight="bold"><text x="0.00" y="0.00" font-size="42.0">10</text><text x="41.00" y="-15.70" font-size="27.5">7</text></g>
<g transform="translate(70.54,382.03) scale(0.9400,1)" font-family="Liberation Serif, serif" font-weight="bold"><text x="0.00" y="0.00" font-size="42.0">10</text><text x="41.00" y="-15.70" font-size="27.5">9</text></g>
<g transform="translate(59.42,295.12) scale(0.9400,1)" font-family="Liberation Serif, serif" font-weight="bold"><text x="0.00" y="0.00" font-size="42.0">10</text><text x="41.00" y="-15.70" font-size="27.5">11</text></g>
<g transform="translate(57.61,208.21) scale(0.9400,1)" font-family="Liberation Serif, serif" font-weight="bold"><text x="0.00" y="0.00" font-size="42.0">10</text><text x="41.00" y="-15.70" font-size="27.5">13</text></g>
<g transform="translate(57.61,121.31) scale(0.9400,1)" font-family="Liberation Serif, serif" font-weight="bold"><text x="0.00" y="0.00" font-size="42.0">10</text><text x="41.00" y="-15.70" font-size="27.5">15</text></g>
<g transform="translate(57.36,34.40) scale(0.9400,1)" font-family="Liberation Serif, serif" font-weight="bold"><text x="0.00" y="0.00" font-size="42.0">10</text><text x="41.00" y="-15.70" font-size="27.5">17</text></g>
<text transform="translate(146.62,686.35) scale(0.9520,1)" font-size="40.8" font-family="Liberation Serif, serif" font-weight="bold">0.0</text>
<text transform="translate(259.28,686.35) scale(0.9520,1)" font-size="40.8" font-family="Liberation Serif, serif" font-weight="bold">0.5</text>
<text transform="translate(371.35,686.35) scale(0.9520,1)" font-size="40.8" font-family="Liberation Serif, serif" font-weight="bold">1.0</text>
<text transform="translate(484.00,686.35) scale(0.9520,1)" font-size="40.8" font-family="Liberation Serif, serif" font-weight="bold">1.5</text>
<text transform="translate(597.62,686.35) scale(0.9520,1)" font-size="40.8" font-family="Liberation Serif, serif" font-weight="bold">2.0</text>
<text transform="translate(710.28,686.35) scale(0.9520,1)" font-size="40.8" font-family="Liberation Serif, serif" font-weight="bold">2.5</text>
<text transform="translate(823.22,686.35) scale(0.9520,1)" font-size="40.8" font-family="Liberation Serif, serif" font-weight="bold">3.0</text>
<line x1="147.0" y1="38.5" x2="215.4" y2="38.5" stroke="#515151" stroke-width="3.3" stroke-linecap="round"/>
<g transform="translate(223.84,50.00) scale(0.9400,1)" font-family="Liberation Serif, serif" font-weight="bold"><text x="0.00" y="0.00" font-size="32.8">H</text><text x="25.51" y="-13.00" font-size="21.0">+</text></g>
<line x1="286.9" y1="38.5" x2="355.3" y2="38.5" stroke="#F14040" stroke-width="3.3" stroke-linecap="round"/>
<g transform="translate(362.96,50.00) scale(0.9400,1)" font-family="Liberation Serif, serif" font-weight="bold"><text x="0.00" y="0.00" font-size="32.8">O</text><text x="25.51" y="-13.00" font-size="21.0">-</text></g>
<line x1="438.5" y1="38.5" x2="506.9" y2="38.5" stroke="#1A6FDF" stroke-width="3.3" stroke-linecap="round"/>
<g transform="translate(513.46,50.00) scale(0.9400,1)" font-family="Liberation Serif, serif" font-weight="bold"><text x="0.00" y="0.00" font-size="32.8">OH</text><text x="51.03" y="-13.00" font-size="21.0">-</text></g>
<line x1="147.0" y1="82.5" x2="215.4" y2="82.5" stroke="#37AD6B" stroke-width="3.3" stroke-linecap="round"/>
<g transform="translate(222.76,94.00) scale(0.9400,1)" font-family="Liberation Serif, serif" font-weight="bold"><text x="0.00" y="0.00" font-size="32.8">CO</text><text x="49.20" y="-13.00" font-size="21.0">+</text><text x="49.20" y="8.00" font-size="21.0">2</text></g>
<line x1="286.9" y1="82.5" x2="355.3" y2="82.5" stroke="#B177DE" stroke-width="3.3" stroke-linecap="round"/>
<g transform="translate(364.04,94.00) scale(0.9400,1)" font-family="Liberation Serif, serif" font-weight="bold"><text x="0.00" y="0.00" font-size="32.8">H</text><text x="25.51" y="8.00" font-size="21.0">3</text><text x="36.01" y="0.00" font-size="32.8">O</text><text x="61.53" y="-13.00" font-size="21.0">+</text></g>
<line x1="438.5" y1="82.5" x2="506.9" y2="82.5" stroke="#CC9900" stroke-width="3.3" stroke-linecap="round"/>
<g transform="translate(513.46,94.00) scale(0.9400,1)" font-family="Liberation Serif, serif" font-weight="bold"><text x="0.00" y="0.00" font-size="32.8">CH</text><text x="49.20" y="-13.00" font-size="21.0">+</text><text x="49.20" y="8.00" font-size="21.0">5</text></g>
<text transform="translate(764.72,60.90) scale(0.9400,1)" font-size="41.2" font-family="Liberation Serif, serif" font-weight="bold">10%</text>
<text transform="translate(429.78,747.90) scale(0.9630,1)" font-size="43.8" font-family="Liberation Serif, serif" font-weight="bold">T (μs)</text>
<g transform="translate(37.80,481.06) rotate(-90) scale(0.9870,1)" font-family="Liberation Serif, serif" font-weight="bold"><text x="0.00" y="0.00" font-size="43.8">Ion density(cm</text><text x="278.63" y="-17.00" font-size="30.0">-3</text><text x="303.62" y="0.00" font-size="43.8">)</text></g>
<text transform="translate(472.49,817.90) scale(1.0000,1)" font-size="33.3" font-family="Liberation Sans, sans-serif">(a)</text>
<g transform="matrix(0.97 0 0 1 970.48 0)">
<clipPath id="cb"><rect x="148.3" y="19.2" width="699.7" height="608.3"/></clipPath>
<g clip-path="url(#cb)">
<polyline points="171.1,687.5 171.7,687.5 172.2,687.5 172.7,608.8 173.2,455.4 173.8,359.1 174.3,298.8 176.0,220.0 177.7,202.6 179.4,198.9 181.1,198.1 182.9,197.9 184.6,197.9 186.3,197.9 188.0,197.9 189.7,196.8 191.4,194.2 191.9,193.0 192.5,191.4 193.0,189.5 193.5,187.6 194.1,186.7 194.6,186.2 196.3,186.0 198.0,185.7 199.7,185.5 201.4,185.2 203.1,184.9 204.9,184.7 206.6,184.4 208.3,184.1 210.0,183.8 211.7,183.5 212.2,183.1 212.8,182.2 213.3,181.0 213.8,179.9 214.3,179.0 214.9,178.6 216.6,178.5 218.3,178.4 220.0,178.2 221.7,178.1 223.4,177.9 225.2,177.8 226.9,177.6 228.6,177.5 230.3,177.3 232.0,177.2 232.5,176.8 233.1,175.9 233.6,174.9 234.1,173.9 234.6,173.1 235.2,172.8 236.9,172.8 238.6,172.7 240.3,172.7 242.0,172.7 243.7,172.7 245.5,172.7 247.2,172.6 248.9,172.6 250.6,172.5 252.3,172.5 252.8,172.2 253.4,171.4 253.9,170.5 254.4,169.6 254.9,168.9 255.5,168.6 257.2,168.5 258.9,168.5 260.6,168.4 262.3,168.3 264.0,168.3 265.7,168.2 267.5,168.1 269.2,168.0 270.9,167.9 272.6,167.8 273.1,167.5 273.7,166.9 274.2,166.0 274.7,165.2 275.2,164.6 275.8,164.3 277.5,164.4 279.2,164.4 280.9,164.4 282.6,164.4 284.3,164.5 286.0,164.5 287.8,164.5 289.5,164.5 291.2,164.5 292.9,164.4 293.4,164.2 293.9,163.6 294.5,162.9 295.0,162.1 295.5,161.6 296.1,161.3 297.8,161.3 299.5,161.3 301.2,161.3 302.9,161.3 304.6,161.3 306.3,161.3 308.0,161.2 309.8,161.2 311.5,161.2 313.2,161.1 313.7,160.9 314.2,160.4 314.8,159.8 315.3,159.2 315.8,158.7 316.3,158.5 318.1,158.6 319.8,158.7 321.5,158.7 323.2,158.8 324.9,158.8 326.6,158.9 328.3,158.9 330.1,159.0 331.8,159.0 333.5,159.0 334.0,158.8 334.5,158.4 335.1,157.9 335.6,157.3 336.1,156.9 336.6,156.7 338.4,156.8 340.1,156.8 341.8,156.8 343.5,156.9 345.2,156.9 346.9,156.9 348.6,156.9 350.4,156.9 352.1,156.9 353.8,156.9 354.3,156.8 354.8,156.4 355.4,156.0 355.9,155.5 356.4,155.1 356.9,155.0 358.7,155.1 360.4,155.1 362.1,155.2 363.8,155.2 365.5,155.3 367.2,155.4 368.9,155.4 370.6,155.5 372.4,155.6 374.1,155.6 374.6,155.5 375.1,155.1 375.7,154.7 376.2,154.2 376.7,153.8 377.2,153.7 378.9,153.8 380.7,153.8 382.4,153.9 384.1,153.9 385.8,154.0 387.5,154.1 389.2,154.1 390.9,154.2 392.7,154.3 394.4,154.3 394.9,154.2 395.4,153.8 395.9,153.4 396.5,152.9 397.0,152.5 397.5,152.4 399.2,152.4 401.0,152.5 402.7,152.6 404.4,152.8 406.1,152.9 407.8,153.0 409.5,153.1 411.2,153.3 413.0,153.4 414.7,153.5 415.2,153.4 415.7,153.1 416.2,152.6 416.8,152.2 417.3,151.8 417.8,151.7 419.5,151.8 421.3,152.0 423.0,152.1 424.7,152.2 426.4,152.3 428.1,152.5 429.8,152.6 431.5,152.7 433.2,152.8 435.0,153.0 435.5,152.8 436.0,152.5 436.5,152.1 437.1,151.6 437.6,151.3 438.1,151.1 439.8,151.3 441.5,151.4 443.3,151.5 445.0,151.7 446.7,151.8 448.4,151.9 450.1,152.0 451.8,152.2 453.5,152.3 455.3,152.4 455.8,152.3 456.3,151.9 456.8,151.5 457.4,151.0 457.9,150.7 458.4,150.6 460.1,150.7 461.8,150.8 463.6,151.0 465.3,151.1 467.0,151.3 468.7,151.4 470.4,151.6 472.1,151.7 473.8,151.9 475.6,152.0 476.1,151.9 476.6,151.6 477.1,151.1 477.7,150.7 478.2,150.4 478.7,150.2 480.4,150.4 482.1,150.5 483.8,150.7 485.6,150.8 487.3,151.0 489.0,151.2 490.7,151.3 492.4,151.5 494.1,151.6 495.8,151.8 496.4,151.6 496.9,151.3 497.4,150.9 498.0,150.4 498.5,150.1 499.0,150.0 500.7,150.1 502.4,150.3 504.1,150.4 505.9,150.6 507.6,150.7 509.3,150.9 511.0,151.0 512.7,151.2 514.4,151.4 516.1,151.5 516.7,151.4 517.2,151.1 517.7,150.6 518.2,150.2 518.8,149.8 519.3,149.7 521.0,149.8 522.7,150.0 524.4,150.2 526.2,150.3 527.9,150.5 529.6,150.6 531.3,150.8 533.0,151.0 534.7,151.2 536.4,151.4 537.0,151.2 537.5,150.9 538.0,150.4 538.5,150.0 539.1,149.6 539.6,149.5 541.3,149.7 543.0,149.9 544.7,150.0 546.4,150.2 548.2,150.4 549.9,150.6 551.6,150.8 553.3,151.0 555.0,151.2 556.7,151.4 557.3,151.3 557.8,150.9 558.3,150.4 558.8,149.9 559.4,149.6 559.9,149.4 561.6,149.6 563.3,149.8 565.0,150.0 566.7,150.2 568.5,150.4 570.2,150.6 571.9,150.8 573.6,151.1 575.3,151.3 577.0,151.5 577.6,151.3 578.1,151.0 578.6,150.4 579.1,149.9 579.7,149.5 580.2,149.4 581.9,149.6 583.6,149.8 585.3,150.0 587.0,150.2 588.8,150.4 590.5,150.6 592.2,150.9 593.9,151.1 595.6,151.3 597.3,151.5 597.8,151.4 598.4,151.0 598.9,150.4 599.4,149.9 600.0,149.5 600.5,149.3 602.2,149.6 603.9,149.8 605.6,150.1 607.3,150.3 609.0,150.6 610.8,150.8 612.5,151.1 614.2,151.3 615.9,151.6 617.6,151.8 618.1,151.7 618.7,151.3 619.2,150.7 619.7,150.1 620.2,149.7 620.8,149.5 622.5,149.8 624.2,150.0 625.9,150.3 627.6,150.6 629.3,150.8 631.1,151.1 632.8,151.3 634.5,151.6 636.2,151.9 637.9,152.1 638.4,152.0 639.0,151.6 639.5,150.9 640.0,150.3 640.5,149.9 641.1,149.7 642.8,150.0 644.5,150.3 646.2,150.5 647.9,150.8 649.6,151.1 651.4,151.3 653.1,151.6 654.8,151.9 656.5,152.2 658.2,152.5 658.7,152.3 659.3,151.8 659.8,151.2 660.3,150.6 660.8,150.1 661.4,149.9 663.1,150.2 664.8,150.5 666.5,150.8 668.2,151.1 669.9,151.4 671.6,151.7 673.4,151.9 675.1,152.2 676.8,152.5 678.5,152.8 679.0,152.7 679.6,152.2 680.1,151.6 680.6,150.9 681.1,150.4 681.7,150.3 683.4,150.6 685.1,150.9 686.8,151.1 688.5,151.4 690.2,151.7 691.9,152.0 693.7,152.3 695.4,152.6 697.1,153.0 698.8,153.3 699.3,153.1 699.8,152.6 700.4,151.9 700.9,151.3 701.4,150.8 702.0,150.6 703.7,150.9 705.4,151.2 707.1,151.5 708.8,151.8 710.5,152.1 712.2,152.4 713.9,152.7 715.7,153.1 717.4,153.4 719.1,153.7 719.6,153.5 720.1,153.0 720.7,152.3 721.2,151.7 721.7,151.2 722.2,151.0 724.0,151.3 725.7,151.6 727.4,151.9 729.1,152.2 730.8,152.5 732.5,152.8 734.2,153.1 736.0,153.5 737.7,153.8 739.4,154.1 739.9,153.9 740.4,153.4 741.0,152.7 741.5,152.0 742.0,151.5 742.5,151.4 744.3,151.7 746.0,152.0 747.7,152.3 749.4,152.6 751.1,152.9 752.8,153.2 754.5,153.5 756.3,153.9 758.0,154.2 759.7,154.5 760.2,154.3 760.7,153.8 761.3,153.1 761.8,152.4 762.3,151.9 762.8,151.7 764.6,152.0 766.3,152.4 768.0,152.7 769.7,153.0 771.4,153.3 773.1,153.6 774.8,154.0 776.5,154.3 778.3,154.6 780.0,154.9 780.5,154.7 781.0,154.2 781.6,153.5 782.1,152.8 782.6,152.3 783.1,152.1 784.8,152.4 786.6,152.7 788.3,153.1 790.0,153.4 791.7,153.7 793.4,154.0 795.1,154.4 796.8,154.7 798.6,155.0 800.3,155.3 800.8,155.1 801.3,154.6 801.8,153.9 802.4,153.2 802.9,152.6 803.4,152.5 805.1,152.8 806.9,153.1 808.6,153.4 810.3,153.8 812.0,154.1 813.7,154.4 815.4,154.8 817.1,155.1 818.9,155.4 820.6,155.7 821.1,155.6 821.6,155.0 822.1,154.3 822.7,153.6 823.2,153.0 823.7,152.8 825.4,153.2 827.2,153.5 828.9,153.8 830.6,154.2 832.3,154.5 834.0,154.8 835.7,155.2 837.4,155.5 839.1,155.8 840.9,156.2 841.4,156.0 841.9,155.4 842.4,154.7 843.0,153.9 843.5,153.4 844.0,153.2 845.7,153.5" fill="none" stroke="#515151" stroke-width="3" stroke-linejoin="round" stroke-linecap="round"/>
<polyline points="171.1,687.5 171.5,258.2 173.6,236.5 176.1,243.0 176.3,294.2 176.5,345.5 176.7,396.7 176.9,447.8 177.1,498.2 177.3,540.7 177.5,557.4 177.7,560.5 177.9,561.9 178.8,566.5 179.6,570.3 180.5,573.4 181.3,576.1 182.1,578.2 183.0,580.0 183.8,581.5 184.7,582.8 185.5,583.8 186.4,584.6 187.2,585.3 188.0,585.9 188.9,586.4 189.7,586.8 190.6,587.2 191.4,587.4 191.8,261.4 192.8,239.6 194.1,246.1 194.4,304.9 194.6,363.6 194.8,422.4 195.1,480.5 195.3,530.2 195.5,547.5 195.8,550.2 196.0,551.6 196.2,552.9 197.2,557.5 198.2,561.1 199.1,564.1 200.1,566.4 201.1,568.2 202.0,569.7 203.0,570.9 204.0,571.8 204.9,572.5 205.9,573.1 206.9,573.6 207.8,574.0 208.8,574.2 209.8,574.5 210.7,574.7 211.7,574.8 212.1,264.5 213.1,242.8 214.4,249.3 214.7,308.0 214.9,366.8 215.1,425.5 215.4,483.0 215.6,526.3 215.8,537.1 216.1,539.1 216.3,540.4 216.5,541.7 217.5,546.0 218.5,549.4 219.4,552.1 220.4,554.2 221.4,555.8 222.3,557.1 223.3,558.1 224.3,558.9 225.2,559.5 226.2,560.0 227.2,560.4 228.1,560.7 229.1,560.9 230.1,561.1 231.0,561.3 232.0,561.4 232.3,267.6 233.4,245.9 234.7,252.4 235.0,311.2 235.2,369.9 235.4,428.5 235.7,485.1 235.9,521.5 236.1,528.5 236.4,530.1 236.6,531.4 236.8,532.6 237.8,536.7 238.8,539.8 239.7,542.2 240.7,544.1 241.7,545.6 242.6,546.7 243.6,547.5 244.6,548.2 245.5,548.7 246.5,549.1 247.5,549.4 248.4,549.6 249.4,549.8 250.4,549.9 251.3,550.0 252.3,550.1 252.6,270.7 253.7,249.0 255.0,255.5 255.2,314.3 255.5,373.0 255.7,431.6 255.9,486.7 256.2,516.5 256.4,521.3 256.7,522.7 256.9,523.9 257.1,525.0 258.1,528.7 259.1,531.6 260.0,533.7 261.0,535.3 262.0,536.5 262.9,537.5 263.9,538.2 264.9,538.7 265.8,539.1 266.8,539.4 267.8,539.6 268.7,539.8 269.7,539.9 270.7,540.0 271.6,540.1 272.6,540.1 272.9,273.9 274.0,252.1 275.3,258.7 275.5,317.4 275.8,376.1 276.0,434.6 276.2,487.9 276.5,511.9 276.7,515.4 276.9,516.6 277.2,517.7 277.4,518.7 278.4,522.1 279.4,524.6 280.3,526.4 281.3,527.8 282.3,528.8 283.2,529.5 284.2,530.0 285.2,530.4 286.1,530.7 287.1,530.9 288.1,531.1 289.0,531.2 290.0,531.3 291.0,531.3 291.9,531.4 292.9,531.4 293.2,276.6 294.2,254.9 295.6,261.4 295.8,320.2 296.1,378.9 296.3,437.2 296.5,488.1 296.8,507.2 297.0,509.8 297.2,510.9 297.5,511.9 297.7,512.8 298.7,515.7 299.6,517.9 300.6,519.4 301.6,520.5 302.5,521.3 303.5,521.8 304.5,522.2 305.5,522.5 306.4,522.7 307.4,522.9 308.4,523.0 309.3,523.0 310.3,523.1 311.3,523.1 312.2,523.2 313.2,523.2 313.5,279.0 314.5,257.3 315.9,263.8 316.1,322.5 316.4,381.2 316.6,439.3 316.8,487.3 317.1,502.2 317.3,504.3 317.5,505.2 317.8,506.1 318.0,506.9 319.0,509.5 319.9,511.4 320.9,512.6 321.9,513.5 322.8,514.1 323.8,514.5 324.8,514.8 325.7,515.0 326.7,515.1 327.7,515.2 328.6,515.3 329.6,515.3 330.6,515.3 331.6,515.4 332.5,515.4 333.5,515.4 333.8,281.3 334.8,259.6 336.2,266.1 336.4,324.9 336.7,383.6 336.9,441.3 337.1,486.0 337.4,497.7 337.6,499.3 337.8,500.3 338.1,501.1 338.3,501.8 339.3,504.2 340.2,505.8 341.2,506.9 342.2,507.6 343.1,508.1 344.1,508.4 345.1,508.6 346.0,508.7 347.0,508.8 348.0,508.9 348.9,508.9 349.9,508.9 350.9,508.9 351.8,508.9 352.8,508.9 353.8,508.9 354.1,283.7 355.1,262.0 356.5,268.5 356.7,327.2 357.0,385.9 357.2,443.2 357.4,484.2 357.7,493.2 357.9,494.6 358.1,495.5 358.4,496.2 358.6,496.9 359.6,499.1 360.5,500.5 361.5,501.4 362.5,501.9 363.4,502.3 364.4,502.5 365.4,502.6 366.3,502.7 367.3,502.7 368.3,502.7 369.2,502.7 370.2,502.7 371.2,502.7 372.1,502.6 373.1,502.6 374.1,502.6 374.4,286.0 375.4,264.3 376.8,270.8 377.0,329.6 377.3,388.2 377.5,445.0 377.7,482.2 378.0,489.2 378.2,490.5 378.4,491.3 378.7,492.0 378.9,492.6 379.9,494.5 380.8,495.7 381.8,496.4 382.8,496.8 383.7,497.0 384.7,497.1 385.7,497.2 386.6,497.2 387.6,497.2 388.6,497.2 389.5,497.1 390.5,497.1 391.5,497.0 392.4,497.0 393.4,496.9 394.4,496.9 394.7,288.4 395.7,266.7 397.1,273.2 397.3,331.9 397.5,390.5 397.8,446.3 398.0,478.5 398.2,483.6 398.5,484.6 398.7,485.4 399.0,486.0 399.2,486.6 400.2,488.2 401.1,489.1 402.1,489.6 403.1,489.9 404.0,490.1 405.0,490.1 406.0,490.1 406.9,490.1 407.9,490.0 408.9,490.0 409.8,489.9 410.8,489.8 411.8,489.8 412.7,489.7 413.7,489.6 414.7,489.6 415.0,288.8 416.0,267.1 417.4,273.6 417.6,332.3 417.8,390.9 418.1,445.8 418.3,474.5 418.5,478.6 418.8,479.6 419.0,480.3 419.2,480.8 419.5,481.4 420.4,482.9 421.4,483.7 422.4,484.1 423.4,484.4 424.3,484.5 425.3,484.5 426.3,484.5 427.2,484.4 428.2,484.4 429.2,484.3 430.1,484.2 431.1,484.2 432.1,484.1 433.0,484.0 434.0,483.9 435.0,483.8 435.3,289.0 436.3,267.3 437.7,273.8 437.9,332.5 438.1,391.0 438.4,445.2 438.6,471.4 438.8,474.9 439.1,475.8 439.3,476.4 439.5,476.9 439.8,477.4 440.7,478.8 441.7,479.6 442.7,479.9 443.6,480.1 444.6,480.2 445.6,480.2 446.5,480.2 447.5,480.1 448.5,480.0 449.5,480.0 450.4,479.9 451.4,479.8 452.4,479.7 453.3,479.6 454.3,479.5 455.3,479.5 455.6,289.2 456.6,267.5 458.0,274.0 458.2,332.7 458.4,391.2 458.7,444.4 458.9,468.2 459.1,471.2 459.4,471.9 459.6,472.5 459.8,473.0 460.1,473.5 461.0,474.7 462.0,475.4 463.0,475.7 463.9,475.9 464.9,475.9 465.9,475.9 466.8,475.9 467.8,475.8 468.8,475.7 469.7,475.6 470.7,475.5 471.7,475.5 472.6,475.4 473.6,475.3 474.6,475.2 475.6,475.1 475.9,289.4 476.9,267.6 478.3,274.2 478.5,332.9 478.7,391.3 479.0,443.5 479.2,464.9 479.4,467.4 479.7,468.1 479.9,468.7 480.1,469.1 480.4,469.5 481.3,470.7 482.3,471.3 483.3,471.5 484.2,471.7 485.2,471.7 486.2,471.6 487.1,471.6 488.1,471.5 489.1,471.4 490.0,471.3 491.0,471.2 492.0,471.1 492.9,471.0 493.9,470.9 494.9,470.8 495.8,470.7 496.2,289.6 497.2,267.8 498.6,274.4 498.8,333.1 499.0,391.4 499.3,442.5 499.5,461.7 499.7,463.8 500.0,464.5 500.2,465.0 500.4,465.4 500.7,465.8 501.6,466.8 502.6,467.3 503.6,467.6 504.5,467.6 505.5,467.6 506.5,467.6 507.4,467.5 508.4,467.4 509.4,467.3 510.3,467.2 511.3,467.1 512.3,467.0 513.2,466.9 514.2,466.7 515.2,466.6 516.1,466.5 516.5,289.8 517.5,268.0 518.8,274.6 519.1,333.3 519.3,391.5 519.6,441.3 519.8,458.3 520.0,460.2 520.3,460.8 520.5,461.2 520.7,461.6 521.0,461.9 521.9,462.9 522.9,463.3 523.9,463.5 524.8,463.6 525.8,463.6 526.8,463.5 527.7,463.4 528.7,463.3 529.7,463.2 530.6,463.1 531.6,463.0 532.6,462.9 533.5,462.7 534.5,462.6 535.5,462.5 536.4,462.4 536.8,290.0 537.8,268.2 539.1,274.8 539.4,333.5 539.6,391.6 539.8,439.8 540.1,454.6 540.3,456.2 540.5,456.8 540.8,457.2 541.0,457.6 541.3,457.9 542.2,458.8 543.2,459.2 544.2,459.4 545.1,459.5 546.1,459.4 547.1,459.4 548.0,459.3 549.0,459.2 550.0,459.1 550.9,459.0 551.9,458.8 552.9,458.7 553.8,458.6 554.8,458.5 555.8,458.4 556.7,458.2 557.1,290.2 558.1,268.4 559.4,274.9 559.7,333.7 559.9,391.6 560.1,438.1 560.4,451.0 560.6,452.4 560.8,452.9 561.1,453.3 561.3,453.7 561.5,454.0 562.5,454.9 563.5,455.3 564.4,455.5 565.4,455.5 566.4,455.5 567.4,455.4 568.3,455.3 569.3,455.2 570.3,455.1 571.2,455.0 572.2,454.8 573.2,454.7 574.1,454.6 575.1,454.5 576.1,454.4 577.0,454.3 577.4,290.4 578.4,268.6 579.7,275.1 580.0,333.8 580.2,391.6 580.4,436.7 580.7,448.3 580.9,449.6 581.1,450.2 581.4,450.6 581.6,450.9 581.8,451.2 582.8,452.1 583.8,452.5 584.7,452.6 585.7,452.6 586.7,452.6 587.6,452.5 588.6,452.4 589.6,452.3 590.5,452.2 591.5,452.1 592.5,451.9 593.5,451.8 594.4,451.7 595.4,451.6 596.4,451.5 597.3,451.3 597.7,290.5 598.7,268.8 600.0,275.3 600.3,334.0 600.5,391.7 600.7,435.3 601.0,445.7 601.2,446.9 601.4,447.4 601.7,447.8 601.9,448.2 602.1,448.4 603.1,449.2 604.1,449.6 605.0,449.7 606.0,449.7 607.0,449.7 607.9,449.6 608.9,449.5 609.9,449.4 610.8,449.3 611.8,449.2 612.8,449.0 613.7,448.9 614.7,448.8 615.7,448.7 616.6,448.6 617.6,448.4 618.0,290.7 619.0,269.0 620.3,275.5 620.6,334.2 620.8,391.7 621.0,433.8 621.3,443.1 621.5,444.1 621.7,444.6 622.0,445.0 622.2,445.4 622.4,445.7 623.4,446.4 624.4,446.7 625.3,446.8 626.3,446.8 627.3,446.8 628.2,446.7 629.2,446.6 630.2,446.5 631.1,446.4 632.1,446.3 633.1,446.1 634.0,446.0 635.0,445.9 636.0,445.8 636.9,445.7 637.9,445.5 638.2,290.9 639.3,269.2 640.6,275.7 640.9,334.4 641.1,391.7 641.3,432.2 641.6,440.5 641.8,441.5 642.0,442.0 642.3,442.4 642.5,442.7 642.7,443.0 643.7,443.7 644.7,444.0 645.6,444.1 646.6,444.1 647.6,444.0 648.5,444.0 649.5,443.8 650.5,443.7 651.4,443.6 652.4,443.5 653.4,443.4 654.3,443.3 655.3,443.1 656.3,443.0 657.2,442.9 658.2,442.8 658.5,291.1 659.6,269.4 660.9,275.9 661.1,334.6 661.4,391.6 661.6,430.6 661.8,438.1 662.1,439.0 662.3,439.5 662.6,439.8 662.8,440.1 663.0,440.4 664.0,441.1 665.0,441.4 665.9,441.4 666.9,441.4 667.9,441.4 668.8,441.3 669.8,441.2 670.8,441.0 671.7,440.9 672.7,440.8 673.7,440.7 674.6,440.6 675.6,440.5 676.6,440.3 677.5,440.2 678.5,440.1 678.8,291.3 679.9,269.6 681.2,276.1 681.4,334.8 681.7,391.6 681.9,428.9 682.1,435.6 682.4,436.4 682.6,436.9 682.8,437.3 683.1,437.6 683.3,437.8 684.3,438.5 685.3,438.7 686.2,438.8 687.2,438.8 688.2,438.7 689.1,438.6 690.1,438.5 691.1,438.4 692.0,438.2 693.0,438.1 694.0,438.0 694.9,437.9 695.9,437.8 696.9,437.6 697.8,437.5 698.8,437.4 699.1,291.5 700.1,269.8 701.5,276.3 701.7,335.0 702.0,391.5 702.2,427.2 702.4,433.2 702.7,434.0 702.9,434.4 703.1,434.7 703.4,435.0 703.6,435.3 704.6,435.9 705.5,436.1 706.5,436.2 707.5,436.1 708.4,436.1 709.4,436.0 710.4,435.8 711.4,435.7 712.3,435.6 713.3,435.5 714.3,435.4 715.2,435.3 716.2,435.1 717.2,435.0 718.1,434.9 719.1,434.8 719.4,291.7 720.4,270.0 721.8,276.5 722.0,335.1 722.3,391.4 722.5,425.7 722.7,431.1 723.0,431.9 723.2,432.3 723.4,432.6 723.7,432.9 723.9,433.1 724.9,433.7 725.8,433.9 726.8,433.9 727.8,433.9 728.7,433.8 729.7,433.7 730.7,433.6 731.6,433.5 732.6,433.4 733.6,433.3 734.5,433.1 735.5,433.0 736.5,432.9 737.5,432.8 738.4,432.7 739.4,432.5 739.7,291.9 740.7,270.2 742.1,276.7 742.3,335.3 742.6,391.3 742.8,424.1 743.0,429.1 743.3,429.8 743.5,430.2 743.7,430.5 744.0,430.8 744.2,431.0 745.2,431.5 746.1,431.7 747.1,431.7 748.1,431.7 749.0,431.6 750.0,431.5 751.0,431.4 751.9,431.3 752.9,431.1 753.9,431.0 754.8,430.9 755.8,430.8 756.8,430.7 757.7,430.5 758.7,430.4 759.7,430.3 760.0,292.1 761.0,270.4 762.4,276.9 762.6,335.5 762.9,391.2 763.1,422.5 763.3,427.0 763.6,427.7 763.8,428.1 764.0,428.4 764.3,428.6 764.5,428.8 765.5,429.3 766.4,429.5 767.4,429.5 768.4,429.5 769.3,429.4 770.3,429.3 771.3,429.1 772.2,429.0 773.2,428.9 774.2,428.8 775.1,428.7 776.1,428.6 777.1,428.4 778.0,428.3 779.0,428.2 780.0,428.1 780.3,292.3 781.3,270.6 782.7,277.1 782.9,335.7 783.2,391.0 783.4,420.9 783.6,425.0 783.9,425.6 784.1,426.0 784.3,426.3 784.6,426.5 784.8,426.7 785.8,427.2 786.7,427.3 787.7,427.3 788.7,427.2 789.6,427.2 790.6,427.0 791.6,426.9 792.5,426.8 793.5,426.7 794.5,426.6 795.4,426.5 796.4,426.3 797.4,426.2 798.3,426.1 799.3,426.0 800.3,425.9 800.6,292.5 801.6,270.8 803.0,277.3 803.2,335.8 803.4,390.8 803.7,419.2 803.9,422.9 804.1,423.5 804.4,423.9 804.6,424.2 804.9,424.4 805.1,424.6 806.1,425.0 807.0,425.1 808.0,425.1 809.0,425.0 809.9,424.9 810.9,424.8 811.9,424.7 812.8,424.6 813.8,424.5 814.8,424.4 815.7,424.2 816.7,424.1 817.7,424.0 818.6,423.9 819.6,423.8 820.6,423.6 820.9,292.7 821.9,271.0 823.3,277.5 823.5,336.0 823.7,390.5 824.0,417.5 824.2,420.9 824.4,421.4 824.7,421.8 824.9,422.0 825.1,422.3 825.4,422.4 826.3,422.8 827.3,422.9 828.3,422.9 829.3,422.8 830.2,422.7 831.2,422.6 832.2,422.5 833.1,422.4 834.1,422.3 835.1,422.1 836.0,422.0 837.0,421.9 838.0,421.8 838.9,421.7 839.9,421.5 840.9,421.4 841.2,292.9 842.2,271.2 843.6,277.7 843.8,336.2 844.0,390.6 844.3,417.1 844.5,420.3 844.7,420.8 845.0,421.2 845.2,421.4 845.4,421.6 845.7,421.8 846.6,422.2" fill="none" stroke="#F14040" stroke-width="2.9" stroke-linejoin="round" stroke-linecap="round"/>
<polyline points="171.1,687.5 171.6,641.7 172.0,417.0 172.5,315.9 172.9,270.3 173.4,249.7 173.8,240.5 175.6,233.6 177.3,233.5 179.1,233.8 180.9,234.2 182.6,234.7 184.4,235.2 186.1,235.7 187.9,236.4 189.7,237.1 191.4,237.8 191.9,237.6 192.3,236.8 192.8,235.7 193.2,234.6 193.7,233.8 194.1,233.5 195.9,234.0 197.6,234.7 199.4,235.3 201.2,236.1 202.9,236.8 204.7,237.7 206.4,238.5 208.2,239.5 210.0,240.4 211.7,241.4 212.2,241.0 212.6,239.7 213.1,237.9 213.5,236.1 214.0,234.7 214.4,234.2 216.2,235.1 217.9,236.0 219.7,236.9 221.5,237.9 223.2,238.9 225.0,240.0 226.7,241.1 228.5,242.2 230.3,243.4 232.0,244.6 232.5,244.1 232.9,242.3 233.4,239.9 233.8,237.5 234.3,235.7 234.7,235.0 236.5,236.1 238.2,237.2 240.0,238.4 241.8,239.7 243.5,240.9 245.3,242.2 247.0,243.6 248.8,244.9 250.5,246.4 252.3,247.8 252.8,247.1 253.2,245.0 253.7,242.1 254.1,239.1 254.6,236.8 255.0,236.0 256.8,237.4 258.5,238.9 260.3,240.4 262.0,242.0 263.8,243.7 265.6,245.5 267.3,247.3 269.1,249.2 270.8,251.2 272.6,253.2 273.1,252.2 273.5,249.3 274.0,245.3 274.4,241.2 274.9,238.2 275.3,237.1 277.1,238.9 278.8,240.7 280.6,242.7 282.3,244.7 284.1,246.7 285.9,248.8 287.6,251.0 289.4,253.3 291.1,255.6 292.9,257.9 293.3,256.7 293.8,253.1 294.2,248.1 294.7,243.1 295.2,239.4 295.6,238.1 297.4,240.3 299.1,242.5 300.9,244.7 302.6,247.1 304.4,249.4 306.2,251.9 307.9,254.4 309.7,256.9 311.4,259.5 313.2,262.1 313.6,260.7 314.1,256.5 314.5,250.7 315.0,245.0 315.4,240.7 315.9,239.2 317.7,241.6 319.4,244.1 321.2,246.7 322.9,249.3 324.7,252.0 326.4,254.7 328.2,257.5 330.0,260.3 331.7,263.1 333.5,266.1 333.9,264.4 334.4,259.7 334.8,253.2 335.3,246.7 335.7,242.0 336.2,240.2 338.0,243.0 339.7,245.7 341.5,248.5 343.2,251.4 345.0,254.2 346.7,257.1 348.5,260.1 350.3,263.0 352.0,266.1 353.8,269.1 354.2,267.3 354.7,262.2 355.1,255.2 355.6,248.3 356.0,243.2 356.5,241.3 358.2,244.2 360.0,247.2 361.8,250.1 363.5,253.1 365.3,256.2 367.0,259.2 368.8,262.3 370.6,265.4 372.3,268.5 374.1,271.7 374.5,269.8 375.0,264.4 375.4,257.1 375.9,249.7 376.3,244.3 376.8,242.4 378.5,245.4 380.3,248.5 382.1,251.6 383.8,254.7 385.6,257.8 387.3,261.0 389.1,264.1 390.9,267.3 392.6,270.4 394.4,273.6 394.8,271.7 395.3,266.1 395.7,258.6 396.2,251.0 396.6,245.5 397.1,243.4 398.8,246.5 400.6,249.6 402.4,252.8 404.1,255.9 405.9,259.1 407.6,262.3 409.4,265.6 411.1,268.8 412.9,272.1 414.7,275.4 415.1,273.3 415.6,267.6 416.0,259.6 416.5,251.7 416.9,245.9 417.4,243.7 419.1,247.0 420.9,250.2 422.6,253.5 424.4,256.8 426.2,260.1 427.9,263.5 429.7,266.9 431.4,270.3 433.2,273.7 435.0,277.2 435.4,275.0 435.9,269.0 436.3,260.7 436.8,252.4 437.2,246.3 437.7,244.1 439.4,247.4 441.2,250.8 442.9,254.3 444.7,257.7 446.5,261.1 448.2,264.6 450.0,268.1 451.7,271.6 453.5,275.2 455.3,278.7 455.7,276.5 456.2,270.2 456.6,261.6 457.1,253.0 457.5,246.7 458.0,244.4 459.7,247.9 461.5,251.4 463.2,254.9 465.0,258.5 466.8,262.0 468.5,265.6 470.3,269.2 472.0,272.9 473.8,276.5 475.6,280.2 476.0,277.9 476.5,271.4 476.9,262.5 477.4,253.6 477.8,247.1 478.3,244.7 480.0,248.3 481.8,251.9 483.5,255.6 485.3,259.2 487.1,262.9 488.8,266.6 490.6,270.4 492.3,274.1 494.1,277.9 495.8,281.7 496.3,279.2 496.7,272.5 497.2,263.4 497.6,254.2 498.1,247.5 498.6,245.0 500.3,248.7 502.1,252.5 503.8,256.2 505.6,260.0 507.3,263.8 509.1,267.6 510.9,271.5 512.6,275.3 514.4,279.2 516.1,283.1 516.6,280.6 517.0,273.7 517.5,264.2 517.9,254.7 518.4,247.7 518.8,245.2 520.6,249.0 522.4,252.8 524.1,256.7 525.9,260.6 527.6,264.6 529.4,268.5 531.2,272.5 532.9,276.5 534.7,280.5 536.4,284.6 536.9,282.0 537.3,274.8 537.8,264.9 538.2,255.0 538.7,247.8 539.1,245.2 540.9,249.1 542.7,253.1 544.4,257.1 546.2,261.2 547.9,265.3 549.7,269.4 551.5,273.5 553.2,277.6 555.0,281.8 556.7,286.0 557.2,283.3 557.6,275.8 558.1,265.6 558.5,255.4 559.0,247.9 559.4,245.2 561.2,249.3 563.0,253.4 564.7,257.6 566.5,261.7 568.2,265.9 570.0,270.2 571.7,274.4 573.5,278.7 575.3,283.0 577.0,287.3 577.5,284.5 577.9,276.8 578.4,266.3 578.8,255.7 579.3,248.0 579.7,245.2 581.5,249.4 583.2,253.7 585.0,258.0 586.8,262.3 588.5,266.6 590.3,271.0 592.0,275.4 593.8,279.8 595.6,284.2 597.3,288.7 597.8,285.8 598.2,277.9 598.7,267.0 599.1,256.1 599.6,248.1 600.0,245.2 601.8,249.5 603.5,253.9 605.3,258.4 607.1,262.8 608.8,267.3 610.6,271.8 612.3,276.3 614.1,280.9 615.9,285.5 617.6,290.1 618.1,287.1 618.5,278.9 619.0,267.7 619.4,256.4 619.9,248.2 620.3,245.2 622.1,249.7 623.8,254.2 625.6,258.8 627.4,263.4 629.1,268.0 630.9,272.6 632.6,277.2 634.4,281.9 636.2,286.6 637.9,291.3 638.4,288.3 638.8,279.8 639.3,268.3 639.7,256.7 640.2,248.2 640.6,245.1 642.4,249.7 644.1,254.4 645.9,259.1 647.7,263.8 649.4,268.5 651.2,273.3 652.9,278.1 654.7,282.9 656.4,287.7 658.2,292.6 658.7,289.4 659.1,280.7 659.6,268.8 660.0,256.9 660.5,248.2 660.9,245.0 662.7,249.8 664.4,254.6 666.2,259.4 667.9,264.3 669.7,269.1 671.5,274.0 673.2,278.9 675.0,283.9 676.7,288.9 678.5,293.8 679.0,290.6 679.4,281.7 679.9,269.4 680.3,257.2 680.8,248.2 681.2,244.9 683.0,249.8 684.7,254.8 686.5,259.7 688.2,264.7 690.0,269.7 691.8,274.8 693.5,279.8 695.3,284.9 697.0,290.0 698.8,295.1 699.2,291.8 699.7,282.6 700.1,270.0 700.6,257.4 701.1,248.2 701.5,244.9 703.3,249.9 705.0,255.0 706.8,260.1 708.5,265.2 710.3,270.3 712.1,275.5 713.8,280.7 715.6,285.9 717.3,291.1 719.1,296.3 719.5,292.9 720.0,283.5 720.4,270.6 720.9,257.7 721.3,248.2 721.8,244.8 723.6,250.0 725.3,255.2 727.1,260.4 728.8,265.6 730.6,270.9 732.3,276.2 734.1,281.5 735.9,286.8 737.6,292.2 739.4,297.5 739.8,294.0 740.3,284.4 740.7,271.1 741.2,257.9 741.6,248.2 742.1,244.7 743.9,250.0 745.6,255.3 747.4,260.6 749.1,266.0 750.9,271.4 752.6,276.8 754.4,282.2 756.2,287.6 757.9,293.1 759.7,298.6 760.1,295.0 760.6,285.1 761.0,271.6 761.5,258.0 761.9,248.1 762.4,244.5 764.1,249.9 765.9,255.4 767.7,260.8 769.4,266.3 771.2,271.8 772.9,277.3 774.7,282.8 776.5,288.4 778.2,294.0 780.0,299.6 780.4,295.9 780.9,285.8 781.3,272.0 781.8,258.2 782.2,248.1 782.7,244.4 784.4,249.9 786.2,255.4 788.0,261.0 789.7,266.6 791.5,272.2 793.2,277.9 795.0,283.5 796.8,289.2 798.5,294.9 800.3,300.6 800.7,296.8 801.2,286.5 801.6,272.4 802.1,258.3 802.5,248.0 803.0,244.2 804.7,249.8 806.5,255.5 808.3,261.2 810.0,266.9 811.8,272.6 813.5,278.4 815.3,284.2 817.0,290.0 818.8,295.8 820.6,301.6 821.0,297.8 821.5,287.3 821.9,272.9 822.4,258.5 822.8,247.9 823.3,244.0 825.0,249.8 826.8,255.6 828.5,261.4 830.3,267.2 832.1,273.1 833.8,278.9 835.6,284.8 837.3,290.7 839.1,296.7 840.9,302.6 841.3,298.7 841.8,288.0 842.2,273.3 842.7,258.6 843.1,247.8 843.6,243.9 845.3,249.8 847.1,255.7" fill="none" stroke="#1A6FDF" stroke-width="3" stroke-linejoin="round" stroke-linecap="round"/>
<polyline points="171.1,310.3 171.6,302.9 172.0,288.7 172.5,271.8 172.9,254.9 173.4,240.8 173.8,231.5 174.3,228.2 174.6,234.5 175.0,240.4 175.4,245.9 175.7,251.1 176.1,255.9 176.4,260.5 176.8,264.8 177.1,268.9 177.5,272.7 177.9,276.2 178.2,279.6 178.6,282.7 178.9,285.7 179.3,288.5 179.6,291.1 180.0,293.6 180.4,295.9 180.7,298.0 181.1,300.1 181.4,302.0 181.8,303.8 182.1,305.5 182.5,307.0 182.9,308.5 183.9,312.5 185.0,315.8 186.1,318.5 187.1,320.7 188.2,322.6 189.3,324.1 190.3,325.4 191.4,326.5 191.7,317.6 192.1,300.6 192.4,280.3 192.7,260.2 193.0,243.3 193.4,232.1 193.7,228.2 194.1,234.3 194.4,240.1 194.8,245.5 195.2,250.7 195.6,255.5 195.9,260.1 196.3,264.5 196.7,268.6 197.1,272.5 197.4,276.1 197.8,279.6 198.2,282.9 198.6,286.0 198.9,288.9 199.3,291.7 199.7,294.3 200.1,296.8 200.4,299.2 200.8,301.4 201.2,303.5 201.6,305.5 201.9,307.3 202.3,309.1 202.7,310.8 203.8,315.3 205.0,319.1 206.1,322.3 207.2,325.0 208.3,327.3 209.5,329.2 210.6,330.8 211.7,332.2 212.0,322.8 212.4,304.9 212.7,283.4 213.0,262.1 213.3,244.2 213.6,232.4 214.0,228.2 214.3,234.5 214.7,240.4 215.1,246.1 215.5,251.4 215.8,256.6 216.2,261.4 216.6,266.1 217.0,270.5 217.4,274.7 217.7,278.6 218.1,282.4 218.5,286.0 218.9,289.5 219.2,292.7 219.6,295.8 220.0,298.8 220.4,301.6 220.7,304.3 221.1,306.8 221.5,309.2 221.9,311.6 222.2,313.7 222.6,315.8 223.0,317.8 224.1,323.2 225.2,327.8 226.4,331.8 227.5,335.3 228.6,338.2 229.8,340.8 230.9,342.9 232.0,344.8 232.3,334.3 232.7,314.2 233.0,290.1 233.3,266.2 233.6,246.1 233.9,232.9 234.3,228.2 234.6,234.6 235.0,240.8 235.4,246.7 235.8,252.3 236.1,257.7 236.5,262.9 236.9,267.8 237.3,272.5 237.6,277.1 238.0,281.4 238.4,285.6 238.8,289.5 239.2,293.3 239.5,297.0 239.9,300.5 240.3,303.8 240.7,307.0 241.0,310.0 241.4,313.0 241.8,315.8 242.2,318.5 242.5,321.0 242.9,323.5 243.3,325.8 244.4,332.3 245.5,338.0 246.7,343.0 247.8,347.3 248.9,351.2 250.1,354.5 251.2,357.5 252.3,360.0 252.6,348.1 252.9,325.4 253.3,298.1 253.6,271.1 253.9,248.5 254.2,233.5 254.6,228.2 254.9,235.5 255.3,242.5 255.7,249.2 256.1,255.5 256.4,261.6 256.8,267.5 257.2,273.0 257.6,278.4 257.9,283.5 258.3,288.3 258.7,293.0 259.1,297.4 259.4,301.7 259.8,305.8 260.2,309.7 260.6,313.4 260.9,317.0 261.3,320.4 261.7,323.6 262.1,326.7 262.5,329.7 262.8,332.6 263.2,335.3 263.6,337.9 264.7,345.0 265.8,351.3 267.0,356.7 268.1,361.5 269.2,365.6 270.3,369.3 271.5,372.5 272.6,375.3 272.9,362.0 273.2,336.6 273.6,306.2 273.9,276.1 274.2,250.8 274.5,234.1 274.9,228.2 275.2,236.9 275.6,245.1 276.0,252.9 276.4,260.3 276.7,267.4 277.1,274.2 277.5,280.6 277.9,286.7 278.2,292.5 278.6,298.0 279.0,303.3 279.4,308.3 279.7,313.1 280.1,317.6 280.5,321.9 280.9,326.1 281.2,330.0 281.6,333.7 282.0,337.2 282.4,340.6 282.7,343.8 283.1,346.9 283.5,349.8 283.9,352.5 285.0,360.1 286.1,366.5 287.3,372.1 288.4,376.9 289.5,381.1 290.6,384.7 291.8,387.7 292.9,390.4 293.2,375.8 293.5,347.8 293.9,314.2 294.2,281.0 294.5,253.1 294.8,234.7 295.2,228.2 295.5,238.3 295.9,247.9 296.3,256.9 296.7,265.4 297.0,273.5 297.4,281.1 297.8,288.3 298.2,295.2 298.5,301.6 298.9,307.7 299.3,313.4 299.7,318.9 300.0,324.0 300.4,328.9 300.8,333.5 301.2,337.8 301.5,341.9 301.9,345.8 302.3,349.4 302.7,352.9 303.0,356.2 303.4,359.3 303.8,362.2 304.2,365.0 305.3,372.4 306.4,378.7 307.6,383.9 308.7,388.4 309.8,392.2 310.9,395.4 312.1,398.1 313.2,400.3 313.5,384.8 313.8,355.1 314.2,319.5 314.5,284.2 314.8,254.7 315.1,235.1 315.4,228.2 315.8,239.9 316.2,250.9 316.6,261.2 316.9,270.8 317.3,279.8 317.7,288.3 318.1,296.2 318.5,303.6 318.8,310.5 319.2,317.0 319.6,323.0 320.0,328.7 320.3,334.1 320.7,339.1 321.1,343.7 321.5,348.1 321.8,352.2 322.2,356.0 322.6,359.6 323.0,363.0 323.3,366.1 323.7,369.1 324.1,371.8 324.5,374.4 325.6,381.2 326.7,386.8 327.8,391.4 329.0,395.2 330.1,398.3 331.2,400.8 332.4,402.9 333.5,404.6 333.8,388.7 334.1,358.2 334.5,321.8 334.8,285.6 335.1,255.3 335.4,235.2 335.7,228.2 336.1,241.0 336.5,252.9 336.9,264.0 337.2,274.2 337.6,283.7 338.0,292.6 338.4,300.8 338.7,308.4 339.1,315.5 339.5,322.1 339.9,328.2 340.3,333.8 340.6,339.1 341.0,344.0 341.4,348.6 341.8,352.8 342.1,356.7 342.5,360.4 342.9,363.7 343.3,366.9 343.6,369.8 344.0,372.5 344.4,375.1 344.8,377.4 345.9,383.5 347.0,388.4 348.1,392.2 349.3,395.3 350.4,397.7 351.5,399.7 352.7,401.2 353.8,402.4 354.1,386.7 354.4,356.6 354.7,320.6 355.1,284.9 355.4,255.0 355.7,235.1 356.0,228.2 356.4,241.4 356.8,253.6 357.2,264.9 357.5,275.3 357.9,284.9 358.3,293.8 358.7,302.0 359.0,309.6 359.4,316.6 359.8,323.1 360.2,329.1 360.5,334.6 360.9,339.8 361.3,344.6 361.7,349.0 362.0,353.1 362.4,356.9 362.8,360.5 363.2,363.8 363.6,366.8 363.9,369.7 364.3,372.3 364.7,374.7 365.1,377.0 366.2,382.8 367.3,387.3 368.4,390.7 369.6,393.2 370.7,395.1 371.8,396.6 372.9,397.7 374.1,398.5 374.4,383.1 374.7,353.7 375.0,318.5 375.4,283.6 375.7,254.4 376.0,235.0 376.3,228.2 376.7,241.7 377.1,254.1 377.5,265.5 377.8,276.0 378.2,285.6 378.6,294.4 379.0,302.6 379.3,310.1 379.7,317.0 380.1,323.4 380.5,329.3 380.8,334.7 381.2,339.8 381.6,344.5 382.0,348.8 382.3,352.8 382.7,356.5 383.1,360.0 383.5,363.2 383.8,366.2 384.2,369.0 384.6,371.6 385.0,373.9 385.4,376.2 386.5,381.8 387.6,386.0 388.7,389.0 389.9,391.1 391.0,392.6 392.1,393.6 393.2,394.4 394.4,395.0 394.7,379.9 395.0,351.1 395.3,316.7 395.7,282.5 396.0,253.8 396.3,234.8 396.6,228.2 397.0,241.8 397.4,254.3 397.8,265.7 398.1,276.1 398.5,285.6 398.9,294.3 399.3,302.4 399.6,309.7 400.0,316.5 400.4,322.8 400.8,328.5 401.1,333.8 401.5,338.7 401.9,343.3 402.3,347.5 402.6,351.5 403.0,355.1 403.4,358.5 403.8,361.7 404.1,364.6 404.5,367.4 404.9,369.9 405.3,372.3 405.6,374.5 406.8,380.0 407.9,383.9 409.0,386.5 410.2,388.3 411.3,389.4 412.4,390.2 413.5,390.7 414.7,391.1 415.0,376.4 415.3,348.2 415.6,314.5 416.0,281.1 416.3,253.0 416.6,234.5 416.9,228.0 417.3,241.8 417.7,254.3 418.0,265.7 418.4,276.1 418.8,285.6 419.2,294.3 419.6,302.2 419.9,309.5 420.3,316.1 420.7,322.2 421.1,327.9 421.4,333.1 421.8,337.9 422.2,342.3 422.6,346.5 422.9,350.3 423.3,353.9 423.7,357.2 424.1,360.3 424.4,363.2 424.8,365.8 425.2,368.3 425.6,370.6 425.9,372.7 427.1,377.9 428.2,381.4 429.3,383.7 430.5,385.1 431.6,386.0 432.7,386.6 433.8,387.1 435.0,387.4 435.3,372.9 435.6,345.4 435.9,312.4 436.2,279.7 436.6,252.3 436.9,234.1 437.2,227.7 437.6,241.7 438.0,254.4 438.3,265.9 438.7,276.3 439.1,285.8 439.5,294.4 439.8,302.3 440.2,309.5 440.6,316.0 441.0,322.1 441.3,327.6 441.7,332.7 442.1,337.5 442.5,341.8 442.9,345.9 443.2,349.6 443.6,353.1 444.0,356.4 444.4,359.4 444.7,362.3 445.1,364.9 445.5,367.3 445.9,369.6 446.2,371.6 447.4,376.5 448.5,379.8 449.6,381.7 450.7,382.9 451.9,383.7 453.0,384.1 454.1,384.4 455.3,384.7 455.6,370.5 455.9,343.3 456.2,310.9 456.5,278.7 456.9,251.7 457.2,233.8 457.5,227.5 457.9,241.7 458.3,254.4 458.6,265.9 459.0,276.3 459.4,285.8 459.8,294.3 460.1,302.1 460.5,309.2 460.9,315.7 461.3,321.6 461.6,327.1 462.0,332.1 462.4,336.8 462.8,341.1 463.1,345.1 463.5,348.8 463.9,352.2 464.3,355.4 464.7,358.4 465.0,361.2 465.4,363.8 465.8,366.2 466.2,368.3 466.5,370.3 467.7,375.0 468.8,377.9 469.9,379.6 471.0,380.6 472.2,381.2 473.3,381.6 474.4,381.8 475.6,382.0 475.9,368.0 476.2,341.3 476.5,309.3 476.8,277.6 477.2,251.0 477.5,233.4 477.8,227.3 478.2,241.5 478.6,254.3 478.9,265.8 479.3,276.2 479.7,285.6 480.1,294.0 480.4,301.7 480.8,308.7 481.2,315.1 481.6,321.0 481.9,326.4 482.3,331.3 482.7,335.9 483.1,340.1 483.4,344.1 483.8,347.7 484.2,351.1 484.6,354.3 484.9,357.3 485.3,360.0 485.7,362.6 486.1,364.9 486.4,367.0 486.8,368.9 488.0,373.3 489.1,375.9 490.2,377.4 491.3,378.2 492.5,378.7 493.6,379.0 494.7,379.2 495.8,379.3 496.2,365.5 496.5,339.2 496.8,307.8 497.1,276.6 497.5,250.4 497.8,233.1 498.1,227.0 498.5,241.4 498.9,254.2 499.2,265.7 499.6,276.1 500.0,285.4 500.4,293.8 500.7,301.4 501.1,308.4 501.5,314.7 501.9,320.5 502.2,325.8 502.6,330.7 503.0,335.2 503.4,339.4 503.7,343.3 504.1,346.9 504.5,350.3 504.9,353.5 505.2,356.4 505.6,359.2 506.0,361.7 506.4,364.0 506.7,366.0 507.1,367.9 508.2,372.0 509.4,374.5 510.5,375.7 511.6,376.4 512.8,376.8 513.9,377.0 515.0,377.2 516.1,377.2 516.5,363.6 516.8,337.7 517.1,306.5 517.4,275.7 517.8,249.8 518.1,232.7 518.4,226.7 518.8,241.0 519.1,253.7 519.5,265.2 519.9,275.4 520.3,284.6 520.7,292.9 521.0,300.5 521.4,307.3 521.8,313.6 522.2,319.3 522.5,324.6 522.9,329.5 523.3,334.0 523.7,338.2 524.0,342.1 524.4,345.7 524.8,349.1 525.2,352.3 525.5,355.3 525.9,358.0 526.3,360.5 526.7,362.8 527.0,364.9 527.4,366.7 528.5,370.6 529.7,372.9 530.8,374.0 531.9,374.6 533.1,375.0 534.2,375.1 535.3,375.2 536.4,375.3 536.8,361.8 537.1,336.1 537.4,305.3 537.7,274.7 538.0,249.1 538.4,232.2 538.7,226.2 539.1,240.2 539.4,252.6 539.8,263.8 540.2,273.8 540.6,282.9 540.9,291.1 541.3,298.6 541.7,305.3 542.1,311.6 542.4,317.3 542.8,322.6 543.2,327.5 543.6,332.0 544.0,336.3 544.3,340.2 544.7,343.9 545.1,347.4 545.5,350.7 545.8,353.7 546.2,356.5 546.6,359.0 547.0,361.3 547.3,363.4 547.7,365.1 548.8,369.0 550.0,371.1 551.1,372.2 552.2,372.8 553.3,373.0 554.5,373.2 555.6,373.3 556.7,373.3 557.1,360.0 557.4,334.5 557.7,304.0 558.0,273.8 558.3,248.4 558.7,231.6 559.0,225.8 559.4,239.4 559.7,251.5 560.1,262.5 560.5,272.3 560.9,281.2 561.2,289.3 561.6,296.7 562.0,303.4 562.4,309.6 562.7,315.3 563.1,320.6 563.5,325.6 563.9,330.2 564.2,334.5 564.6,338.5 565.0,342.3 565.4,345.8 565.8,349.1 566.1,352.2 566.5,355.0 566.9,357.6 567.3,359.9 567.6,362.0 568.0,363.7 569.1,367.5 570.3,369.5 571.4,370.5 572.5,371.0 573.6,371.2 574.8,371.4 575.9,371.4 577.0,371.5 577.3,358.3 577.7,333.0 578.0,302.8 578.3,272.9 578.6,247.7 579.0,231.1 579.3,225.3 579.7,238.6 580.0,250.5 580.4,261.3 580.8,271.0 581.2,279.8 581.5,287.8 581.9,295.1 582.3,301.8 582.7,308.0 583.0,313.7 583.4,319.0 583.8,324.0 584.2,328.7 584.5,333.0 584.9,337.1 585.3,341.0 585.7,344.6 586.0,348.0 586.4,351.1 586.8,354.0 587.2,356.6 587.5,359.0 587.9,361.0 588.3,362.8 589.4,366.5 590.6,368.4 591.7,369.3 592.8,369.8 593.9,370.0 595.1,370.1 596.2,370.2 597.3,370.2 597.6,357.1 598.0,332.0 598.3,301.9 598.6,272.1 598.9,247.2 599.3,230.6 599.6,224.8 600.0,237.8 600.3,249.5 600.7,260.1 601.1,269.6 601.5,278.3 601.8,286.2 602.2,293.5 602.6,300.2 603.0,306.4 603.3,312.1 603.7,317.5 604.1,322.5 604.5,327.2 604.8,331.6 605.2,335.8 605.6,339.7 606.0,343.4 606.3,346.9 606.7,350.1 607.1,353.0 607.5,355.7 607.8,358.1 608.2,360.1 608.6,361.9 609.7,365.5 610.9,367.3 612.0,368.2 613.1,368.6 614.2,368.8 615.4,368.9 616.5,368.9 617.6,368.9 617.9,355.9 618.3,330.9 618.6,301.0 618.9,271.4 619.2,246.6 619.5,230.1 619.9,224.3 620.2,237.1 620.6,248.5 621.0,258.9 621.4,268.3 621.7,276.9 622.1,284.7 622.5,291.9 622.9,298.6 623.3,304.8 623.6,310.5 624.0,315.9 624.4,321.0 624.8,325.8 625.1,330.3 625.5,334.5 625.9,338.6 626.3,342.3 626.6,345.9 627.0,349.1 627.4,352.1 627.8,354.8 628.1,357.2 628.5,359.2 628.9,361.0 630.0,364.5 631.1,366.2 632.3,367.0 633.4,367.4 634.5,367.5 635.7,367.6 636.8,367.7 637.9,367.7 638.2,354.7 638.6,329.8 638.9,300.1 639.2,270.6 639.5,245.9 639.8,229.5 640.2,223.8 640.5,236.4 640.9,247.7 641.3,257.9 641.7,267.2 642.0,275.7 642.4,283.5 642.8,290.7 643.2,297.3 643.5,303.5 643.9,309.3 644.3,314.8 644.7,319.9 645.1,324.7 645.4,329.3 645.8,333.6 646.2,337.7 646.6,341.5 646.9,345.1 647.3,348.4 647.7,351.4 648.1,354.1 648.4,356.5 648.8,358.5 649.2,360.2 650.3,363.6 651.4,365.3 652.6,366.0 653.7,366.3 654.8,366.5 656.0,366.6 657.1,366.6 658.2,366.6 658.5,353.7 658.8,328.9 659.2,299.3 659.5,269.9 659.8,245.3 660.1,229.0 660.5,223.3 660.8,235.6 661.2,246.8 661.6,257.0 662.0,266.2 662.3,274.6 662.7,282.4 663.1,289.6 663.5,296.2 663.8,302.4 664.2,308.3 664.6,313.7 665.0,318.9 665.3,323.8 665.7,328.4 666.1,332.8 666.5,336.9 666.8,340.8 667.2,344.4 667.6,347.8 668.0,350.8 668.4,353.5 668.7,355.9 669.1,357.9 669.5,359.6 670.6,362.8 671.7,364.4 672.9,365.1 674.0,365.4 675.1,365.6 676.2,365.6 677.4,365.6 678.5,365.6 678.8,352.7 679.1,328.1 679.5,298.5 679.8,269.2 680.1,244.7 680.4,228.4 680.8,222.7 681.1,234.9 681.5,246.0 681.9,256.0 682.3,265.2 682.6,273.6 683.0,281.3 683.4,288.5 683.8,295.1 684.1,301.4 684.5,307.2 684.9,312.7 685.3,317.9 685.6,322.9 686.0,327.6 686.4,332.0 686.8,336.2 687.1,340.1 687.5,343.8 687.9,347.2 688.3,350.2 688.6,352.9 689.0,355.3 689.4,357.2 689.8,358.9 690.9,362.1 692.0,363.5 693.2,364.2 694.3,364.5 695.4,364.6 696.5,364.7 697.7,364.7 698.8,364.6 699.1,351.8 699.4,327.2 699.8,297.7 700.1,268.5 700.4,244.1 700.7,227.8 701.1,222.2 701.4,234.2 701.8,245.2 702.2,255.1 702.6,264.2 702.9,272.5 703.3,280.2 703.7,287.4 704.1,294.0 704.4,300.3 704.8,306.2 705.2,311.7 705.6,317.0 705.9,322.0 706.3,326.7 706.7,331.2 707.1,335.5 707.4,339.5 707.8,343.2 708.2,346.6 708.6,349.7 708.9,352.4 709.3,354.7 709.7,356.6 710.1,358.2 711.2,361.3 712.3,362.7 713.5,363.3 714.6,363.6 715.7,363.7 716.8,363.7 718.0,363.7 719.1,363.7 719.4,350.9 719.7,326.3 720.1,297.0 720.4,267.9 720.7,243.5 721.0,227.3 721.3,221.6 721.7,233.5 722.1,244.3 722.5,254.2 722.8,263.2 723.2,271.5 723.6,279.2 724.0,286.3 724.4,293.0 724.7,299.3 725.1,305.2 725.5,310.8 725.9,316.1 726.2,321.2 726.6,326.0 727.0,330.6 727.4,334.9 727.7,339.0 728.1,342.7 728.5,346.2 728.9,349.3 729.2,352.0 729.6,354.3 730.0,356.2 730.4,357.8 731.5,360.8 732.6,362.1 733.7,362.7 734.9,362.9 736.0,363.0 737.1,363.0 738.3,363.0 739.4,363.0 739.7,350.2 740.0,325.7 740.4,296.4 740.7,267.3 741.0,242.9 741.3,226.7 741.6,221.1 742.0,232.8 742.4,243.5 742.8,253.3 743.1,262.2 743.5,270.5 743.9,278.2 744.3,285.3 744.6,292.0 745.0,298.3 745.4,304.3 745.8,309.9 746.2,315.3 746.5,320.4 746.9,325.3 747.3,330.0 747.7,334.4 748.0,338.5 748.4,342.3 748.8,345.8 749.2,348.9 749.5,351.6 749.9,353.9 750.3,355.8 750.7,357.4 751.8,360.3 752.9,361.5 754.0,362.0 755.2,362.3 756.3,362.3 757.4,362.4 758.6,362.3 759.7,362.3 760.0,349.5 760.3,325.0 760.6,295.7 761.0,266.7 761.3,242.3 761.6,226.2 761.9,220.5 762.3,232.1 762.7,242.7 763.1,252.4 763.4,261.3 763.8,269.5 764.2,277.1 764.6,284.3 764.9,291.0 765.3,297.3 765.7,303.3 766.1,309.1 766.4,314.5 766.8,319.7 767.2,324.6 767.6,329.4 767.9,333.8 768.3,338.0 768.7,341.8 769.1,345.4 769.5,348.5 769.8,351.2 770.2,353.5 770.6,355.4 771.0,356.9 772.1,359.7 773.2,360.9 774.3,361.4 775.5,361.6 776.6,361.7 777.7,361.7 778.8,361.6 780.0,361.6 780.3,348.8 780.6,324.4 780.9,295.1 781.3,266.1 781.6,241.7 781.9,225.6 782.2,220.0 782.6,231.4 783.0,241.9 783.4,251.5 783.7,260.3 784.1,268.5 784.5,276.1 784.9,283.3 785.2,290.0 785.6,296.4 786.0,302.5 786.4,308.2 786.7,313.7 787.1,319.0 787.5,324.0 787.9,328.8 788.2,333.4 788.6,337.6 789.0,341.5 789.4,345.1 789.7,348.2 790.1,350.9 790.5,353.2 790.9,355.1 791.3,356.6 792.4,359.3 793.5,360.5 794.6,360.9 795.8,361.1 796.9,361.2 798.0,361.2 799.1,361.1 800.3,361.1 800.6,348.3 800.9,323.8 801.2,294.6 801.6,265.5 801.9,241.2 802.2,225.1 802.5,219.4 802.9,230.7 803.3,241.1 803.7,250.6 804.0,259.3 804.4,267.5 804.8,275.1 805.2,282.3 805.5,289.1 805.9,295.5 806.3,301.6 806.7,307.4 807.0,313.0 807.4,318.3 807.8,323.5 808.2,328.3 808.5,332.9 808.9,337.2 809.3,341.2 809.7,344.8 810.0,347.9 810.4,350.7 810.8,353.0 811.2,354.8 811.5,356.3 812.7,359.0 813.8,360.0 814.9,360.5 816.1,360.6 817.2,360.7 818.3,360.6 819.4,360.6 820.6,360.6 820.9,347.8 821.2,323.3 821.5,294.0 821.9,265.0 822.2,240.7 822.5,224.5 822.8,218.9 823.2,230.0 823.6,240.2 823.9,249.7 824.3,258.4 824.7,266.5 825.1,274.1 825.5,281.3 825.8,288.1 826.2,294.5 826.6,300.7 827.0,306.6 827.3,312.3 827.7,317.7 828.1,322.9 828.5,327.8 828.8,332.5 829.2,336.8 829.6,340.9 830.0,344.5 830.3,347.7 830.7,350.4 831.1,352.7 831.5,354.5 831.8,356.0 833.0,358.6 834.1,359.6 835.2,360.0 836.4,360.1 837.5,360.2 838.6,360.1 839.7,360.1 840.9,360.0 841.2,347.2 841.5,322.8 841.8,293.5 842.1,264.5 842.5,240.1 842.8,224.0 843.1,218.3 843.5,229.3 843.9,239.4 844.2,248.8 844.6,257.5 845.0,265.6 845.4,273.2 845.7,280.4 846.1,287.2 846.5,293.7 846.9,299.9 847.2,305.9" fill="none" stroke="#37AD6B" stroke-width="3" stroke-linejoin="round" stroke-linecap="round"/>
<polyline points="171.1,687.5 171.7,687.5 172.2,645.7 172.7,475.0 173.2,373.1 173.8,312.2 174.3,276.0 176.0,232.5 177.7,224.1 179.4,222.3 181.1,221.7 182.9,221.3 184.6,220.9 186.3,220.6 188.0,220.2 189.7,219.9 191.4,219.5 191.9,219.2 192.5,218.6 193.0,217.9 193.5,217.2 194.1,216.6 194.6,216.3 196.3,215.8 198.0,215.3 199.7,214.8 201.4,214.3 203.1,213.8 204.9,213.3 206.6,212.9 208.3,212.4 210.0,211.9 211.7,211.4 212.2,211.0 212.8,210.4 213.3,209.7 213.8,209.0 214.3,208.4 214.9,208.1 216.6,207.6 218.3,207.2 220.0,206.7 221.7,206.3 223.4,205.8 225.2,205.3 226.9,204.9 228.6,204.4 230.3,203.9 232.0,203.5 232.5,203.1 233.1,202.6 233.6,201.9 234.1,201.2 234.6,200.7 235.2,200.4 236.9,200.1 238.6,199.8 240.3,199.4 242.0,199.1 243.7,198.8 245.5,198.5 247.2,198.1 248.9,197.8 250.6,197.5 252.3,197.2 252.8,196.9 253.4,196.4 253.9,195.8 254.4,195.1 254.9,194.7 255.5,194.4 257.2,194.1 258.9,193.9 260.6,193.6 262.3,193.3 264.0,193.0 265.7,192.8 267.5,192.5 269.2,192.2 270.9,191.9 272.6,191.7 273.1,191.4 273.7,190.9 274.2,190.4 274.7,189.8 275.2,189.4 275.8,189.1 277.5,188.9 279.2,188.7 280.9,188.5 282.6,188.3 284.3,188.1 286.0,187.9 287.8,187.7 289.5,187.5 291.2,187.2 292.9,187.0 293.4,186.8 293.9,186.4 294.5,185.8 295.0,185.3 295.5,184.9 296.1,184.7 297.8,184.5 299.5,184.2 301.2,184.0 302.9,183.8 304.6,183.6 306.3,183.3 308.0,183.1 309.8,182.9 311.5,182.7 313.2,182.4 313.7,182.2 314.2,181.9 314.8,181.4 315.3,180.9 315.8,180.6 316.3,180.4 318.1,180.3 319.8,180.1 321.5,180.0 323.2,179.8 324.9,179.7 326.6,179.5 328.3,179.4 330.1,179.2 331.8,179.0 333.5,178.9 334.0,178.7 334.5,178.4 335.1,177.9 335.6,177.5 336.1,177.2 336.6,177.0 338.4,176.8 340.1,176.7 341.8,176.5 343.5,176.4 345.2,176.2 346.9,176.0 348.6,175.9 350.4,175.7 352.1,175.5 353.8,175.3 354.3,175.2 354.8,174.9 355.4,174.5 355.9,174.1 356.4,173.9 356.9,173.7 358.7,173.6 360.4,173.5 362.1,173.4 363.8,173.2 365.5,173.1 367.2,173.0 368.9,172.9 370.6,172.7 372.4,172.6 374.1,172.5 374.6,172.3 375.1,172.1 375.7,171.7 376.2,171.4 376.7,171.1 377.2,171.0 378.9,170.9 380.7,170.7 382.4,170.6 384.1,170.5 385.8,170.3 387.5,170.2 389.2,170.0 390.9,169.9 392.7,169.7 394.4,169.6 394.9,169.5 395.4,169.2 395.9,168.9 396.5,168.6 397.0,168.4 397.5,168.3 399.2,168.1 401.0,168.0 402.7,167.9 404.4,167.8 406.1,167.8 407.8,167.7 409.5,167.6 411.2,167.6 413.0,167.5 414.7,167.4 415.2,167.3 415.7,167.1 416.2,166.9 416.8,166.6 417.3,166.4 417.8,166.3 419.5,166.2 421.3,166.2 423.0,166.1 424.7,166.0 426.4,166.0 428.1,165.9 429.8,165.8 431.5,165.7 433.2,165.7 435.0,165.6 435.5,165.5 436.0,165.3 436.5,165.1 437.1,164.8 437.6,164.6 438.1,164.5 439.8,164.4 441.5,164.4 443.3,164.3 445.0,164.2 446.7,164.2 448.4,164.1 450.1,164.0 451.8,163.9 453.5,163.8 455.3,163.8 455.8,163.7 456.3,163.5 456.8,163.2 457.4,163.0 457.9,162.8 458.4,162.7 460.1,162.6 461.8,162.6 463.6,162.5 465.3,162.4 467.0,162.4 468.7,162.3 470.4,162.3 472.1,162.2 473.8,162.2 475.6,162.1 476.1,162.0 476.6,161.9 477.1,161.6 477.7,161.4 478.2,161.3 478.7,161.2 480.4,161.1 482.1,161.1 483.8,161.0 485.6,161.0 487.3,160.9 489.0,160.8 490.7,160.8 492.4,160.7 494.1,160.7 495.8,160.6 496.4,160.5 496.9,160.4 497.4,160.2 498.0,160.0 498.5,159.8 499.0,159.7 500.7,159.7 502.4,159.6 504.1,159.5 505.9,159.5 507.6,159.4 509.3,159.4 511.0,159.3 512.7,159.2 514.4,159.2 516.1,159.1 516.7,159.0 517.2,158.9 517.7,158.7 518.2,158.5 518.8,158.3 519.3,158.3 521.0,158.2 522.7,158.1 524.4,158.1 526.2,158.0 527.9,157.9 529.6,157.9 531.3,157.8 533.0,157.7 534.7,157.7 536.4,157.6 537.0,157.6 537.5,157.4 538.0,157.2 538.5,157.0 539.1,156.9 539.6,156.8 541.3,156.8 543.0,156.7 544.7,156.7 546.4,156.7 548.2,156.6 549.9,156.6 551.6,156.5 553.3,156.5 555.0,156.4 556.7,156.4 557.3,156.3 557.8,156.2 558.3,156.0 558.8,155.8 559.4,155.7 559.9,155.6 561.6,155.6 563.3,155.5 565.0,155.5 566.7,155.4 568.5,155.4 570.2,155.3 571.9,155.3 573.6,155.2 575.3,155.2 577.0,155.1 577.6,155.0 578.1,154.9 578.6,154.7 579.1,154.6 579.7,154.5 580.2,154.4 581.9,154.3 583.6,154.3 585.3,154.2 587.0,154.2 588.8,154.1 590.5,154.1 592.2,154.0 593.9,154.0 595.6,153.9 597.3,153.8 597.8,153.8 598.4,153.7 598.9,153.5 599.4,153.3 600.0,153.2 600.5,153.2 602.2,153.2 603.9,153.1 605.6,153.1 607.3,153.1 609.0,153.0 610.8,153.0 612.5,153.0 614.2,152.9 615.9,152.9 617.6,152.8 618.1,152.8 618.7,152.7 619.2,152.5 619.7,152.4 620.2,152.3 620.8,152.3 622.5,152.2 624.2,152.2 625.9,152.2 627.6,152.1 629.3,152.1 631.1,152.0 632.8,152.0 634.5,152.0 636.2,151.9 637.9,151.9 638.4,151.8 639.0,151.7 639.5,151.6 640.0,151.5 640.5,151.4 641.1,151.3 642.8,151.3 644.5,151.3 646.2,151.2 647.9,151.2 649.6,151.1 651.4,151.1 653.1,151.0 654.8,151.0 656.5,151.0 658.2,150.9 658.7,150.9 659.3,150.8 659.8,150.7 660.3,150.5 660.8,150.5 661.4,150.4 663.1,150.4 664.8,150.3 666.5,150.3 668.2,150.3 669.9,150.2 671.6,150.2 673.4,150.2 675.1,150.1 676.8,150.1 678.5,150.1 679.0,150.0 679.6,150.0 680.1,149.9 680.6,149.8 681.1,149.7 681.7,149.6 683.4,149.6 685.1,149.6 686.8,149.5 688.5,149.5 690.2,149.5 691.9,149.4 693.7,149.4 695.4,149.4 697.1,149.3 698.8,149.3 699.3,149.3 699.8,149.2 700.4,149.1 700.9,149.0 701.4,148.9 702.0,148.9 703.7,148.9 705.4,148.8 707.1,148.8 708.8,148.7 710.5,148.7 712.2,148.7 713.9,148.6 715.7,148.6 717.4,148.6 719.1,148.5 719.6,148.5 720.1,148.4 720.7,148.3 721.2,148.2 721.7,148.2 722.2,148.1 724.0,148.1 725.7,148.1 727.4,148.0 729.1,148.0 730.8,147.9 732.5,147.9 734.2,147.9 736.0,147.8 737.7,147.8 739.4,147.7 739.9,147.7 740.4,147.6 741.0,147.6 741.5,147.5 742.0,147.4 742.5,147.4 744.3,147.4 746.0,147.3 747.7,147.3 749.4,147.2 751.1,147.2 752.8,147.1 754.5,147.1 756.3,147.0 758.0,147.0 759.7,147.0 760.2,147.0 760.7,146.9 761.3,146.9 761.8,146.8 762.3,146.8 762.8,146.7 764.6,146.7 766.3,146.7 768.0,146.7 769.7,146.6 771.4,146.6 773.1,146.6 774.8,146.6 776.5,146.5 778.3,146.5 780.0,146.5 780.5,146.4 781.0,146.4 781.6,146.4 782.1,146.3 782.6,146.3 783.1,146.3 784.8,146.2 786.6,146.2 788.3,146.2 790.0,146.2 791.7,146.1 793.4,146.1 795.1,146.1 796.8,146.0 798.6,146.0 800.3,146.0 800.8,145.9 801.3,145.9 801.8,145.9 802.4,145.8 802.9,145.8 803.4,145.8 805.1,145.8 806.9,145.7 808.6,145.7 810.3,145.7 812.0,145.6 813.7,145.6 815.4,145.6 817.1,145.5 818.9,145.5 820.6,145.5 821.1,145.4 821.6,145.4 822.1,145.4 822.7,145.4 823.2,145.3 823.7,145.3 825.4,145.3 827.2,145.3 828.9,145.2 830.6,145.2 832.3,145.1 834.0,145.1 835.7,145.1 837.4,145.0 839.1,145.0 840.9,144.9 841.4,144.9 841.9,144.9 842.4,144.9 843.0,144.9 843.5,144.9 844.0,144.9 845.7,144.8" fill="none" stroke="#B177DE" stroke-width="3" stroke-linejoin="round" stroke-linecap="round"/>
<polyline points="171.1,671.0 171.6,671.0 172.0,671.0 172.5,662.7 172.9,654.7 173.4,647.1 173.8,640.0 175.6,617.6 177.3,600.2 179.1,586.1 180.9,573.9 182.6,563.2 184.4,553.9 186.1,547.1 187.9,541.7 189.7,534.2 191.4,512.0 191.9,504.3 192.3,500.2 192.8,498.9 193.2,497.8 193.7,496.7 194.1,495.7 195.9,492.6 197.6,490.5 199.4,489.1 201.2,488.2 202.9,487.3 204.7,486.2 206.4,484.6 208.2,482.2 210.0,478.7 211.7,467.2 212.2,463.5 212.6,461.6 213.1,460.9 213.5,460.2 214.0,459.6 214.4,459.1 216.2,457.4 217.9,456.3 219.7,455.5 221.5,454.9 223.2,454.5 225.0,453.9 226.7,453.0 228.5,451.7 230.3,449.8 232.0,444.5 232.5,442.3 232.9,440.7 233.4,440.0 233.8,439.5 234.3,439.1 234.7,438.7 236.5,437.4 238.2,436.5 240.0,435.9 241.8,435.4 243.5,435.0 245.3,434.4 247.0,433.6 248.8,432.5 250.5,430.5 252.3,426.3 252.8,425.5 253.2,425.1 253.7,424.8 254.1,424.6 254.6,424.3 255.0,424.2 256.8,423.5 258.5,423.1 260.3,422.8 262.0,422.6 263.8,422.3 265.6,422.0 267.3,421.5 269.1,420.8 270.8,419.5 272.6,416.1 273.1,415.4 273.5,415.1 274.0,414.9 274.4,414.7 274.9,414.6 275.3,414.4 277.1,413.9 278.8,413.5 280.6,413.2 282.3,413.0 284.1,412.8 285.9,412.6 287.6,412.3 289.4,412.1 291.1,411.8 292.9,411.4 293.3,411.3 293.8,411.1 294.2,411.0 294.7,410.9 295.2,410.8 295.6,410.6 297.4,410.1 299.1,409.5 300.9,408.9 302.6,408.3 304.4,407.7 306.2,407.1 307.9,406.5 309.7,406.0 311.4,405.5 313.2,405.0 313.6,404.9 314.1,404.8 314.5,404.7 315.0,404.5 315.4,404.4 315.9,404.3 317.7,403.9 319.4,403.5 321.2,403.1 322.9,402.8 324.7,402.4 326.4,402.1 328.2,401.8 330.0,401.5 331.7,401.1 333.5,400.8 333.9,400.7 334.4,400.6 334.8,400.4 335.3,400.2 335.7,400.1 336.2,400.0 338.0,399.6 339.7,399.3 341.5,399.0 343.2,398.6 345.0,398.3 346.7,398.0 348.5,397.7 350.3,397.4 352.0,397.1 353.8,396.8 354.2,396.7 354.7,396.5 355.1,396.3 355.6,396.1 356.0,396.0 356.5,395.8 358.2,395.6 360.0,395.3 361.8,395.1 363.5,394.9 365.3,394.7 367.0,394.5 368.8,394.3 370.6,394.1 372.3,393.9 374.1,393.8 374.5,393.6 375.0,393.5 375.4,393.2 375.9,393.0 376.3,392.8 376.8,392.7 378.5,392.6 380.3,392.4 382.1,392.3 383.8,392.1 385.6,392.0 387.3,391.8 389.1,391.7 390.9,391.6 392.6,391.5 394.4,391.4 394.8,391.3 395.3,391.1 395.7,390.8 396.2,390.6 396.6,390.4 397.1,390.3 398.8,390.2 400.6,390.1 402.4,390.0 404.1,389.9 405.9,389.8 407.6,389.7 409.4,389.6 411.1,389.5 412.9,389.4 414.7,389.4 415.1,389.3 415.6,389.0 416.0,388.8 416.5,388.5 416.9,388.3 417.4,388.1 419.1,388.1 420.9,388.0 422.6,387.9 424.4,387.9 426.2,387.8 427.9,387.8 429.7,387.7 431.4,387.7 433.2,387.7 435.0,387.7 435.4,387.6 435.9,387.4 436.3,387.1 436.8,386.8 437.2,386.6 437.7,386.5 439.4,386.5 441.2,386.5 442.9,386.5 444.7,386.6 446.5,386.6 448.2,386.6 450.0,386.7 451.7,386.7 453.5,386.7 455.3,386.8 455.7,386.7 456.2,386.5 456.6,386.2 457.1,385.9 457.5,385.7 458.0,385.6 459.7,385.6 461.5,385.7 463.2,385.7 465.0,385.8 466.8,385.8 468.5,385.9 470.3,386.0 472.0,386.0 473.8,386.1 475.6,386.2 476.0,386.1 476.5,385.9 476.9,385.6 477.4,385.3 477.8,385.1 478.3,385.0 480.0,385.1 481.8,385.2 483.5,385.3 485.3,385.4 487.1,385.5 488.8,385.6 490.6,385.8 492.3,385.9 494.1,386.1 495.8,386.2 496.3,386.2 496.7,385.9 497.2,385.6 497.6,385.3 498.1,385.1 498.6,385.0 500.3,385.2 502.1,385.4 503.8,385.5 505.6,385.7 507.3,385.9 509.1,386.1 510.9,386.3 512.6,386.5 514.4,386.7 516.1,386.9 516.6,386.8 517.0,386.6 517.5,386.3 517.9,386.0 518.4,385.7 518.8,385.7 520.6,385.9 522.4,386.1 524.1,386.3 525.9,386.5 527.6,386.7 529.4,386.9 531.2,387.1 532.9,387.3 534.7,387.5 536.4,387.7 536.9,387.6 537.3,387.4 537.8,387.0 538.2,386.7 538.7,386.5 539.1,386.4 540.9,386.6 542.7,386.8 544.4,387.0 546.2,387.2 547.9,387.4 549.7,387.7 551.5,387.9 553.2,388.1 555.0,388.3 556.7,388.5 557.2,388.5 557.6,388.2 558.1,387.9 558.5,387.5 559.0,387.3 559.4,387.2 561.2,387.4 563.0,387.7 564.7,387.9 566.5,388.1 568.2,388.3 570.0,388.6 571.7,388.8 573.5,389.0 575.3,389.3 577.0,389.5 577.5,389.4 577.9,389.2 578.4,388.8 578.8,388.5 579.3,388.2 579.7,388.2 581.5,388.4 583.2,388.6 585.0,388.9 586.8,389.1 588.5,389.3 590.3,389.6 592.0,389.8 593.8,390.0 595.6,390.3 597.3,390.5 597.8,390.4 598.2,390.2 598.7,389.8 599.1,389.5 599.6,389.2 600.0,389.1 601.8,389.4 603.5,389.6 605.3,389.8 607.1,390.1 608.8,390.3 610.6,390.6 612.3,390.8 614.1,391.1 615.9,391.3 617.6,391.5 618.1,391.5 618.5,391.2 619.0,390.8 619.4,390.4 619.9,390.2 620.3,390.1 622.1,390.3 623.8,390.6 625.6,390.8 627.4,391.1 629.1,391.3 630.9,391.6 632.6,391.8 634.4,392.1 636.2,392.3 637.9,392.6 638.4,392.5 638.8,392.2 639.3,391.9 639.7,391.5 640.2,391.2 640.6,391.1 642.4,391.4 644.1,391.6 645.9,391.9 647.7,392.2 649.4,392.4 651.2,392.7 652.9,393.0 654.7,393.2 656.4,393.5 658.2,393.8 658.7,393.7 659.1,393.4 659.6,393.0 660.0,392.6 660.5,392.3 660.9,392.2 662.7,392.5 664.4,392.8 666.2,393.1 667.9,393.4 669.7,393.7 671.5,393.9 673.2,394.2 675.0,394.5 676.7,394.8 678.5,395.1 679.0,395.1 679.4,394.8 679.9,394.4 680.3,394.0 680.8,393.7 681.2,393.6 683.0,393.9 684.7,394.2 686.5,394.5 688.2,394.8 690.0,395.1 691.8,395.4 693.5,395.8 695.3,396.1 697.0,396.4 698.8,396.7 699.2,396.6 699.7,396.3 700.1,395.9 700.6,395.5 701.1,395.2 701.5,395.1 703.3,395.5 705.0,395.8 706.8,396.1 708.5,396.4 710.3,396.8 712.1,397.1 713.8,397.4 715.6,397.8 717.3,398.1 719.1,398.4 719.5,398.3 720.0,398.0 720.4,397.6 720.9,397.2 721.3,396.9 721.8,396.8 723.6,397.1 725.3,397.5 727.1,397.8 728.8,398.2 730.6,398.5 732.3,398.8 734.1,399.2 735.9,399.5 737.6,399.8 739.4,400.2 739.8,400.1 740.3,399.8 740.7,399.4 741.2,398.9 741.6,398.6 742.1,398.5 743.9,398.9 745.6,399.2 747.4,399.5 749.1,399.9 750.9,400.2 752.6,400.5 754.4,400.9 756.2,401.2 757.9,401.6 759.7,401.9 760.1,401.8 760.6,401.5 761.0,401.0 761.5,400.6 761.9,400.3 762.4,400.2 764.1,400.5 765.9,400.8 767.7,401.2 769.4,401.5 771.2,401.9 772.9,402.2 774.7,402.5 776.5,402.9 778.2,403.2 780.0,403.6 780.4,403.5 780.9,403.1 781.3,402.7 781.8,402.2 782.2,401.9 782.7,401.8 784.4,402.1 786.2,402.5 788.0,402.8 789.7,403.2 791.5,403.5 793.2,403.9 795.0,404.2 796.8,404.6 798.5,404.9 800.3,405.3 800.7,405.2 801.2,404.8 801.6,404.3 802.1,403.9 802.5,403.5 803.0,403.4 804.7,403.8 806.5,404.1 808.3,404.5 810.0,404.8 811.8,405.2 813.5,405.5 815.3,405.9 817.0,406.2 818.8,406.6 820.6,406.9 821.0,406.8 821.5,406.5 821.9,406.0 822.4,405.5 822.8,405.2 823.3,405.1 825.0,405.4 826.8,405.8 828.5,406.1 830.3,406.5 832.1,406.8 833.8,407.2 835.6,407.6 837.3,407.9 839.1,408.3 840.9,408.6 841.3,408.5 841.8,408.2 842.2,407.7 842.7,407.2 843.1,406.8 843.6,406.7 845.3,407.1 847.1,407.4" fill="none" stroke="#CC9900" stroke-width="3" stroke-linejoin="round" stroke-linecap="round"/>
</g>
<g stroke="#000" stroke-width="3.3" fill="none">
<path d="M132.60 19.20H849.65M848.00 19.20V643.55M132.60 627.55H848.00M148.30 19.20V627.55"/>
<path d="M132.60 584.10H148.30M132.60 540.64H148.30M132.60 497.19H148.30M132.60 453.74H148.30M132.60 410.28H148.30M132.60 366.83H148.30M132.60 323.38H148.30M132.60 279.92H148.30M132.60 236.47H148.30M132.60 193.01H148.30M132.60 149.56H148.30M132.60 106.11H148.30M132.60 62.65H148.30M170.90 627.55V643.55M283.65 627.55V643.55M396.40 627.55V643.55M509.15 627.55V643.55M621.90 627.55V643.55M734.65 627.55V643.55M847.40 627.55V643.55M227.28 627.55V635.55M340.02 627.55V635.55M452.77 627.55V635.55M565.52 627.55V635.55M678.27 627.55V635.55M791.02 627.55V635.55"/>
<path d="M140.70 614.47H148.30M140.70 606.82H148.30M140.70 601.39H148.30M140.70 597.18H148.30M140.70 593.74H148.30M140.70 590.83H148.30M140.70 588.31H148.30M140.70 586.08H148.30M140.70 571.02H148.30M140.70 563.36H148.30M140.70 557.93H148.30M140.70 553.72H148.30M140.70 550.28H148.30M140.70 547.37H148.30M140.70 544.85H148.30M140.70 542.63H148.30M140.70 527.56H148.30M140.70 519.91H148.30M140.70 514.48H148.30M140.70 510.27H148.30M140.70 506.83H148.30M140.70 503.92H148.30M140.70 501.40H148.30M140.70 499.18H148.30M140.70 484.11H148.30M140.70 476.46H148.30M140.70 471.03H148.30M140.70 466.82H148.30M140.70 463.38H148.30M140.70 460.47H148.30M140.70 457.95H148.30M140.70 455.72H148.30M140.70 440.65H148.30M140.70 433.00H148.30M140.70 427.57H148.30M140.70 423.36H148.30M140.70 419.92H148.30M140.70 417.01H148.30M140.70 414.49H148.30M140.70 412.27H148.30M140.70 397.20H148.30M140.70 389.55H148.30M140.70 384.12H148.30M140.70 379.91H148.30M140.70 376.47H148.30M140.70 373.56H148.30M140.70 371.04H148.30M140.70 368.82H148.30M140.70 353.75H148.30M140.70 346.10H148.30M140.70 340.67H148.30M140.70 336.46H148.30M140.70 333.02H148.30M140.70 330.11H148.30M140.70 327.59H148.30M140.70 325.36H148.30M140.70 310.29H148.30M140.70 302.64H148.30M140.70 297.21H148.30M140.70 293.00H148.30M140.70 289.56H148.30M140.70 286.65H148.30M140.70 284.13H148.30M140.70 281.91H148.30M140.70 266.84H148.30M140.70 259.19H148.30M140.70 253.76H148.30M140.70 249.55H148.30M140.70 246.11H148.30M140.70 243.20H148.30M140.70 240.68H148.30M140.70 238.46H148.30M140.70 223.39H148.30M140.70 215.74H148.30M140.70 210.31H148.30M140.70 206.10H148.30M140.70 202.65H148.30M140.70 199.75H148.30M140.70 197.23H148.30M140.70 195.00H148.30M140.70 179.93H148.30M140.70 172.28H148.30M140.70 166.85H148.30M140.70 162.64H148.30M140.70 159.20H148.30M140.70 156.29H148.30M140.70 153.77H148.30M140.70 151.55H148.30M140.70 136.48H148.30M140.70 128.83H148.30M140.70 123.40H148.30M140.70 119.19H148.30M140.70 115.75H148.30M140.70 112.84H148.30M140.70 110.32H148.30M140.70 108.10H148.30M140.70 93.03H148.30M140.70 85.37H148.30M140.70 79.95H148.30M140.70 75.73H148.30M140.70 72.29H148.30M140.70 69.38H148.30M140.70 66.86H148.30M140.70 64.64H148.30M140.70 49.57H148.30M140.70 41.92H148.30M140.70 36.49H148.30M140.70 32.28H148.30M140.70 28.84H148.30M140.70 25.93H148.30M140.70 23.41H148.30M140.70 21.19H148.30" stroke-width="3.0"/>
</g>
<g transform="translate(70.54,642.75) scale(0.9400,1)" font-family="Liberation Serif, serif" font-weight="bold"><text x="0.00" y="0.00" font-size="42.0">10</text><text x="41.00" y="-15.70" font-size="27.5">3</text></g>
<g transform="translate(70.54,555.84) scale(0.9400,1)" font-family="Liberation Serif, serif" font-weight="bold"><text x="0.00" y="0.00" font-size="42.0">10</text><text x="41.00" y="-15.70" font-size="27.5">5</text></g>
<g transform="translate(70.28,468.94) scale(0.9400,1)" font-family="Liberation Serif, serif" font-weight="bold"><text x="0.00" y="0.00" font-size="42.0">10</text><text x="41.00" y="-15.70" font-size="27.5">7</text></g>
<g transform="translate(70.54,382.03) scale(0.9400,1)" font-family="Liberation Serif, serif" font-weight="bold"><text x="0.00" y="0.00" font-size="42.0">10</text><text x="41.00" y="-15.70" font-size="27.5">9</text></g>
<g transform="translate(59.42,295.12) scale(0.9400,1)" font-family="Liberation Serif, serif" font-weight="bold"><text x="0.00" y="0.00" font-size="42.0">10</text><text x="41.00" y="-15.70" font-size="27.5">11</text></g>
<g transform="translate(57.61,208.21) scale(0.9400,1)" font-family="Liberation Serif, serif" font-weight="bold"><text x="0.00" y="0.00" font-size="42.0">10</text><text x="41.00" y="-15.70" font-size="27.5">13</text></g>
<g transform="translate(57.61,121.31) scale(0.9400,1)" font-family="Liberation Serif, serif" font-weight="bold"><text x="0.00" y="0.00" font-size="42.0">10</text><text x="41.00" y="-15.70" font-size="27.5">15</text></g>
<g transform="translate(57.36,34.40) scale(0.9400,1)" font-family="Liberation Serif, serif" font-weight="bold"><text x="0.00" y="0.00" font-size="42.0">10</text><text x="41.00" y="-15.70" font-size="27.5">17</text></g>
<text transform="translate(146.62,686.35) scale(0.9520,1)" font-size="40.8" font-family="Liberation Serif, serif" font-weight="bold">0.0</text>
<text transform="translate(259.28,686.35) scale(0.9520,1)" font-size="40.8" font-family="Liberation Serif, serif" font-weight="bold">0.5</text>
<text transform="translate(371.35,686.35) scale(0.9520,1)" font-size="40.8" font-family="Liberation Serif, serif" font-weight="bold">1.0</text>
<text transform="translate(484.00,686.35) scale(0.9520,1)" font-size="40.8" font-family="Liberation Serif, serif" font-weight="bold">1.5</text>
<text transform="translate(597.62,686.35) scale(0.9520,1)" font-size="40.8" font-family="Liberation Serif, serif" font-weight="bold">2.0</text>
<text transform="translate(710.28,686.35) scale(0.9520,1)" font-size="40.8" font-family="Liberation Serif, serif" font-weight="bold">2.5</text>
<text transform="translate(823.22,686.35) scale(0.9520,1)" font-size="40.8" font-family="Liberation Serif, serif" font-weight="bold">3.0</text>
<line x1="147.0" y1="38.5" x2="215.4" y2="38.5" stroke="#515151" stroke-width="3.3" stroke-linecap="round"/>
<g transform="translate(223.84,50.00) scale(0.9400,1)" font-family="Liberation Serif, serif" font-weight="bold"><text x="0.00" y="0.00" font-size="32.8">H</text><text x="25.51" y="-13.00" font-size="21.0">+</text></g>
<line x1="286.9" y1="38.5" x2="355.3" y2="38.5" stroke="#F14040" stroke-width="3.3" stroke-linecap="round"/>
<g transform="translate(362.96,50.00) scale(0.9400,1)" font-family="Liberation Serif, serif" font-weight="bold"><text x="0.00" y="0.00" font-size="32.8">O</text><text x="25.51" y="-13.00" font-size="21.0">-</text></g>
<line x1="438.5" y1="38.5" x2="506.9" y2="38.5" stroke="#1A6FDF" stroke-width="3.3" stroke-linecap="round"/>
<g transform="translate(513.46,50.00) scale(0.9400,1)" font-family="Liberation Serif, serif" font-weight="bold"><text x="0.00" y="0.00" font-size="32.8">OH</text><text x="51.03" y="-13.00" font-size="21.0">-</text></g>
<line x1="147.0" y1="82.5" x2="215.4" y2="82.5" stroke="#37AD6B" stroke-width="3.3" stroke-linecap="round"/>
<g transform="translate(222.76,94.00) scale(0.9400,1)" font-family="Liberation Serif, serif" font-weight="bold"><text x="0.00" y="0.00" font-size="32.8">CO</text><text x="49.20" y="-13.00" font-size="21.0">+</text><text x="49.20" y="8.00" font-size="21.0">2</text></g>
<line x1="286.9" y1="82.5" x2="355.3" y2="82.5" stroke="#B177DE" stroke-width="3.3" stroke-linecap="round"/>
<g transform="translate(364.04,94.00) scale(0.9400,1)" font-family="Liberation Serif, serif" font-weight="bold"><text x="0.00" y="0.00" font-size="32.8">H</text><text x="25.51" y="8.00" font-size="21.0">3</text><text x="36.01" y="0.00" font-size="32.8">O</text><text x="61.53" y="-13.00" font-size="21.0">+</text></g>
<line x1="438.5" y1="82.5" x2="506.9" y2="82.5" stroke="#CC9900" stroke-width="3.3" stroke-linecap="round"/>
<g transform="translate(513.46,94.00) scale(0.9400,1)" font-family="Liberation Serif, serif" font-weight="bold"><text x="0.00" y="0.00" font-size="32.8">CH</text><text x="49.20" y="-13.00" font-size="21.0">+</text><text x="49.20" y="8.00" font-size="21.0">5</text></g>
<text transform="translate(766.92,60.90) scale(0.9400,1)" font-size="41.2" font-family="Liberation Serif, serif" font-weight="bold">50%</text>
<text transform="translate(429.78,747.90) scale(0.9630,1)" font-size="43.8" font-family="Liberation Serif, serif" font-weight="bold">T (μs)</text>
<g transform="translate(37.80,481.06) rotate(-90) scale(0.9870,1)" font-family="Liberation Serif, serif" font-weight="bold"><text x="0.00" y="0.00" font-size="43.8">Ion density(cm</text><text x="278.63" y="-17.00" font-size="30.0">-3</text><text x="303.62" y="0.00" font-size="43.8">)</text></g>
</g>
<text transform="translate(1441.09,811.70) scale(1.0000,1)" font-size="33.3" font-family="Liberation Sans, sans-serif">(b)</text>
<clipPath id="cc"><rect x="148.3" y="884.8" width="699.7" height="607.7"/></clipPath>
<g clip-path="url(#cc)">
<polyline points="171.1,1552.5 171.7,1552.5 172.2,1552.5 172.7,1403.8 173.2,1277.6 173.8,1198.4 174.3,1148.8 176.0,1084.0 177.7,1069.6 179.4,1066.5 181.1,1065.9 182.9,1065.9 184.6,1066.0 186.3,1066.1 188.0,1066.2 189.7,1066.4 191.4,1064.1 191.9,1062.8 192.5,1061.2 193.0,1059.4 193.5,1057.7 194.1,1056.9 194.6,1056.5 196.3,1056.4 198.0,1056.2 199.7,1056.0 201.4,1055.8 203.1,1055.6 204.9,1055.4 206.6,1055.3 208.3,1055.1 210.0,1054.9 211.7,1054.7 212.2,1054.3 212.8,1053.6 213.3,1052.6 213.8,1051.7 214.3,1051.0 214.9,1050.7 216.6,1050.5 218.3,1050.4 220.0,1050.2 221.7,1050.1 223.4,1049.9 225.2,1049.8 226.9,1049.6 228.6,1049.4 230.3,1049.3 232.0,1049.1 232.5,1048.8 233.1,1048.1 233.6,1047.2 234.1,1046.3 234.6,1045.7 235.2,1045.4 236.9,1045.2 238.6,1045.1 240.3,1045.0 242.0,1044.8 243.7,1044.7 245.5,1044.6 247.2,1044.4 248.9,1044.3 250.6,1044.1 252.3,1043.9 252.8,1043.6 253.4,1043.0 253.9,1042.2 254.4,1041.4 254.9,1040.8 255.5,1040.5 257.2,1040.3 258.9,1040.2 260.6,1040.0 262.3,1039.9 264.0,1039.7 265.7,1039.5 267.5,1039.3 269.2,1039.2 270.9,1039.0 272.6,1038.8 273.1,1038.5 273.7,1037.9 274.2,1037.2 274.7,1036.5 275.2,1036.0 275.8,1035.7 277.5,1035.7 279.2,1035.7 280.9,1035.6 282.6,1035.6 284.3,1035.5 286.0,1035.5 287.8,1035.4 289.5,1035.4 291.2,1035.3 292.9,1035.3 293.4,1035.0 293.9,1034.6 294.5,1033.9 295.0,1033.3 295.5,1032.8 296.1,1032.6 297.8,1032.6 299.5,1032.5 301.2,1032.5 302.9,1032.4 304.6,1032.3 306.3,1032.3 308.0,1032.2 309.8,1032.1 311.5,1032.0 313.2,1031.9 313.7,1031.7 314.2,1031.3 314.8,1030.7 315.3,1030.2 315.8,1029.8 316.3,1029.6 318.1,1029.6 319.8,1029.5 321.5,1029.5 323.2,1029.5 324.9,1029.5 326.6,1029.4 328.3,1029.4 330.1,1029.3 331.8,1029.3 333.5,1029.2 334.0,1029.0 334.5,1028.7 335.1,1028.2 335.6,1027.7 336.1,1027.4 336.6,1027.2 338.4,1027.2 340.1,1027.1 341.8,1027.1 343.5,1027.0 345.2,1027.0 346.9,1026.9 348.6,1026.8 350.4,1026.7 352.1,1026.7 353.8,1026.6 354.3,1026.4 354.8,1026.1 355.4,1025.7 355.9,1025.3 356.4,1025.0 356.9,1024.8 358.7,1024.8 360.4,1024.8 362.1,1024.8 363.8,1024.7 365.5,1024.7 367.2,1024.7 368.9,1024.7 370.6,1024.6 372.4,1024.6 374.1,1024.6 374.6,1024.4 375.1,1024.1 375.7,1023.8 376.2,1023.4 376.7,1023.1 377.2,1022.9 378.9,1022.9 380.7,1022.9 382.4,1022.9 384.1,1022.8 385.8,1022.8 387.5,1022.8 389.2,1022.7 390.9,1022.7 392.7,1022.6 394.4,1022.6 394.9,1022.5 395.4,1022.2 395.9,1021.8 396.5,1021.5 397.0,1021.2 397.5,1021.1 399.2,1021.0 401.0,1021.0 402.7,1021.0 404.4,1021.0 406.1,1021.0 407.8,1021.1 409.5,1021.1 411.2,1021.1 413.0,1021.1 414.7,1021.1 415.2,1021.0 415.7,1020.8 416.2,1020.4 416.8,1020.1 417.3,1019.9 417.8,1019.8 419.5,1019.8 421.3,1019.8 423.0,1019.8 424.7,1019.8 426.4,1019.8 428.1,1019.8 429.8,1019.9 431.5,1019.9 433.2,1019.9 435.0,1019.9 435.5,1019.8 436.0,1019.5 436.5,1019.2 437.1,1018.9 437.6,1018.7 438.1,1018.6 439.8,1018.6 441.5,1018.6 443.3,1018.6 445.0,1018.6 446.7,1018.6 448.4,1018.6 450.1,1018.6 451.8,1018.6 453.5,1018.6 455.3,1018.6 455.8,1018.5 456.3,1018.3 456.8,1018.0 457.4,1017.8 457.9,1017.6 458.4,1017.5 460.1,1017.5 461.8,1017.5 463.6,1017.5 465.3,1017.5 467.0,1017.5 468.7,1017.5 470.4,1017.5 472.1,1017.5 473.8,1017.5 475.6,1017.5 476.1,1017.4 476.6,1017.2 477.1,1017.0 477.7,1016.8 478.2,1016.6 478.7,1016.5 480.4,1016.5 482.1,1016.5 483.8,1016.5 485.6,1016.5 487.3,1016.5 489.0,1016.5 490.7,1016.5 492.4,1016.5 494.1,1016.4 495.8,1016.4 496.4,1016.4 496.9,1016.2 497.4,1016.0 498.0,1015.7 498.5,1015.6 499.0,1015.5 500.7,1015.5 502.4,1015.5 504.1,1015.5 505.9,1015.5 507.6,1015.4 509.3,1015.4 511.0,1015.4 512.7,1015.4 514.4,1015.4 516.1,1015.4 516.7,1015.3 517.2,1015.1 517.7,1014.9 518.2,1014.7 518.8,1014.6 519.3,1014.5 521.0,1014.5 522.7,1014.5 524.4,1014.4 526.2,1014.4 527.9,1014.4 529.6,1014.4 531.3,1014.4 533.0,1014.4 534.7,1014.4 536.4,1014.4 537.0,1014.3 537.5,1014.2 538.0,1014.0 538.5,1013.8 539.1,1013.6 539.6,1013.6 541.3,1013.6 543.0,1013.6 544.7,1013.6 546.4,1013.6 548.2,1013.6 549.9,1013.6 551.6,1013.6 553.3,1013.6 555.0,1013.6 556.7,1013.6 557.3,1013.5 557.8,1013.4 558.3,1013.2 558.8,1013.0 559.4,1012.9 559.9,1012.8 561.6,1012.8 563.3,1012.8 565.0,1012.8 566.7,1012.8 568.5,1012.8 570.2,1012.8 571.9,1012.8 573.6,1012.8 575.3,1012.8 577.0,1012.8 577.6,1012.8 578.1,1012.6 578.6,1012.4 579.1,1012.3 579.7,1012.1 580.2,1012.1 581.9,1012.1 583.6,1012.1 585.3,1012.1 587.0,1012.1 588.8,1012.1 590.5,1012.1 592.2,1012.1 593.9,1012.1 595.6,1012.1 597.3,1012.1 597.8,1012.0 598.4,1011.9 598.9,1011.7 599.4,1011.5 600.0,1011.4 600.5,1011.3 602.2,1011.3 603.9,1011.3 605.6,1011.3 607.3,1011.3 609.0,1011.3 610.8,1011.3 612.5,1011.3 614.2,1011.3 615.9,1011.3 617.6,1011.3 618.1,1011.2 618.7,1011.1 619.2,1010.9 619.7,1010.8 620.2,1010.6 620.8,1010.6 622.5,1010.6 624.2,1010.6 625.9,1010.6 627.6,1010.6 629.3,1010.5 631.1,1010.5 632.8,1010.5 634.5,1010.5 636.2,1010.5 637.9,1010.5 638.4,1010.5 639.0,1010.3 639.5,1010.2 640.0,1010.0 640.5,1009.9 641.1,1009.8 642.8,1009.8 644.5,1009.8 646.2,1009.8 647.9,1009.8 649.6,1009.8 651.4,1009.8 653.1,1009.8 654.8,1009.8 656.5,1009.7 658.2,1009.7 658.7,1009.7 659.3,1009.5 659.8,1009.4 660.3,1009.2 660.8,1009.1 661.4,1009.0 663.1,1009.0 664.8,1009.0 666.5,1009.0 668.2,1009.0 669.9,1009.0 671.6,1008.9 673.4,1008.9 675.1,1008.9 676.8,1008.9 678.5,1008.9 679.0,1008.8 679.6,1008.7 680.1,1008.5 680.6,1008.4 681.1,1008.3 681.7,1008.2 683.4,1008.2 685.1,1008.2 686.8,1008.1 688.5,1008.1 690.2,1008.1 691.9,1008.1 693.7,1008.1 695.4,1008.0 697.1,1008.0 698.8,1008.0 699.3,1007.9 699.8,1007.8 700.4,1007.7 700.9,1007.5 701.4,1007.4 702.0,1007.3 703.7,1007.3 705.4,1007.3 707.1,1007.3 708.8,1007.3 710.5,1007.2 712.2,1007.2 713.9,1007.2 715.7,1007.2 717.4,1007.1 719.1,1007.1 719.6,1007.1 720.1,1007.0 720.7,1006.8 721.2,1006.7 721.7,1006.6 722.2,1006.5 724.0,1006.5 725.7,1006.5 727.4,1006.4 729.1,1006.4 730.8,1006.4 732.5,1006.4 734.2,1006.3 736.0,1006.3 737.7,1006.3 739.4,1006.3 739.9,1006.2 740.4,1006.1 741.0,1006.0 741.5,1005.8 742.0,1005.7 742.5,1005.7 744.3,1005.6 746.0,1005.6 747.7,1005.6 749.4,1005.6 751.1,1005.5 752.8,1005.5 754.5,1005.5 756.3,1005.4 758.0,1005.4 759.7,1005.4 760.2,1005.4 760.7,1005.3 761.3,1005.1 761.8,1005.0 762.3,1004.9 762.8,1004.8 764.6,1004.8 766.3,1004.8 768.0,1004.8 769.7,1004.8 771.4,1004.8 773.1,1004.7 774.8,1004.7 776.5,1004.7 778.3,1004.7 780.0,1004.7 780.5,1004.6 781.0,1004.5 781.6,1004.4 782.1,1004.3 782.6,1004.2 783.1,1004.1 784.8,1004.1 786.6,1004.1 788.3,1004.1 790.0,1004.1 791.7,1004.0 793.4,1004.0 795.1,1004.0 796.8,1004.0 798.6,1004.0 800.3,1003.9 800.8,1003.9 801.3,1003.8 801.8,1003.7 802.4,1003.6 802.9,1003.5 803.4,1003.4 805.1,1003.4 806.9,1003.4 808.6,1003.4 810.3,1003.3 812.0,1003.3 813.7,1003.3 815.4,1003.3 817.1,1003.2 818.9,1003.2 820.6,1003.2 821.1,1003.2 821.6,1003.1 822.1,1003.0 822.7,1002.8 823.2,1002.7 823.7,1002.7 825.4,1002.7 827.2,1002.7 828.9,1002.6 830.6,1002.6 832.3,1002.6 834.0,1002.6 835.7,1002.5 837.4,1002.5 839.1,1002.5 840.9,1002.5 841.4,1002.4 841.9,1002.3 842.4,1002.2 843.0,1002.1 843.5,1002.0 844.0,1002.0 845.7,1002.0" fill="none" stroke="#515151" stroke-width="3" stroke-linejoin="round" stroke-linecap="round"/>
<polyline points="171.1,1552.5 171.5,1152.9 173.6,1135.1 176.1,1140.4 176.3,1182.6 176.5,1224.7 176.7,1266.8 176.9,1308.9 177.1,1350.7 177.3,1388.7 177.5,1408.1 177.7,1411.8 177.9,1413.1 178.8,1416.9 179.6,1420.0 180.5,1422.6 181.3,1424.7 182.1,1426.5 183.0,1428.0 183.8,1429.2 184.7,1430.3 185.5,1431.1 186.4,1431.8 187.2,1432.4 188.0,1432.9 188.9,1433.3 189.7,1433.6 190.6,1433.9 191.4,1434.1 191.8,1155.5 192.8,1137.6 194.1,1143.0 194.4,1191.3 194.6,1239.7 194.8,1288.0 195.1,1336.0 195.3,1379.4 195.5,1398.4 195.8,1401.3 196.0,1402.5 196.2,1403.6 197.2,1407.3 198.2,1410.3 199.1,1412.7 200.1,1414.6 201.1,1416.2 202.0,1417.4 203.0,1418.3 204.0,1419.1 204.9,1419.7 205.9,1420.2 206.9,1420.6 207.8,1420.9 208.8,1421.1 209.8,1421.3 210.7,1421.5 211.7,1421.6 212.1,1158.1 213.1,1140.2 214.4,1145.6 216.1,1371.0 216.8,1353.1 217.4,1413.9 218.4,1374.5 219.0,1394.2 221.2,1338.1 223.1,1353.1 226.1,1337.0 231.9,1410.6 232.0,1410.2 232.3,1160.7 233.4,1142.8 234.7,1148.1 235.0,1196.5 235.2,1244.8 235.4,1293.1 235.7,1340.2 235.9,1374.1 236.1,1381.9 236.4,1383.4 236.6,1384.4 236.8,1385.4 237.8,1388.8 238.8,1391.4 239.7,1393.4 240.7,1394.9 241.7,1396.1 242.6,1397.0 243.6,1397.7 244.6,1398.2 245.5,1398.6 246.5,1399.0 247.5,1399.2 248.4,1399.4 249.4,1399.5 250.4,1399.7 251.3,1399.7 252.3,1399.8 252.6,1163.2 253.7,1145.4 255.0,1150.7 255.2,1199.0 255.5,1247.4 255.7,1295.6 255.9,1341.8 256.2,1369.9 256.4,1375.0 256.7,1376.2 256.9,1377.2 257.1,1378.1 258.1,1381.2 259.1,1383.5 260.0,1385.3 261.0,1386.6 262.0,1387.6 262.9,1388.3 263.9,1388.9 264.9,1389.3 265.8,1389.7 266.8,1389.9 267.8,1390.1 268.7,1390.2 269.7,1390.3 270.7,1390.4 271.6,1390.5 272.6,1390.5 272.9,1165.8 274.0,1147.9 275.3,1153.3 275.5,1201.6 275.8,1249.9 276.0,1298.1 276.2,1342.8 276.5,1365.0 276.7,1368.4 276.9,1369.4 277.2,1370.3 277.4,1371.1 278.4,1373.9 279.4,1376.0 280.3,1377.5 281.3,1378.6 282.3,1379.4 283.2,1380.0 284.2,1380.4 285.2,1380.8 286.1,1381.0 287.1,1381.2 288.1,1381.3 289.0,1381.4 290.0,1381.5 291.0,1381.5 291.9,1381.6 292.9,1381.6 293.2,1168.1 294.2,1150.2 295.6,1155.6 295.8,1203.9 296.1,1252.2 296.3,1300.2 296.5,1342.9 296.8,1360.0 297.0,1362.4 297.2,1363.3 297.5,1364.1 297.7,1364.8 298.7,1367.3 299.6,1369.0 300.6,1370.3 301.6,1371.2 302.5,1371.8 303.5,1372.3 304.5,1372.6 305.5,1372.8 306.4,1373.0 307.4,1373.1 308.4,1373.2 309.3,1373.3 310.3,1373.3 311.3,1373.3 312.2,1373.4 313.2,1373.4 313.5,1170.0 314.5,1152.1 315.9,1157.5 316.1,1205.8 316.4,1254.1 316.6,1301.9 316.8,1342.0 317.1,1355.0 317.3,1356.8 317.5,1357.6 317.8,1358.3 318.0,1359.0 319.0,1361.1 319.9,1362.6 320.9,1363.6 321.9,1364.3 322.8,1364.8 323.8,1365.2 324.8,1365.4 325.7,1365.6 326.7,1365.7 327.7,1365.8 328.6,1365.8 329.6,1365.8 330.6,1365.9 331.6,1365.9 332.5,1365.9 333.5,1365.9 333.8,1171.9 334.8,1154.1 336.2,1159.4 336.4,1207.8 336.7,1256.0 336.9,1303.5 337.1,1340.4 337.4,1350.0 337.6,1351.4 337.8,1352.1 338.1,1352.8 338.3,1353.4 339.3,1355.4 340.2,1356.7 341.2,1357.6 342.2,1358.1 343.1,1358.5 344.1,1358.8 345.1,1358.9 346.0,1359.0 347.0,1359.1 348.0,1359.1 348.9,1359.1 349.9,1359.1 350.9,1359.1 351.8,1359.1 352.8,1359.1 353.8,1359.1 354.1,1173.9 355.1,1156.0 356.5,1161.4 356.7,1209.7 357.0,1258.0 357.2,1305.0 357.4,1338.1 357.7,1345.2 357.9,1346.3 358.1,1347.0 358.4,1347.6 358.6,1348.2 359.6,1350.0 360.5,1351.1 361.5,1351.8 362.5,1352.3 363.4,1352.5 364.4,1352.7 365.4,1352.8 366.3,1352.8 367.3,1352.9 368.3,1352.8 369.2,1352.8 370.2,1352.8 371.2,1352.8 372.1,1352.7 373.1,1352.7 374.1,1352.7 374.4,1175.8 375.4,1157.9 376.8,1163.3 377.0,1211.6 377.3,1259.8 377.5,1306.3 377.7,1335.4 378.0,1340.5 378.2,1341.5 378.4,1342.2 378.7,1342.7 378.9,1343.2 379.9,1344.8 380.8,1345.7 381.8,1346.3 382.8,1346.6 383.7,1346.8 384.7,1346.9 385.7,1346.9 386.6,1346.9 387.6,1346.9 388.6,1346.9 389.5,1346.8 390.5,1346.8 391.5,1346.7 392.4,1346.7 393.4,1346.6 394.4,1346.5 394.7,1177.7 395.7,1159.9 397.1,1165.2 397.3,1213.5 397.5,1261.7 397.8,1307.3 398.0,1332.2 398.2,1336.0 398.5,1336.8 398.7,1337.4 399.0,1337.9 399.2,1338.3 400.2,1339.7 401.1,1340.4 402.1,1340.8 403.1,1341.0 404.0,1341.1 405.0,1341.1 406.0,1341.1 406.9,1341.1 407.9,1341.0 408.9,1341.0 409.8,1340.9 410.8,1340.8 411.8,1340.7 412.7,1340.7 413.7,1340.6 414.7,1340.5 415.0,1178.4 416.0,1160.5 417.4,1165.8 417.6,1214.2 417.8,1262.3 418.1,1307.0 418.3,1328.8 418.5,1331.8 418.8,1332.5 419.0,1333.0 419.2,1333.5 419.5,1333.9 420.4,1335.1 421.4,1335.7 422.4,1336.1 423.4,1336.2 424.3,1336.3 425.3,1336.3 426.3,1336.2 427.2,1336.2 428.2,1336.1 429.2,1336.0 430.1,1335.9 431.1,1335.9 432.1,1335.8 433.0,1335.7 434.0,1335.6 435.0,1335.5 435.3,1178.8 436.3,1161.0 437.7,1166.3 437.9,1214.6 438.1,1262.7 438.4,1306.1 438.6,1324.4 438.8,1326.7 439.1,1327.3 439.3,1327.8 439.5,1328.2 439.8,1328.6 440.7,1329.6 441.7,1330.1 442.7,1330.4 443.6,1330.5 444.6,1330.6 445.6,1330.5 446.5,1330.5 447.5,1330.4 448.5,1330.3 449.5,1330.2 450.4,1330.1 451.4,1330.0 452.4,1329.9 453.3,1329.8 454.3,1329.7 455.3,1329.6 455.6,1179.3 456.6,1161.5 458.0,1166.8 458.2,1215.1 458.4,1263.1 458.7,1304.8 458.9,1320.1 459.1,1321.8 459.4,1322.3 459.6,1322.7 459.8,1323.1 460.1,1323.4 461.0,1324.3 462.0,1324.8 463.0,1325.0 463.9,1325.0 464.9,1325.0 465.9,1325.0 466.8,1324.9 467.8,1324.8 468.8,1324.7 469.7,1324.6 470.7,1324.5 471.7,1324.4 472.6,1324.3 473.6,1324.2 474.6,1324.1 475.6,1324.0 475.9,1179.8 476.9,1161.9 478.3,1167.3 478.5,1215.6 478.7,1263.4 479.0,1303.8 479.2,1316.9 479.4,1318.3 479.7,1318.8 479.9,1319.1 480.1,1319.4 480.4,1319.7 481.3,1320.5 482.3,1320.8 483.3,1321.0 484.2,1321.0 485.2,1321.0 486.2,1320.9 487.1,1320.8 488.1,1320.7 489.1,1320.6 490.0,1320.5 491.0,1320.4 492.0,1320.3 492.9,1320.1 493.9,1320.0 494.9,1319.9 495.8,1319.8 496.2,1180.3 497.2,1162.4 498.6,1167.8 498.8,1216.1 499.0,1263.8 499.3,1302.6 499.5,1313.7 499.7,1314.8 500.0,1315.2 500.2,1315.5 500.4,1315.8 500.7,1316.0 501.6,1316.6 502.6,1316.9 503.6,1317.0 504.5,1317.0 505.5,1316.9 506.5,1316.8 507.4,1316.7 508.4,1316.6 509.4,1316.5 510.3,1316.4 511.3,1316.2 512.3,1316.1 513.2,1316.0 514.2,1315.8 515.2,1315.7 516.1,1315.6 516.5,1180.8 517.5,1162.9 518.9,1168.3 519.1,1216.5 519.3,1264.0 519.6,1301.0 519.8,1310.3 520.0,1311.2 520.3,1311.5 520.5,1311.8 520.7,1312.0 521.0,1312.2 521.9,1312.7 522.9,1312.9 523.9,1312.9 524.8,1312.9 525.8,1312.8 526.8,1312.7 527.7,1312.6 528.7,1312.5 529.7,1312.3 530.6,1312.2 531.6,1312.1 532.6,1311.9 533.5,1311.8 534.5,1311.7 535.5,1311.5 536.4,1311.4 536.8,1181.3 537.8,1163.4 539.2,1168.7 539.4,1216.9 539.7,1264.0 539.9,1298.8 540.1,1306.6 540.4,1307.3 540.6,1307.6 540.8,1307.8 541.1,1308.0 541.3,1308.2 542.3,1308.6 543.2,1308.8 544.2,1308.8 545.2,1308.8 546.1,1308.7 547.1,1308.6 548.1,1308.5 549.0,1308.3 550.0,1308.2 550.9,1308.0 551.9,1307.9 552.9,1307.8 553.8,1307.6 554.8,1307.5 555.8,1307.4 556.7,1307.2 557.1,1181.7 558.1,1163.9 559.5,1169.2 559.8,1217.2 560.0,1264.0 560.2,1296.7 560.5,1303.1 560.7,1303.7 560.9,1304.0 561.2,1304.2 561.4,1304.4 561.6,1304.5 562.6,1304.9 563.6,1305.0 564.5,1305.0 565.5,1304.9 566.4,1304.8 567.4,1304.7 568.4,1304.6 569.3,1304.5 570.3,1304.3 571.3,1304.2 572.2,1304.1 573.2,1303.9 574.1,1303.8 575.1,1303.6 576.1,1303.5 577.0,1303.4 577.4,1182.2 578.4,1164.3 579.9,1169.7 580.1,1217.6 580.3,1263.9 580.6,1294.2 580.8,1299.4 581.0,1299.9 581.3,1300.1 581.5,1300.3 581.7,1300.5 582.0,1300.6 582.9,1300.9 583.9,1301.0 584.8,1300.9 585.8,1300.9 586.8,1300.8 587.7,1300.6 588.7,1300.5 589.6,1300.4 590.6,1300.2 591.6,1300.1 592.5,1299.9 593.5,1299.8 594.4,1299.7 595.4,1299.5 596.4,1299.4 597.3,1299.2 597.7,1182.7 598.8,1164.8 600.2,1170.2 600.4,1217.9 600.7,1263.7 600.9,1291.4 601.1,1295.7 601.4,1296.1 601.6,1296.3 601.8,1296.4 602.1,1296.5 602.3,1296.6 603.3,1296.9 604.2,1296.9 605.2,1296.9 606.1,1296.8 607.1,1296.7 608.0,1296.5 609.0,1296.4 610.0,1296.3 610.9,1296.1 611.9,1296.0 612.8,1295.8 613.8,1295.7 614.7,1295.6 615.7,1295.4 616.7,1295.3 617.6,1295.1 618.0,1183.2 619.1,1165.3 620.5,1170.7 620.8,1218.3 621.0,1263.4 621.2,1288.7 621.5,1292.1 621.7,1292.4 621.9,1292.6 622.2,1292.7 622.4,1292.8 622.6,1292.9 623.6,1293.0 624.5,1293.0 625.5,1293.0 626.4,1292.9 627.4,1292.8 628.4,1292.6 629.3,1292.5 630.3,1292.3 631.2,1292.2 632.2,1292.1 633.1,1291.9 634.1,1291.8 635.0,1291.6 636.0,1291.5 637.0,1291.3 637.9,1291.2 638.2,1183.7 639.4,1165.8 640.9,1171.2 641.1,1218.6 641.3,1263.0 641.6,1285.6 641.8,1288.4 642.0,1288.7 642.3,1288.8 642.5,1288.9 642.7,1289.0 643.0,1289.0 643.9,1289.2 644.9,1289.2 645.8,1289.1 646.8,1289.0 647.7,1288.8 648.7,1288.7 649.6,1288.6 650.6,1288.4 651.5,1288.3 652.5,1288.1 653.4,1288.0 654.4,1287.9 655.3,1287.7 656.3,1287.6 657.3,1287.4 658.2,1287.3 658.5,1184.2 659.7,1166.3 661.2,1171.6 661.4,1218.9 661.7,1262.4 661.9,1282.7 662.1,1284.9 662.4,1285.2 662.6,1285.3 662.8,1285.4 663.1,1285.5 663.3,1285.5 664.2,1285.6 665.2,1285.6 666.1,1285.5 667.1,1285.4 668.0,1285.3 669.0,1285.2 669.9,1285.0 670.9,1284.9 671.8,1284.7 672.8,1284.6 673.7,1284.4 674.7,1284.3 675.6,1284.1 676.6,1284.0 677.5,1283.8 678.5,1283.7 678.8,1184.6 680.0,1166.8 681.5,1172.1 681.8,1219.2 682.0,1261.7 682.2,1279.6 682.5,1281.5 682.7,1281.7 682.9,1281.8 683.2,1281.9 683.4,1282.0 683.6,1282.0 684.6,1282.1 685.5,1282.1 686.5,1282.0 687.4,1281.9 688.4,1281.7 689.3,1281.6 690.3,1281.4 691.2,1281.3 692.2,1281.2 693.1,1281.0 694.1,1280.9 695.0,1280.7 695.9,1280.6 696.9,1280.4 697.8,1280.3 698.8,1280.1 699.1,1185.1 700.3,1167.2 701.9,1172.6 702.1,1219.5 702.3,1260.9 702.6,1276.7 702.8,1278.2 703.0,1278.4 703.3,1278.5 703.5,1278.6 703.7,1278.6 703.9,1278.7 704.9,1278.7 705.8,1278.7 706.8,1278.6 707.7,1278.5 708.7,1278.4 709.6,1278.2 710.6,1278.1 711.5,1277.9 712.5,1277.8 713.4,1277.6 714.4,1277.5 715.3,1277.3 716.3,1277.2 717.2,1277.0 718.1,1276.9 719.1,1276.7 719.4,1185.6 720.7,1167.7 722.2,1173.1 722.4,1219.8 722.7,1259.9 722.9,1273.7 723.1,1274.9 723.4,1275.1 723.6,1275.2 723.8,1275.2 724.0,1275.3 724.3,1275.3 725.2,1275.4 726.2,1275.3 727.1,1275.2 728.1,1275.1 729.0,1275.0 729.9,1274.8 730.9,1274.7 731.8,1274.5 732.8,1274.4 733.7,1274.2 734.7,1274.1 735.6,1273.9 736.6,1273.8 737.5,1273.6 738.4,1273.5 739.4,1273.3 739.7,1186.1 741.0,1168.2 742.6,1173.6 742.8,1220.0 743.0,1258.6 743.2,1270.4 743.5,1271.4 743.7,1271.6 743.9,1271.7 744.2,1271.7 744.4,1271.8 744.6,1271.8 745.5,1271.8 746.5,1271.8 747.4,1271.7 748.4,1271.5 749.3,1271.4 750.3,1271.3 751.2,1271.1 752.1,1271.0 753.1,1270.8 754.0,1270.7 755.0,1270.5 755.9,1270.4 756.9,1270.2 757.8,1270.1 758.7,1269.9 759.7,1269.8 760.0,1186.6 761.3,1168.7 762.9,1174.1 763.1,1220.3 763.3,1257.1 763.6,1267.2 763.8,1268.0 764.0,1268.1 764.3,1268.2 764.5,1268.2 764.7,1268.3 764.9,1268.3 765.9,1268.3 766.8,1268.2 767.8,1268.1 768.7,1268.0 769.6,1267.8 770.6,1267.7 771.5,1267.6 772.5,1267.4 773.4,1267.2 774.3,1267.1 775.3,1266.9 776.2,1266.8 777.2,1266.6 778.1,1266.5 779.0,1266.3 780.0,1266.2 780.3,1187.0 781.6,1169.2 783.2,1174.5 783.5,1220.4 783.7,1255.5 783.9,1264.0 784.1,1264.7 784.4,1264.8 784.6,1264.9 784.8,1264.9 785.0,1264.9 785.3,1265.0 786.2,1265.0 787.1,1264.9 788.1,1264.8 789.0,1264.6 790.0,1264.5 790.9,1264.3 791.8,1264.2 792.8,1264.0 793.7,1263.9 794.6,1263.7 795.6,1263.6 796.5,1263.4 797.5,1263.2 798.4,1263.1 799.3,1262.9 800.3,1262.8 800.6,1187.5 801.9,1169.7 803.6,1175.0 803.8,1220.6 804.0,1253.6 804.2,1260.8 804.5,1261.4 804.7,1261.5 804.9,1261.5 805.1,1261.6 805.4,1261.6 805.6,1261.6 806.5,1261.6 807.5,1261.5 808.4,1261.4 809.3,1261.2 810.3,1261.1 811.2,1260.9 812.1,1260.8 813.1,1260.6 814.0,1260.5 815.0,1260.3 815.9,1260.2 816.8,1260.0 817.8,1259.9 818.7,1259.7 819.6,1259.5 820.6,1259.4 820.9,1188.0 822.2,1170.1 823.9,1175.5 824.1,1220.6 824.3,1251.8 824.6,1257.8 824.8,1258.3 825.0,1258.3 825.3,1258.4 825.5,1258.4 825.7,1258.4 825.9,1258.5 826.9,1258.4 827.8,1258.3 828.7,1258.2 829.7,1258.0 830.6,1257.9 831.5,1257.7 832.5,1257.6 833.4,1257.4 834.3,1257.3 835.3,1257.1 836.2,1257.0 837.1,1256.8 838.1,1256.6 839.0,1256.5 839.9,1256.3 840.9,1256.2 841.2,1188.5 842.5,1170.6 844.2,1176.0 844.5,1220.9 844.7,1251.2 844.9,1256.9 845.1,1257.3 845.4,1257.4 845.6,1257.4 845.8,1257.4 846.0,1257.5 846.3,1257.5 847.2,1257.4" fill="none" stroke="#F14040" stroke-width="2.9" stroke-linejoin="round" stroke-linecap="round"/>
<polyline points="171.1,1552.5 171.6,1452.5 172.0,1267.4 172.5,1183.7 172.9,1145.8 173.4,1128.5 173.8,1120.8 175.6,1115.2 177.3,1115.3 179.1,1115.7 180.9,1116.1 182.6,1116.6 184.4,1117.2 186.1,1117.8 187.9,1118.5 189.7,1119.3 191.4,1120.0 191.9,1119.7 192.3,1118.6 192.8,1117.2 193.2,1115.7 193.7,1114.7 194.1,1114.3 195.9,1115.0 197.6,1115.6 199.4,1116.2 201.2,1116.9 202.9,1117.5 204.7,1118.2 206.4,1118.8 208.2,1119.4 210.0,1120.1 211.7,1120.8 212.2,1120.4 212.6,1119.4 213.1,1117.9 213.5,1116.5 214.0,1115.4 214.4,1115.0 216.2,1115.7 217.9,1116.5 219.7,1117.3 221.5,1118.1 223.2,1119.0 225.0,1120.0 226.7,1120.9 228.5,1121.9 230.3,1122.9 232.0,1124.0 232.5,1123.5 232.9,1122.1 233.4,1120.2 233.8,1118.2 234.3,1116.7 234.7,1116.2 236.5,1117.2 238.2,1118.2 240.0,1119.2 241.8,1120.3 243.5,1121.5 245.3,1122.6 247.0,1123.8 248.8,1125.0 250.5,1126.3 252.3,1127.6 252.8,1127.0 253.2,1125.3 253.7,1122.9 254.1,1120.4 254.6,1118.6 255.0,1118.0 256.8,1119.2 258.5,1120.4 260.3,1121.7 262.0,1123.0 263.8,1124.3 265.6,1125.6 267.3,1127.0 269.1,1128.5 270.8,1130.0 272.6,1131.5 273.1,1130.8 273.5,1128.6 274.0,1125.6 274.4,1122.5 274.9,1120.3 275.3,1119.5 277.1,1120.9 278.8,1122.3 280.6,1123.7 282.3,1125.2 284.1,1126.8 285.9,1128.4 287.6,1130.0 289.4,1131.6 291.1,1133.3 292.9,1135.1 293.3,1134.2 293.8,1131.6 294.2,1128.0 294.7,1124.4 295.2,1121.7 295.6,1120.8 297.4,1122.4 299.1,1124.0 300.9,1125.7 302.6,1127.4 304.4,1129.1 306.2,1130.9 307.9,1132.7 309.7,1134.5 311.4,1136.4 313.2,1138.3 313.6,1137.2 314.1,1134.3 314.5,1130.1 315.0,1126.0 315.4,1122.9 315.9,1121.8 317.7,1123.6 319.4,1125.4 321.2,1127.3 322.9,1129.2 324.7,1131.1 326.4,1133.1 328.2,1135.2 330.0,1137.2 331.7,1139.3 333.5,1141.5 333.9,1140.3 334.4,1136.9 334.8,1132.1 335.3,1127.4 335.7,1123.9 336.2,1122.6 338.0,1124.7 339.7,1126.7 341.5,1128.8 343.2,1131.0 345.0,1133.2 346.7,1135.4 348.5,1137.7 350.3,1140.0 352.0,1142.3 353.8,1144.7 354.2,1143.3 354.7,1139.4 355.1,1134.1 355.6,1128.7 356.0,1124.8 356.5,1123.3 358.2,1125.5 360.0,1127.8 361.8,1130.1 363.5,1132.4 365.3,1134.8 367.0,1137.2 368.8,1139.6 370.6,1142.1 372.3,1144.7 374.1,1147.2 374.5,1145.7 375.0,1141.4 375.4,1135.5 375.9,1129.6 376.3,1125.2 376.8,1123.6 378.5,1126.1 380.3,1128.5 382.1,1131.0 383.8,1133.6 385.6,1136.1 387.3,1138.7 389.1,1141.4 390.9,1144.0 392.6,1146.7 394.4,1149.5 394.8,1147.8 395.3,1143.2 395.7,1136.8 396.2,1130.4 396.6,1125.7 397.1,1123.9 398.8,1126.5 400.6,1129.2 402.4,1131.8 404.1,1134.5 405.9,1137.3 407.6,1140.1 409.4,1142.9 411.1,1145.7 412.9,1148.6 414.7,1151.5 415.1,1149.7 415.6,1144.7 416.0,1137.8 416.5,1130.9 416.9,1125.8 417.4,1123.9 419.1,1126.7 420.9,1129.6 422.6,1132.4 424.4,1135.3 426.2,1138.2 427.9,1141.2 429.7,1144.2 431.4,1147.2 433.2,1150.2 435.0,1153.3 435.4,1151.3 435.9,1146.0 436.3,1138.6 436.8,1131.3 437.2,1125.9 437.7,1123.9 439.4,1126.9 441.2,1129.9 442.9,1132.8 444.7,1135.8 446.5,1138.8 448.2,1141.8 450.0,1144.9 451.7,1147.9 453.5,1150.9 455.3,1154.0 455.7,1152.0 456.2,1146.5 456.6,1139.0 457.1,1131.5 457.5,1126.0 458.0,1123.9 459.7,1127.0 461.5,1130.0 463.2,1133.1 465.0,1136.1 466.8,1139.2 468.5,1142.3 470.3,1145.4 472.0,1148.6 473.8,1151.8 475.6,1155.0 476.0,1152.9 476.5,1147.2 476.9,1139.3 477.4,1131.5 477.8,1125.7 478.3,1123.6 480.0,1126.7 481.8,1129.8 483.5,1133.0 485.3,1136.2 487.1,1139.5 488.8,1142.7 490.6,1146.0 492.3,1149.4 494.1,1152.7 495.8,1156.1 496.3,1153.9 496.7,1147.9 497.2,1139.6 497.6,1131.3 498.1,1125.2 498.6,1123.0 500.3,1126.3 502.1,1129.6 503.8,1133.0 505.6,1136.3 507.3,1139.7 509.1,1143.2 510.9,1146.6 512.6,1150.1 514.4,1153.7 516.1,1157.2 516.6,1154.9 517.0,1148.6 517.5,1139.9 517.9,1131.2 518.4,1124.8 518.8,1122.4 520.6,1125.9 522.4,1129.4 524.1,1132.9 525.9,1136.4 527.6,1140.0 529.4,1143.6 531.2,1147.3 532.9,1150.9 534.7,1154.6 536.4,1158.3 536.9,1155.9 537.3,1149.3 537.8,1140.2 538.2,1131.0 538.7,1124.3 539.1,1121.9 540.9,1125.5 542.7,1129.2 544.4,1132.8 546.2,1136.6 547.9,1140.3 549.7,1144.1 551.5,1147.9 553.2,1151.7 555.0,1155.6 556.7,1159.5 557.2,1156.9 557.6,1150.0 558.1,1140.4 558.5,1130.9 559.0,1123.8 559.4,1121.3 561.2,1125.1 563.0,1128.9 564.7,1132.7 566.5,1136.6 568.2,1140.5 570.0,1144.5 571.7,1148.5 573.5,1152.5 575.3,1156.5 577.0,1160.6 577.5,1158.0 577.9,1150.7 578.4,1140.6 578.8,1130.6 579.3,1123.3 579.7,1120.5 581.5,1124.5 583.2,1128.5 585.0,1132.6 586.8,1136.6 588.5,1140.8 590.3,1144.9 592.0,1149.1 593.8,1153.3 595.6,1157.5 597.3,1161.8 597.8,1159.0 598.2,1151.3 598.7,1140.9 599.1,1130.4 599.6,1122.7 600.0,1119.8 601.8,1124.0 603.5,1128.2 605.3,1132.4 607.1,1136.7 608.8,1141.0 610.6,1145.3 612.3,1149.6 614.1,1154.0 615.9,1158.5 617.6,1162.9 618.1,1160.0 618.5,1152.0 619.0,1141.1 619.4,1130.1 619.9,1122.1 620.3,1119.1 622.1,1123.5 623.8,1127.8 625.6,1132.3 627.4,1136.7 629.1,1141.2 630.9,1145.7 632.6,1150.2 634.4,1154.8 636.2,1159.4 637.9,1164.1 638.4,1161.0 638.8,1152.7 639.3,1141.3 639.7,1129.9 640.2,1121.5 640.6,1118.4 642.4,1122.9 644.1,1127.5 645.9,1132.1 647.7,1136.7 649.4,1141.4 651.2,1146.1 652.9,1150.8 654.7,1155.6 656.4,1160.4 658.2,1165.2 658.7,1162.0 659.1,1153.4 659.6,1141.5 660.0,1129.6 660.5,1120.9 660.9,1117.7 662.7,1122.4 664.4,1127.1 666.2,1131.9 667.9,1136.7 669.7,1141.6 671.5,1146.4 673.2,1151.3 675.0,1156.2 676.7,1161.2 678.5,1166.2 679.0,1162.9 679.4,1153.9 679.9,1141.6 680.3,1129.3 680.8,1120.3 681.2,1117.0 683.0,1121.9 684.7,1126.8 686.5,1131.7 688.2,1136.7 690.0,1141.7 691.8,1146.7 693.5,1151.8 695.3,1156.9 697.0,1162.0 698.8,1167.2 699.2,1163.8 699.7,1154.5 700.1,1141.8 700.6,1129.0 701.1,1119.7 701.5,1116.3 703.3,1121.3 705.0,1126.4 706.8,1131.5 708.5,1136.7 710.3,1141.8 712.1,1147.1 713.8,1152.3 715.6,1157.6 717.3,1162.9 719.1,1168.2 719.5,1164.7 720.0,1155.1 720.4,1141.9 720.9,1128.7 721.3,1119.1 721.8,1115.5 723.6,1120.8 725.3,1126.0 727.1,1131.3 728.8,1136.6 730.6,1142.0 732.3,1147.4 734.1,1152.8 735.9,1158.2 737.6,1163.7 739.4,1169.2 739.8,1165.6 740.3,1155.6 740.7,1142.1 741.2,1128.5 741.6,1118.5 742.1,1114.8 743.9,1120.2 745.6,1125.7 747.4,1131.1 749.1,1136.6 750.9,1142.1 752.6,1147.7 754.4,1153.3 756.2,1158.9 757.9,1164.5 759.7,1170.2 760.1,1166.4 760.6,1156.2 761.0,1142.2 761.5,1128.2 761.9,1117.9 762.4,1114.1 764.1,1119.7 765.9,1125.3 767.7,1130.9 769.4,1136.5 771.2,1142.2 772.9,1148.0 774.7,1153.7 776.5,1159.5 778.2,1165.3 780.0,1171.1 780.4,1167.3 780.9,1156.7 781.3,1142.3 781.8,1127.8 782.2,1117.2 782.7,1113.3 784.4,1119.0 786.2,1124.8 788.0,1130.6 789.7,1136.4 791.5,1142.3 793.2,1148.2 795.0,1154.1 796.8,1160.1 798.5,1166.1 800.3,1172.1 800.7,1168.1 801.2,1157.3 801.6,1142.4 802.1,1127.4 802.5,1116.5 803.0,1112.5 804.7,1118.4 806.5,1124.4 808.3,1130.3 810.0,1136.4 811.8,1142.4 813.5,1148.5 815.3,1154.6 817.0,1160.7 818.8,1166.9 820.6,1173.1 821.0,1169.0 821.5,1157.8 821.9,1142.4 822.4,1127.1 822.8,1115.8 823.3,1111.7 825.0,1117.8 826.8,1123.9 828.5,1130.1 830.3,1136.3 832.1,1142.5 833.8,1148.7 835.6,1155.0 837.3,1161.3 839.1,1167.7 840.9,1174.0 841.3,1169.8 841.8,1158.3 842.2,1142.5 842.7,1126.7 843.1,1115.1 843.6,1110.9 845.3,1117.1 847.1,1123.5" fill="none" stroke="#1A6FDF" stroke-width="3" stroke-linejoin="round" stroke-linecap="round"/>
<polyline points="171.1,1180.1 171.6,1175.4 172.0,1166.3 172.5,1155.6 172.9,1144.9 173.4,1135.9 173.8,1130.0 174.3,1127.9 174.6,1133.5 175.0,1138.8 175.4,1143.7 175.7,1148.2 176.1,1152.4 176.4,1156.3 176.8,1160.0 177.1,1163.4 177.5,1166.5 177.9,1169.5 178.2,1172.2 178.6,1174.7 178.9,1177.1 179.3,1179.3 179.6,1181.3 180.0,1183.2 180.4,1185.0 180.7,1186.6 181.1,1188.1 181.4,1189.6 181.8,1190.9 182.1,1192.1 182.5,1193.2 182.9,1194.3 183.9,1197.0 185.0,1199.2 186.1,1201.0 187.1,1202.4 188.2,1203.6 189.3,1204.5 190.3,1205.3 191.4,1205.9 191.7,1198.9 192.1,1185.6 192.4,1169.7 192.7,1153.9 193.0,1140.6 193.4,1131.8 193.7,1128.8 194.1,1134.0 194.4,1139.0 194.8,1143.6 195.2,1147.9 195.6,1152.0 195.9,1155.8 196.3,1159.4 196.7,1162.8 197.1,1166.0 197.4,1168.9 197.8,1171.7 198.2,1174.3 198.6,1176.8 198.9,1179.1 199.3,1181.3 199.7,1183.3 200.1,1185.2 200.4,1187.0 200.8,1188.7 201.2,1190.2 201.6,1191.7 201.9,1193.1 202.3,1194.4 202.7,1195.6 203.8,1198.9 205.0,1201.5 206.1,1203.8 207.2,1205.6 208.3,1207.1 209.5,1208.3 210.6,1209.4 211.7,1210.2 212.0,1202.9 212.4,1188.8 212.7,1171.9 213.0,1155.2 213.3,1141.2 213.6,1131.9 214.0,1128.6 214.3,1133.9 214.7,1138.9 215.1,1143.6 215.5,1148.1 215.8,1152.4 216.2,1156.4 216.6,1160.2 217.0,1163.9 217.4,1167.3 217.7,1170.5 218.1,1173.6 218.5,1176.5 218.9,1179.3 219.2,1181.9 219.6,1184.4 220.0,1186.7 220.4,1189.0 220.7,1191.1 221.1,1193.1 221.5,1195.0 221.9,1196.8 222.2,1198.5 222.6,1200.1 223.0,1201.6 224.1,1205.7 225.2,1209.2 226.4,1212.2 227.5,1214.7 228.6,1216.8 229.8,1218.7 230.9,1220.2 232.0,1221.5 232.3,1213.1 232.7,1197.1 233.0,1177.8 233.3,1158.7 233.6,1142.8 233.9,1132.2 234.3,1128.5 234.6,1133.8 235.0,1138.9 235.4,1143.8 235.8,1148.5 236.1,1152.9 236.5,1157.2 236.9,1161.3 237.3,1165.2 237.6,1168.9 238.0,1172.5 238.4,1175.9 238.8,1179.2 239.2,1182.3 239.5,1185.3 239.9,1188.2 240.3,1190.9 240.7,1193.5 241.0,1196.0 241.4,1198.4 241.8,1200.7 242.2,1202.9 242.5,1205.0 242.9,1207.0 243.3,1208.9 244.4,1214.1 245.5,1218.7 246.7,1222.7 247.8,1226.2 248.9,1229.3 250.1,1232.0 251.2,1234.3 252.3,1236.4 252.6,1226.6 252.9,1208.0 253.3,1185.6 253.6,1163.5 253.9,1144.9 254.2,1132.6 254.6,1128.3 254.9,1134.3 255.3,1140.0 255.7,1145.5 256.1,1150.8 256.4,1155.9 256.8,1160.7 257.2,1165.3 257.6,1169.8 257.9,1174.0 258.3,1178.1 258.7,1182.0 259.1,1185.8 259.4,1189.3 259.8,1192.8 260.2,1196.1 260.6,1199.2 260.9,1202.2 261.3,1205.1 261.7,1207.9 262.1,1210.5 262.5,1213.1 262.8,1215.5 263.2,1217.9 263.6,1220.1 264.7,1226.2 265.8,1231.7 267.0,1236.4 268.1,1240.6 269.2,1244.3 270.3,1247.5 271.5,1250.4 272.6,1252.9 272.9,1241.6 273.2,1220.1 273.6,1194.3 273.9,1168.7 274.2,1147.3 274.5,1133.1 274.9,1128.1 275.2,1135.3 275.6,1142.1 276.0,1148.6 276.4,1154.9 276.7,1160.8 277.1,1166.5 277.5,1172.0 277.9,1177.2 278.2,1182.2 278.6,1186.9 279.0,1191.5 279.4,1195.9 279.7,1200.0 280.1,1204.0 280.5,1207.8 280.9,1211.5 281.2,1215.0 281.6,1218.3 282.0,1221.5 282.4,1224.5 282.7,1227.4 283.1,1230.2 283.5,1232.9 283.9,1235.4 285.0,1242.4 286.1,1248.5 287.3,1253.9 288.4,1258.5 289.5,1262.6 290.6,1266.2 291.8,1269.3 292.9,1272.0 293.2,1259.0 293.5,1234.2 293.9,1204.4 294.2,1174.9 294.5,1150.1 294.8,1133.7 295.2,1128.0 295.5,1136.5 295.9,1144.7 296.3,1152.4 296.7,1159.7 297.0,1166.6 297.4,1173.1 297.8,1179.4 298.2,1185.2 298.5,1190.8 298.9,1196.1 299.3,1201.1 299.7,1205.9 300.0,1210.4 300.4,1214.7 300.8,1218.7 301.2,1222.6 301.5,1226.2 301.9,1229.7 302.3,1232.9 302.7,1236.0 303.0,1239.0 303.4,1241.8 303.8,1244.4 304.2,1246.9 305.3,1253.6 306.4,1259.4 307.6,1264.3 308.7,1268.5 309.8,1272.0 310.9,1275.0 312.1,1277.6 313.2,1279.8 313.5,1266.1 313.8,1239.9 314.2,1208.4 314.5,1177.3 314.8,1151.2 315.1,1133.9 315.4,1127.8 315.8,1138.5 316.2,1148.4 316.6,1157.6 316.9,1166.2 317.3,1174.3 317.7,1181.8 318.1,1188.7 318.5,1195.2 318.8,1201.3 319.2,1206.9 319.6,1212.2 320.0,1217.1 320.3,1221.7 320.7,1225.9 321.1,1229.9 321.5,1233.6 321.8,1237.1 322.2,1240.3 322.6,1243.3 323.0,1246.1 323.3,1248.7 323.7,1251.1 324.1,1253.4 324.5,1255.5 325.6,1261.0 326.7,1265.4 327.8,1269.0 329.0,1272.0 330.1,1274.3 331.2,1276.2 332.4,1277.8 333.5,1279.1 333.8,1265.4 334.1,1239.2 334.5,1208.0 334.8,1176.9 335.1,1150.9 335.4,1133.7 335.7,1127.6 336.1,1140.1 336.5,1151.6 336.9,1162.1 337.2,1171.7 337.6,1180.6 338.0,1188.7 338.4,1196.1 338.7,1202.9 339.1,1209.2 339.5,1214.9 339.9,1220.2 340.3,1225.1 340.6,1229.5 341.0,1233.6 341.4,1237.4 341.8,1240.8 342.1,1244.0 342.5,1246.9 342.9,1249.5 343.3,1252.0 343.6,1254.2 344.0,1256.2 344.4,1258.0 344.8,1259.7 345.9,1263.9 347.0,1267.1 348.1,1269.5 349.3,1271.4 350.4,1272.9 351.5,1274.0 352.7,1274.8 353.8,1275.5 354.1,1262.1 354.4,1236.6 354.7,1206.0 355.1,1175.7 355.4,1150.2 355.7,1133.4 356.0,1127.5 356.4,1141.3 356.8,1153.8 357.2,1165.2 357.5,1175.5 357.9,1184.8 358.3,1193.2 358.7,1200.9 359.0,1207.9 359.4,1214.2 359.8,1220.0 360.2,1225.3 360.5,1230.1 360.9,1234.5 361.3,1238.6 361.7,1242.3 362.0,1245.6 362.4,1248.7 362.8,1251.4 363.2,1253.9 363.6,1256.1 363.9,1258.0 364.3,1259.7 364.7,1261.2 365.1,1262.4 366.2,1265.4 367.3,1267.4 368.4,1268.9 369.6,1269.9 370.7,1270.7 371.8,1271.2 372.9,1271.6 374.1,1271.9 374.4,1258.8 374.7,1233.9 375.0,1204.0 375.4,1174.4 375.7,1149.5 376.0,1133.1 376.3,1127.3 376.7,1142.1 377.1,1155.3 377.5,1167.2 377.8,1177.8 378.2,1187.3 378.6,1195.9 379.0,1203.6 379.3,1210.6 379.7,1217.0 380.1,1222.7 380.5,1227.9 380.8,1232.7 381.2,1237.1 381.6,1241.1 382.0,1244.7 382.3,1248.0 382.7,1251.0 383.1,1253.7 383.5,1256.0 383.8,1258.1 384.2,1259.8 384.6,1261.2 385.0,1262.4 385.4,1263.4 386.5,1265.5 387.6,1266.7 388.7,1267.6 389.9,1268.1 391.0,1268.5 392.1,1268.7 393.2,1268.9 394.4,1269.0 394.7,1256.2 395.0,1231.7 395.3,1202.4 395.7,1173.3 396.0,1149.0 396.3,1132.8 396.6,1127.2 397.0,1142.4 397.4,1155.9 397.8,1167.8 398.1,1178.4 398.5,1187.9 398.9,1196.4 399.3,1204.0 399.6,1210.9 400.0,1217.1 400.4,1222.8 400.8,1228.0 401.1,1232.7 401.5,1237.0 401.9,1241.0 402.3,1244.7 402.6,1248.0 403.0,1251.0 403.4,1253.6 403.8,1255.8 404.1,1257.7 404.5,1259.3 404.9,1260.5 405.3,1261.4 405.6,1262.2 406.8,1263.6 407.9,1264.4 409.0,1264.9 410.2,1265.1 411.3,1265.3 412.4,1265.4 413.5,1265.4 414.7,1265.5 415.0,1252.9 415.3,1228.8 415.6,1200.1 416.0,1171.5 416.3,1147.6 416.6,1131.7 416.9,1126.2 417.3,1141.3 417.7,1154.6 418.0,1166.4 418.4,1176.9 418.8,1186.3 419.2,1194.8 419.6,1202.3 419.9,1209.2 420.3,1215.5 420.7,1221.2 421.1,1226.5 421.4,1231.3 421.8,1235.8 422.2,1239.8 422.6,1243.6 422.9,1246.9 423.3,1249.8 423.7,1252.3 424.1,1254.4 424.4,1256.0 424.8,1257.3 425.2,1258.3 425.6,1259.0 425.9,1259.6 427.1,1260.6 428.2,1261.2 429.3,1261.5 430.5,1261.7 431.6,1261.8 432.7,1261.8 433.8,1261.8 435.0,1261.8 435.3,1249.5 435.6,1225.9 435.9,1197.7 436.2,1169.7 436.6,1146.2 436.9,1130.7 437.2,1125.2 437.6,1140.1 438.0,1153.2 438.3,1164.9 438.7,1175.3 439.1,1184.6 439.5,1193.0 439.8,1200.6 440.2,1207.6 440.6,1213.9 441.0,1219.8 441.3,1225.1 441.7,1230.1 442.1,1234.7 442.5,1238.9 442.9,1242.6 443.2,1245.9 443.6,1248.7 444.0,1250.9 444.4,1252.7 444.7,1254.0 445.1,1255.0 445.5,1255.7 445.9,1256.3 446.2,1256.7 447.4,1257.5 448.5,1257.9 449.6,1258.1 450.7,1258.2 451.9,1258.2 453.0,1258.2 454.1,1258.2 455.3,1258.2 455.6,1246.1 455.9,1223.0 456.2,1195.3 456.5,1167.9 456.9,1144.8 457.2,1129.6 457.5,1124.3 457.9,1138.9 458.3,1151.9 458.6,1163.4 459.0,1173.7 459.4,1183.0 459.8,1191.5 460.1,1199.1 460.5,1206.2 460.9,1212.7 461.3,1218.7 461.6,1224.3 462.0,1229.4 462.4,1234.1 462.8,1238.4 463.1,1242.1 463.5,1245.2 463.9,1247.7 464.3,1249.7 464.7,1251.1 465.0,1252.1 465.4,1252.9 465.8,1253.4 466.2,1253.8 466.5,1254.1 467.7,1254.7 468.8,1254.9 469.9,1255.1 471.0,1255.1 472.2,1255.1 473.3,1255.1 474.4,1255.1 475.6,1255.0 475.9,1243.1 476.2,1220.4 476.5,1193.1 476.8,1166.1 477.2,1143.4 477.5,1128.4 477.8,1123.2 478.2,1137.6 478.6,1150.5 478.9,1161.9 479.3,1172.2 479.7,1181.5 480.1,1190.0 480.4,1197.9 480.8,1205.1 481.2,1211.8 481.6,1218.0 481.9,1223.8 482.3,1229.2 482.7,1234.0 483.1,1238.3 483.4,1241.9 483.8,1244.8 484.2,1247.0 484.6,1248.6 484.9,1249.7 485.3,1250.5 485.7,1251.1 486.1,1251.5 486.4,1251.8 486.8,1252.0 488.0,1252.4 489.1,1252.6 490.2,1252.6 491.3,1252.7 492.5,1252.6 493.6,1252.6 494.7,1252.5 495.8,1252.5 496.2,1240.7 496.5,1218.2 496.8,1191.2 497.1,1164.5 497.5,1142.1 497.8,1127.3 498.1,1122.1 498.5,1136.3 498.9,1148.9 499.2,1160.3 499.6,1170.6 500.0,1180.0 500.4,1188.6 500.7,1196.6 501.1,1204.0 501.5,1211.0 501.9,1217.5 502.2,1223.5 502.6,1229.0 503.0,1233.9 503.4,1238.1 503.7,1241.5 504.1,1244.1 504.5,1246.0 504.9,1247.3 505.2,1248.2 505.6,1248.8 506.0,1249.2 506.4,1249.5 506.7,1249.7 507.1,1249.8 508.2,1250.1 509.4,1250.2 510.5,1250.2 511.6,1250.2 512.8,1250.1 513.9,1250.1 515.0,1250.0 516.1,1249.9 516.5,1238.3 516.8,1216.0 517.1,1189.4 517.4,1162.9 517.8,1140.8 518.1,1126.1 518.4,1120.9 518.8,1134.9 519.2,1147.4 519.5,1158.7 519.9,1169.0 520.3,1178.4 520.7,1187.2 521.0,1195.4 521.4,1203.1 521.8,1210.3 522.2,1217.0 522.5,1223.3 522.9,1228.9 523.3,1233.8 523.7,1237.8 524.0,1240.9 524.4,1243.1 524.8,1244.6 525.2,1245.6 525.5,1246.3 525.9,1246.7 526.3,1247.0 526.7,1247.3 527.0,1247.4 527.4,1247.5 528.5,1247.7 529.7,1247.7 530.8,1247.7 531.9,1247.7 533.1,1247.6 534.2,1247.5 535.3,1247.5 536.4,1247.4 536.8,1235.9 537.1,1213.8 537.4,1187.5 537.8,1161.3 538.1,1139.4 538.4,1124.9 538.7,1119.8 539.1,1133.4 539.5,1145.8 539.9,1157.0 540.2,1167.3 540.6,1176.9 541.0,1185.9 541.4,1194.3 541.7,1202.2 542.1,1209.7 542.5,1216.6 542.9,1223.0 543.2,1228.6 543.6,1233.4 544.0,1237.1 544.4,1239.8 544.7,1241.7 545.1,1242.9 545.5,1243.7 545.9,1244.2 546.2,1244.6 546.6,1244.8 547.0,1245.0 547.4,1245.1 547.7,1245.2 548.9,1245.3 550.0,1245.3 551.1,1245.3 552.2,1245.2 553.4,1245.1 554.5,1245.1 555.6,1245.0 556.7,1244.9 557.1,1233.5 557.4,1211.7 557.7,1185.6 558.1,1159.8 558.4,1138.1 558.7,1123.7 559.1,1118.7 559.5,1132.1 559.8,1144.3 560.2,1155.5 560.6,1166.0 560.9,1175.7 561.3,1184.9 561.7,1193.5 562.1,1201.7 562.4,1209.4 562.8,1216.6 563.2,1223.1 563.6,1228.7 563.9,1233.2 564.3,1236.6 564.7,1239.0 565.1,1240.6 565.4,1241.5 565.8,1242.2 566.2,1242.6 566.6,1242.8 566.9,1243.0 567.3,1243.2 567.7,1243.2 568.1,1243.3 569.2,1243.4 570.3,1243.4 571.4,1243.3 572.5,1243.3 573.7,1243.2 574.8,1243.1 575.9,1243.0 577.0,1242.9 577.4,1231.6 577.7,1210.0 578.1,1184.1 578.4,1158.4 578.7,1136.9 579.1,1122.7 579.4,1117.7 579.8,1130.9 580.2,1143.0 580.5,1154.2 580.9,1164.7 581.3,1174.6 581.7,1184.0 582.0,1193.0 582.4,1201.4 582.8,1209.4 583.1,1216.7 583.5,1223.3 583.9,1228.7 584.3,1233.0 584.6,1236.0 585.0,1238.0 585.4,1239.3 585.8,1240.1 586.1,1240.6 586.5,1240.9 586.9,1241.1 587.2,1241.2 587.6,1241.3 588.0,1241.4 588.4,1241.4 589.5,1241.5 590.6,1241.5 591.7,1241.4 592.8,1241.3 594.0,1241.2 595.1,1241.1 596.2,1241.0 597.3,1240.9 597.7,1229.7 598.0,1208.2 598.4,1182.6 598.7,1157.1 599.1,1135.8 599.4,1121.6 599.8,1116.7 600.1,1129.7 600.5,1141.7 600.9,1153.0 601.2,1163.6 601.6,1173.7 602.0,1183.4 602.4,1192.6 602.7,1201.3 603.1,1209.5 603.5,1217.0 603.8,1223.5 604.2,1228.8 604.6,1232.7 605.0,1235.3 605.3,1236.9 605.7,1238.0 606.1,1238.6 606.5,1238.9 606.8,1239.2 607.2,1239.3 607.6,1239.4 607.9,1239.5 608.3,1239.5 608.7,1239.6 609.8,1239.6 610.9,1239.5 612.0,1239.4 613.1,1239.3 614.3,1239.2 615.4,1239.1 616.5,1239.0 617.6,1238.9 618.0,1227.8 618.3,1206.5 618.7,1181.0 619.0,1155.8 619.4,1134.6 619.7,1120.6 620.1,1115.7 620.5,1128.5 620.8,1140.5 621.2,1151.8 621.6,1162.6 621.9,1172.9 622.3,1182.8 622.7,1192.3 623.1,1201.3 623.4,1209.7 623.8,1217.3 624.2,1223.7 624.5,1228.7 624.9,1232.2 625.3,1234.4 625.7,1235.7 626.0,1236.5 626.4,1237.0 626.8,1237.3 627.1,1237.4 627.5,1237.6 627.9,1237.6 628.3,1237.7 628.6,1237.7 629.0,1237.7 630.1,1237.7 631.2,1237.6 632.3,1237.5 633.5,1237.4 634.6,1237.3 635.7,1237.1 636.8,1237.0 637.9,1236.9 638.3,1225.8 638.6,1204.8 639.0,1179.5 639.3,1154.5 639.7,1133.5 640.1,1119.6 640.4,1114.7 640.8,1127.5 641.2,1139.5 641.5,1151.0 641.9,1162.0 642.3,1172.5 642.6,1182.7 643.0,1192.4 643.4,1201.7 643.8,1210.2 644.1,1217.7 644.5,1223.9 644.9,1228.4 645.2,1231.5 645.6,1233.3 646.0,1234.4 646.4,1235.0 646.7,1235.4 647.1,1235.6 647.5,1235.7 647.8,1235.8 648.2,1235.8 648.6,1235.9 648.9,1235.9 649.3,1235.9 650.4,1235.8 651.5,1235.7 652.6,1235.6 653.8,1235.5 654.9,1235.4 656.0,1235.2 657.1,1235.1 658.2,1235.0 658.6,1224.0 658.9,1203.0 659.3,1177.9 659.7,1153.1 660.0,1132.2 660.4,1118.4 660.8,1113.5 661.1,1126.4 661.5,1138.6 661.9,1150.2 662.2,1161.4 662.6,1172.2 663.0,1182.6 663.3,1192.6 663.7,1202.1 664.1,1210.7 664.5,1218.2 664.8,1224.1 665.2,1228.3 665.6,1231.0 665.9,1232.6 666.3,1233.5 666.7,1234.0 667.0,1234.2 667.4,1234.4 667.8,1234.5 668.2,1234.6 668.5,1234.6 668.9,1234.6 669.3,1234.6 669.6,1234.6 670.7,1234.5 671.8,1234.4 673.0,1234.3 674.1,1234.2 675.2,1234.0 676.3,1233.9 677.4,1233.7 678.5,1233.6 678.9,1222.6 679.2,1201.6 679.6,1176.4 680.0,1151.5 680.4,1130.6 680.7,1116.7 681.1,1111.9 681.5,1124.8 681.8,1137.1 682.2,1149.0 682.6,1160.4 682.9,1171.5 683.3,1182.2 683.7,1192.5 684.0,1202.1 684.4,1210.9 684.8,1218.4 685.2,1224.1 685.5,1228.0 685.9,1230.4 686.3,1231.7 686.6,1232.5 687.0,1232.9 687.4,1233.1 687.7,1233.2 688.1,1233.3 688.5,1233.3 688.8,1233.3 689.2,1233.3 689.6,1233.3 689.9,1233.3 691.1,1233.2 692.2,1233.1 693.3,1233.0 694.4,1232.8 695.5,1232.7 696.6,1232.5 697.7,1232.4 698.8,1232.2 699.2,1221.2 699.5,1200.2 699.9,1174.9 700.3,1149.9 700.7,1129.0 701.1,1115.1 701.4,1110.2 701.8,1123.2 702.2,1135.7 702.5,1147.8 702.9,1159.5 703.3,1170.8 703.6,1181.8 704.0,1192.3 704.4,1202.2 704.7,1211.1 705.1,1218.5 705.5,1224.0 705.8,1227.6 706.2,1229.7 706.6,1230.8 706.9,1231.4 707.3,1231.7 707.7,1231.9 708.1,1232.0 708.4,1232.1 708.8,1232.1 709.2,1232.1 709.5,1232.1 709.9,1232.1 710.3,1232.0 711.4,1231.9 712.5,1231.8 713.6,1231.7 714.7,1231.5 715.8,1231.4 716.9,1231.2 718.0,1231.0 719.1,1230.9 719.5,1219.8 719.9,1198.7 720.2,1173.5 720.6,1148.4 721.0,1127.4 721.4,1113.5 721.8,1108.6 722.1,1121.7 722.5,1134.3 722.9,1146.6 723.2,1158.5 723.6,1170.2 724.0,1181.4 724.3,1192.3 724.7,1202.4 725.1,1211.3 725.4,1218.6 725.8,1223.8 726.2,1227.1 726.5,1228.9 726.9,1229.9 727.3,1230.4 727.6,1230.6 728.0,1230.7 728.4,1230.8 728.7,1230.8 729.1,1230.9 729.5,1230.8 729.8,1230.8 730.2,1230.8 730.6,1230.8 731.7,1230.6 732.8,1230.5 733.9,1230.4 735.0,1230.2 736.1,1230.0 737.2,1229.9 738.3,1229.7 739.4,1229.5 739.8,1218.4 740.2,1197.3 740.5,1172.0 740.9,1146.8 741.3,1125.8 741.7,1111.8 742.1,1106.9 742.5,1120.1 742.8,1133.0 743.2,1145.4 743.6,1157.6 743.9,1169.5 744.3,1181.1 744.7,1192.2 745.0,1202.5 745.4,1211.5 745.8,1218.7 746.1,1223.6 746.5,1226.5 746.9,1228.1 747.2,1228.9 747.6,1229.3 748.0,1229.5 748.3,1229.6 748.7,1229.6 749.1,1229.7 749.4,1229.7 749.8,1229.6 750.2,1229.6 750.5,1229.6 750.9,1229.5 752.0,1229.4 753.1,1229.2 754.2,1229.1 755.3,1228.9 756.4,1228.7 757.5,1228.6 758.6,1228.4 759.7,1228.2 760.1,1217.1 760.5,1195.9 760.9,1170.4 761.3,1145.2 761.6,1124.1 762.0,1110.1 762.4,1105.2 762.8,1118.5 763.2,1131.5 763.5,1144.2 763.9,1156.6 764.3,1168.8 764.6,1180.7 765.0,1192.1 765.4,1202.7 765.7,1211.8 766.1,1218.8 766.5,1223.4 766.8,1226.1 767.2,1227.5 767.6,1228.2 767.9,1228.5 768.3,1228.7 768.6,1228.7 769.0,1228.8 769.4,1228.7 769.7,1228.7 770.1,1228.7 770.5,1228.7 770.8,1228.6 771.2,1228.6 772.3,1228.4 773.4,1228.3 774.5,1228.1 775.6,1227.9 776.7,1227.7 777.8,1227.5 778.9,1227.3 780.0,1227.2 780.4,1215.9 780.8,1194.5 781.2,1168.9 781.6,1143.5 782.0,1122.1 782.4,1108.0 782.8,1103.1 783.1,1116.5 783.5,1129.7 783.9,1142.6 784.2,1155.3 784.6,1167.8 785.0,1180.1 785.3,1191.8 785.7,1202.6 786.1,1211.8 786.4,1218.7 786.8,1223.2 787.1,1225.6 787.5,1226.9 787.9,1227.5 788.2,1227.7 788.6,1227.8 789.0,1227.9 789.3,1227.9 789.7,1227.8 790.1,1227.8 790.4,1227.8 790.8,1227.7 791.2,1227.7 791.5,1227.6 792.6,1227.4 793.7,1227.3 794.8,1227.1 795.9,1226.9 797.0,1226.7 798.1,1226.5 799.2,1226.3 800.3,1226.1 800.7,1214.8 801.1,1193.2 801.5,1167.4 801.9,1141.7 802.3,1120.2 802.7,1106.0 803.1,1101.0 803.5,1114.5 803.8,1127.8 804.2,1141.0 804.6,1154.0 804.9,1166.9 805.3,1179.4 805.7,1191.4 806.0,1202.5 806.4,1211.8 806.7,1218.6 807.1,1222.9 807.5,1225.1 807.8,1226.2 808.2,1226.7 808.6,1226.9 808.9,1227.0 809.3,1227.0 809.7,1227.0 810.0,1226.9 810.4,1226.9 810.7,1226.8 811.1,1226.8 811.5,1226.7 811.8,1226.7 812.9,1226.5 814.0,1226.3 815.1,1226.1 816.2,1225.9 817.3,1225.7 818.4,1225.5 819.5,1225.3 820.6,1225.1 821.0,1213.7 821.4,1191.9 821.8,1165.8 822.2,1140.0 822.6,1118.3 823.0,1103.9 823.4,1098.9 823.8,1112.5 824.2,1126.0 824.5,1139.4 824.9,1152.7 825.3,1165.9 825.6,1178.8 826.0,1191.1 826.3,1202.4 826.7,1211.8 827.1,1218.5 827.4,1222.5 827.8,1224.6 828.2,1225.5 828.5,1225.9 828.9,1226.1 829.2,1226.1 829.6,1226.1 830.0,1226.1 830.3,1226.0 830.7,1225.9 831.1,1225.9 831.4,1225.8 831.8,1225.8 832.2,1225.7 833.2,1225.5 834.3,1225.3 835.4,1225.1 836.5,1224.9 837.6,1224.7 838.7,1224.4 839.8,1224.2 840.9,1224.0 841.3,1212.5 841.7,1190.6 842.1,1164.3 842.5,1138.2 842.9,1116.3 843.4,1101.9 843.8,1096.8 844.1,1110.5 844.5,1124.2 844.9,1137.9 845.2,1151.5 845.6,1165.0 846.0,1178.2 846.3,1190.9 846.7,1202.5 847.0,1212.0 847.4,1218.8" fill="none" stroke="#37AD6B" stroke-width="3" stroke-linejoin="round" stroke-linecap="round"/>
<polyline points="171.1,1552.5 171.7,1552.5 172.2,1461.7 172.7,1321.3 173.2,1237.5 173.8,1187.5 174.3,1157.7 176.0,1122.0 177.7,1115.2 179.4,1113.7 181.1,1113.1 182.9,1112.8 184.6,1112.5 186.3,1112.1 188.0,1111.8 189.7,1111.5 191.4,1111.2 191.9,1110.9 192.5,1110.5 193.0,1109.8 193.5,1109.2 194.1,1108.6 194.6,1108.3 196.3,1107.7 198.0,1107.2 199.7,1106.6 201.4,1106.0 203.1,1105.5 204.9,1104.9 206.6,1104.3 208.3,1103.8 210.0,1103.2 211.7,1102.6 212.2,1102.3 212.8,1101.8 213.3,1101.2 213.8,1100.6 214.3,1100.1 214.9,1099.8 216.6,1099.4 218.3,1098.9 220.0,1098.5 221.7,1098.1 223.4,1097.6 225.2,1097.2 226.9,1096.8 228.6,1096.3 230.3,1095.9 232.0,1095.4 232.5,1095.1 233.1,1094.7 233.6,1094.1 234.1,1093.5 234.6,1093.1 235.2,1092.8 236.9,1092.5 238.6,1092.2 240.3,1091.8 242.0,1091.5 243.7,1091.2 245.5,1090.9 247.2,1090.5 248.9,1090.2 250.6,1089.9 252.3,1089.5 252.8,1089.3 253.4,1088.9 253.9,1088.3 254.4,1087.8 254.9,1087.4 255.5,1087.1 257.2,1086.8 258.9,1086.5 260.6,1086.1 262.3,1085.8 264.0,1085.5 265.7,1085.1 267.5,1084.8 269.2,1084.5 270.9,1084.1 272.6,1083.8 273.1,1083.5 273.7,1083.1 274.2,1082.6 274.7,1082.1 275.2,1081.7 275.8,1081.6 277.5,1081.4 279.2,1081.2 280.9,1081.1 282.6,1080.9 284.3,1080.8 286.0,1080.6 287.8,1080.5 289.5,1080.3 291.2,1080.1 292.9,1079.9 293.4,1079.8 293.9,1079.4 294.5,1079.0 295.0,1078.6 295.5,1078.2 296.1,1078.0 297.8,1077.9 299.5,1077.7 301.2,1077.5 302.9,1077.4 304.6,1077.2 306.3,1077.0 308.0,1076.8 309.8,1076.7 311.5,1076.5 313.2,1076.3 313.7,1076.1 314.2,1075.8 314.8,1075.4 315.3,1075.0 315.8,1074.7 316.3,1074.5 318.1,1074.4 319.8,1074.2 321.5,1074.1 323.2,1073.9 324.9,1073.8 326.6,1073.6 328.3,1073.5 330.1,1073.3 331.8,1073.2 333.5,1073.0 334.0,1072.8 334.5,1072.5 335.1,1072.2 335.6,1071.8 336.1,1071.5 336.6,1071.4 338.4,1071.2 340.1,1071.1 341.8,1070.9 343.5,1070.7 345.2,1070.6 346.9,1070.4 348.6,1070.2 350.4,1070.1 352.1,1069.9 353.8,1069.7 354.3,1069.6 354.8,1069.3 355.4,1069.0 355.9,1068.6 356.4,1068.4 356.9,1068.3 358.7,1068.2 360.4,1068.0 362.1,1067.9 363.8,1067.8 365.5,1067.7 367.2,1067.5 368.9,1067.4 370.6,1067.3 372.4,1067.1 374.1,1067.0 374.6,1066.9 375.1,1066.7 375.7,1066.4 376.2,1066.1 376.7,1065.9 377.2,1065.8 378.9,1065.6 380.7,1065.5 382.4,1065.4 384.1,1065.2 385.8,1065.1 387.5,1065.0 389.2,1064.8 390.9,1064.7 392.7,1064.5 394.4,1064.4 394.9,1064.3 395.4,1064.1 395.9,1063.8 396.5,1063.6 397.0,1063.4 397.5,1063.3 399.2,1063.1 401.0,1063.0 402.7,1062.9 404.4,1062.9 406.1,1062.8 407.8,1062.8 409.5,1062.7 411.2,1062.7 413.0,1062.7 414.7,1062.6 415.2,1062.5 415.7,1062.4 416.2,1062.2 416.8,1062.0 417.3,1061.8 417.8,1061.7 419.5,1061.7 421.3,1061.6 423.0,1061.6 424.7,1061.5 426.4,1061.5 428.1,1061.4 429.8,1061.4 431.5,1061.4 433.2,1061.3 435.0,1061.3 435.5,1061.2 436.0,1061.0 436.5,1060.8 437.1,1060.6 437.6,1060.5 438.1,1060.4 439.8,1060.3 441.5,1060.3 443.3,1060.3 445.0,1060.2 446.7,1060.2 448.4,1060.1 450.1,1060.1 451.8,1060.0 453.5,1060.0 455.3,1059.9 455.8,1059.8 456.3,1059.7 456.8,1059.5 457.4,1059.3 457.9,1059.1 458.4,1059.1 460.1,1059.0 461.8,1059.0 463.6,1058.9 465.3,1058.9 467.0,1058.8 468.7,1058.8 470.4,1058.7 472.1,1058.7 473.8,1058.6 475.6,1058.6 476.1,1058.5 476.6,1058.3 477.1,1058.2 477.7,1058.0 478.2,1057.8 478.7,1057.8 480.4,1057.7 482.1,1057.7 483.8,1057.6 485.6,1057.6 487.3,1057.5 489.0,1057.4 490.7,1057.4 492.4,1057.3 494.1,1057.3 495.8,1057.2 496.4,1057.1 496.9,1057.0 497.4,1056.8 498.0,1056.7 498.5,1056.5 499.0,1056.5 500.7,1056.4 502.4,1056.3 504.1,1056.3 505.9,1056.2 507.6,1056.2 509.3,1056.1 511.0,1056.1 512.7,1056.0 514.4,1055.9 516.1,1055.9 516.7,1055.8 517.2,1055.7 517.7,1055.5 518.2,1055.3 518.8,1055.2 519.3,1055.1 521.0,1055.1 522.7,1055.0 524.4,1055.0 526.2,1054.9 527.9,1054.8 529.6,1054.8 531.3,1054.7 533.0,1054.7 534.7,1054.6 536.4,1054.6 537.0,1054.5 537.5,1054.4 538.0,1054.3 538.5,1054.1 539.1,1054.0 539.6,1053.9 541.3,1053.9 543.0,1053.9 544.7,1053.8 546.4,1053.8 548.2,1053.7 549.9,1053.7 551.6,1053.7 553.3,1053.6 555.0,1053.6 556.7,1053.5 557.3,1053.5 557.8,1053.4 558.3,1053.2 558.8,1053.1 559.4,1053.0 559.9,1052.9 561.6,1052.9 563.3,1052.8 565.0,1052.8 566.7,1052.7 568.5,1052.7 570.2,1052.6 571.9,1052.6 573.6,1052.6 575.3,1052.5 577.0,1052.5 577.6,1052.4 578.1,1052.3 578.6,1052.2 579.1,1052.0 579.7,1051.9 580.2,1051.9 581.9,1051.8 583.6,1051.8 585.3,1051.7 587.0,1051.7 588.8,1051.6 590.5,1051.6 592.2,1051.5 593.9,1051.5 595.6,1051.4 597.3,1051.4 597.8,1051.3 598.4,1051.2 598.9,1051.1 599.4,1051.0 600.0,1050.9 600.5,1050.8 602.2,1050.8 603.9,1050.7 605.6,1050.7 607.3,1050.6 609.0,1050.6 610.8,1050.5 612.5,1050.5 614.2,1050.4 615.9,1050.4 617.6,1050.3 618.1,1050.3 618.7,1050.2 619.2,1050.1 619.7,1049.9 620.2,1049.8 620.8,1049.8 622.5,1049.7 624.2,1049.7 625.9,1049.6 627.6,1049.6 629.3,1049.5 631.1,1049.5 632.8,1049.4 634.5,1049.4 636.2,1049.3 637.9,1049.3 638.4,1049.2 639.0,1049.1 639.5,1049.0 640.0,1048.9 640.5,1048.8 641.1,1048.8 642.8,1048.7 644.5,1048.7 646.2,1048.6 647.9,1048.5 649.6,1048.5 651.4,1048.4 653.1,1048.4 654.8,1048.3 656.5,1048.3 658.2,1048.2 658.7,1048.2 659.3,1048.1 659.8,1048.0 660.3,1047.9 660.8,1047.8 661.4,1047.8 663.1,1047.8 664.8,1047.7 666.5,1047.7 668.2,1047.7 669.9,1047.6 671.6,1047.6 673.4,1047.5 675.1,1047.5 676.8,1047.5 678.5,1047.4 679.0,1047.4 679.6,1047.3 680.1,1047.2 680.6,1047.1 681.1,1047.1 681.7,1047.0 683.4,1047.0 685.1,1046.9 686.8,1046.9 688.5,1046.9 690.2,1046.8 691.9,1046.8 693.7,1046.7 695.4,1046.7 697.1,1046.7 698.8,1046.6 699.3,1046.6 699.8,1046.5 700.4,1046.4 700.9,1046.4 701.4,1046.3 702.0,1046.3 703.7,1046.2 705.4,1046.2 707.1,1046.1 708.8,1046.1 710.5,1046.0 712.2,1046.0 713.9,1046.0 715.7,1045.9 717.4,1045.9 719.1,1045.8 719.6,1045.8 720.1,1045.7 720.7,1045.6 721.2,1045.6 721.7,1045.5 722.2,1045.5 724.0,1045.4 725.7,1045.4 727.4,1045.3 729.1,1045.3 730.8,1045.3 732.5,1045.2 734.2,1045.2 736.0,1045.1 737.7,1045.1 739.4,1045.0 739.9,1045.0 740.4,1044.9 741.0,1044.9 741.5,1044.8 742.0,1044.7 742.5,1044.7 744.3,1044.7 746.0,1044.6 747.7,1044.6 749.4,1044.5 751.1,1044.5 752.8,1044.4 754.5,1044.4 756.3,1044.3 758.0,1044.3 759.7,1044.2 760.2,1044.2 760.7,1044.2 761.3,1044.1 761.8,1044.1 762.3,1044.0 762.8,1044.0 764.6,1043.9 766.3,1043.9 768.0,1043.9 769.7,1043.8 771.4,1043.8 773.1,1043.7 774.8,1043.7 776.5,1043.7 778.3,1043.6 780.0,1043.6 780.5,1043.5 781.0,1043.5 781.6,1043.5 782.1,1043.4 782.6,1043.4 783.1,1043.4 784.8,1043.3 786.6,1043.3 788.3,1043.2 790.0,1043.2 791.7,1043.1 793.4,1043.1 795.1,1043.0 796.8,1043.0 798.6,1043.0 800.3,1042.9 800.8,1042.9 801.3,1042.9 801.8,1042.8 802.4,1042.8 802.9,1042.8 803.4,1042.7 805.1,1042.7 806.9,1042.6 808.6,1042.6 810.3,1042.5 812.0,1042.5 813.7,1042.4 815.4,1042.4 817.1,1042.3 818.9,1042.3 820.6,1042.2 821.1,1042.2 821.6,1042.2 822.1,1042.2 822.7,1042.1 823.2,1042.1 823.7,1042.1 825.4,1042.1 827.2,1042.0 828.9,1042.0 830.6,1041.9 832.3,1041.9 834.0,1041.8 835.7,1041.7 837.4,1041.7 839.1,1041.6 840.9,1041.6 841.4,1041.6 841.9,1041.5 842.4,1041.5 843.0,1041.5 843.5,1041.5 844.0,1041.5 845.7,1041.4" fill="none" stroke="#B177DE" stroke-width="3" stroke-linejoin="round" stroke-linecap="round"/>
<polyline points="171.1,1528.2 171.6,1528.2 172.0,1528.2 172.5,1522.2 172.9,1515.5 173.4,1508.4 173.8,1500.7 175.6,1459.7 177.3,1417.0 179.1,1401.9 180.9,1392.4 182.6,1385.2 184.4,1378.3 186.1,1372.1 187.9,1367.1 189.7,1361.1 191.4,1351.1 191.9,1344.9 192.3,1337.0 192.8,1329.5 193.2,1324.2 193.7,1322.5 194.1,1321.4 195.9,1317.9 197.6,1315.5 199.4,1313.9 201.2,1312.9 202.9,1312.1 204.7,1311.3 206.4,1310.2 208.2,1308.5 210.0,1306.1 211.7,1302.3 212.2,1299.6 212.6,1296.0 213.1,1292.5 213.5,1290.1 214.0,1289.1 214.4,1288.5 216.2,1286.6 217.9,1285.2 219.7,1284.2 221.5,1283.5 223.2,1283.0 225.0,1282.5 226.7,1281.8 228.5,1280.9 230.3,1279.6 232.0,1277.7 232.5,1276.7 232.9,1275.4 233.4,1273.9 233.8,1272.4 234.3,1271.1 234.7,1270.0 236.5,1268.6 238.2,1267.6 240.0,1266.9 241.8,1266.4 243.5,1265.9 245.3,1265.5 247.0,1265.2 248.8,1264.8 250.5,1264.3 252.3,1263.6 252.8,1263.4 253.2,1263.3 253.7,1263.1 254.1,1262.9 254.6,1262.7 255.0,1262.5 256.8,1261.7 258.5,1260.9 260.3,1260.0 262.0,1259.1 263.8,1258.2 265.6,1257.3 267.3,1256.4 269.1,1255.5 270.8,1254.6 272.6,1253.7 273.1,1253.4 273.5,1253.2 274.0,1253.0 274.4,1252.7 274.9,1252.5 275.3,1252.3 277.1,1251.4 278.8,1250.5 280.6,1249.6 282.3,1248.6 284.1,1247.7 285.9,1246.8 287.6,1245.9 289.4,1245.1 291.1,1244.2 292.9,1243.5 293.3,1243.3 293.8,1243.1 294.2,1242.9 294.7,1242.7 295.2,1242.5 295.6,1242.4 297.4,1241.7 299.1,1241.1 300.9,1240.5 302.6,1239.9 304.4,1239.3 306.2,1238.7 307.9,1238.2 309.7,1237.7 311.4,1237.2 313.2,1236.7 313.6,1236.6 314.1,1236.5 314.5,1236.4 315.0,1236.2 315.4,1236.1 315.9,1236.0 317.7,1235.6 319.4,1235.1 321.2,1234.7 322.9,1234.3 324.7,1234.0 326.4,1233.6 328.2,1233.2 330.0,1232.9 331.7,1232.5 333.5,1232.2 333.9,1232.1 334.4,1232.0 334.8,1231.8 335.3,1231.7 335.7,1231.6 336.2,1231.4 338.0,1231.1 339.7,1230.8 341.5,1230.5 343.2,1230.2 345.0,1229.9 346.7,1229.6 348.5,1229.3 350.3,1229.1 352.0,1228.8 353.8,1228.5 354.2,1228.4 354.7,1228.3 355.1,1228.1 355.6,1227.9 356.0,1227.8 356.5,1227.7 358.2,1227.4 360.0,1227.1 361.8,1226.8 363.5,1226.5 365.3,1226.2 367.0,1226.0 368.8,1225.7 370.6,1225.4 372.3,1225.2 374.1,1224.9 374.5,1224.8 375.0,1224.6 375.4,1224.4 375.9,1224.2 376.3,1224.0 376.8,1223.9 378.5,1223.7 380.3,1223.4 382.1,1223.2 383.8,1223.0 385.6,1222.8 387.3,1222.6 389.1,1222.5 390.9,1222.3 392.6,1222.2 394.4,1222.1 394.8,1222.0 395.3,1221.8 395.7,1221.6 396.2,1221.4 396.6,1221.2 397.1,1221.1 398.8,1221.0 400.6,1220.9 402.4,1220.9 404.1,1220.8 405.9,1220.7 407.6,1220.7 409.4,1220.6 411.1,1220.6 412.9,1220.5 414.7,1220.5 415.1,1220.4 415.6,1220.2 416.0,1220.0 416.5,1219.8 416.9,1219.6 417.4,1219.5 419.1,1219.5 420.9,1219.5 422.6,1219.5 424.4,1219.4 426.2,1219.4 427.9,1219.4 429.7,1219.4 431.4,1219.4 433.2,1219.4 435.0,1219.4 435.4,1219.3 435.9,1219.1 436.3,1218.9 436.8,1218.7 437.2,1218.5 437.7,1218.4 439.4,1218.4 441.2,1218.4 442.9,1218.4 444.7,1218.5 446.5,1218.5 448.2,1218.5 450.0,1218.5 451.7,1218.5 453.5,1218.6 455.3,1218.6 455.7,1218.5 456.2,1218.3 456.6,1218.1 457.1,1217.8 457.5,1217.7 458.0,1217.6 459.7,1217.6 461.5,1217.6 463.2,1217.7 465.0,1217.7 466.8,1217.7 468.5,1217.8 470.3,1217.8 472.0,1217.9 473.8,1217.9 475.6,1218.0 476.0,1217.9 476.5,1217.7 476.9,1217.5 477.4,1217.2 477.8,1217.0 478.3,1216.9 480.0,1217.0 481.8,1217.0 483.5,1217.1 485.3,1217.2 487.1,1217.2 488.8,1217.3 490.6,1217.4 492.3,1217.4 494.1,1217.5 495.8,1217.6 496.3,1217.5 496.7,1217.3 497.2,1217.1 497.6,1216.8 498.1,1216.6 498.6,1216.5 500.3,1216.6 502.1,1216.7 503.8,1216.7 505.6,1216.8 507.3,1216.9 509.1,1217.0 510.9,1217.0 512.6,1217.1 514.4,1217.2 516.1,1217.3 516.6,1217.2 517.0,1217.0 517.5,1216.7 517.9,1216.4 518.4,1216.2 518.8,1216.2 520.6,1216.2 522.4,1216.3 524.1,1216.4 525.9,1216.5 527.6,1216.6 529.4,1216.7 531.2,1216.8 532.9,1216.9 534.7,1217.0 536.4,1217.1 536.9,1217.0 537.3,1216.8 537.8,1216.5 538.2,1216.3 538.7,1216.0 539.1,1216.0 540.9,1216.1 542.7,1216.2 544.4,1216.3 546.2,1216.4 547.9,1216.6 549.7,1216.7 551.5,1216.8 553.2,1217.0 555.0,1217.1 556.7,1217.3 557.2,1217.2 557.6,1217.0 558.1,1216.8 558.5,1216.5 559.0,1216.3 559.4,1216.2 561.2,1216.4 563.0,1216.6 564.7,1216.7 566.5,1216.9 568.2,1217.1 570.0,1217.3 571.7,1217.5 573.5,1217.7 575.3,1217.9 577.0,1218.1 577.5,1218.1 577.9,1217.9 578.4,1217.6 578.8,1217.3 579.3,1217.1 579.7,1217.1 581.5,1217.3 583.2,1217.5 585.0,1217.7 586.8,1217.9 588.5,1218.1 590.3,1218.3 592.0,1218.6 593.8,1218.8 595.6,1219.0 597.3,1219.2 597.8,1219.1 598.2,1218.9 598.7,1218.6 599.1,1218.4 599.6,1218.1 600.0,1218.1 601.8,1218.3 603.5,1218.5 605.3,1218.8 607.1,1219.0 608.8,1219.2 610.6,1219.5 612.3,1219.7 614.1,1220.0 615.9,1220.2 617.6,1220.5 618.1,1220.4 618.5,1220.2 619.0,1219.9 619.4,1219.6 619.9,1219.4 620.3,1219.4 622.1,1219.6 623.8,1219.9 625.6,1220.2 627.4,1220.4 629.1,1220.7 630.9,1221.0 632.6,1221.2 634.4,1221.5 636.2,1221.7 637.9,1222.0 638.4,1221.9 638.8,1221.7 639.3,1221.4 639.7,1221.1 640.2,1220.9 640.6,1220.9 642.4,1221.1 644.1,1221.4 645.9,1221.7 647.7,1221.9 649.4,1222.2 651.2,1222.5 652.9,1222.8 654.7,1223.0 656.4,1223.3 658.2,1223.6 658.7,1223.5 659.1,1223.3 659.6,1223.0 660.0,1222.7 660.5,1222.5 660.9,1222.4 662.7,1222.7 664.4,1223.0 666.2,1223.3 667.9,1223.6 669.7,1223.9 671.5,1224.2 673.2,1224.6 675.0,1224.9 676.7,1225.2 678.5,1225.5 679.0,1225.5 679.4,1225.3 679.9,1224.9 680.3,1224.6 680.8,1224.4 681.2,1224.4 683.0,1224.7 684.7,1225.0 686.5,1225.4 688.2,1225.7 690.0,1226.0 691.8,1226.4 693.5,1226.7 695.3,1227.1 697.0,1227.4 698.8,1227.8 699.2,1227.7 699.7,1227.5 700.1,1227.2 700.6,1226.9 701.1,1226.7 701.5,1226.6 703.3,1227.0 705.0,1227.4 706.8,1227.7 708.5,1228.1 710.3,1228.4 712.1,1228.8 713.8,1229.2 715.6,1229.5 717.3,1229.9 719.1,1230.3 719.5,1230.2 720.0,1230.0 720.4,1229.7 720.9,1229.4 721.3,1229.2 721.8,1229.1 723.6,1229.5 725.3,1229.9 727.1,1230.2 728.8,1230.6 730.6,1231.0 732.3,1231.4 734.1,1231.8 735.9,1232.1 737.6,1232.5 739.4,1232.9 739.8,1232.9 740.3,1232.6 740.7,1232.3 741.2,1232.0 741.6,1231.7 742.1,1231.7 743.9,1232.1 745.6,1232.5 747.4,1232.8 749.1,1233.2 750.9,1233.6 752.6,1234.0 754.4,1234.4 756.2,1234.8 757.9,1235.1 759.7,1235.5 760.1,1235.5 760.6,1235.2 761.0,1234.9 761.5,1234.5 761.9,1234.3 762.4,1234.3 764.1,1234.6 765.9,1235.0 767.7,1235.4 769.4,1235.8 771.2,1236.2 772.9,1236.6 774.7,1237.0 776.5,1237.4 778.2,1237.8 780.0,1238.2 780.4,1238.1 780.9,1237.9 781.3,1237.5 781.8,1237.2 782.2,1236.9 782.7,1236.9 784.4,1237.3 786.2,1237.7 788.0,1238.1 789.7,1238.4 791.5,1238.8 793.2,1239.3 795.0,1239.7 796.8,1240.1 798.5,1240.5 800.3,1240.9 800.7,1240.8 801.2,1240.6 801.6,1240.2 802.1,1239.8 802.5,1239.6 803.0,1239.5 804.7,1239.9 806.5,1240.4 808.3,1240.8 810.0,1241.2 811.8,1241.6 813.5,1242.0 815.3,1242.4 817.0,1242.8 818.8,1243.2 820.6,1243.7 821.0,1243.6 821.5,1243.4 821.9,1243.0 822.4,1242.6 822.8,1242.4 823.3,1242.3 825.0,1242.7 826.8,1243.1 828.5,1243.6 830.3,1244.0 832.1,1244.4 833.8,1244.8 835.6,1245.2 837.3,1245.7 839.1,1246.1 840.9,1246.5 841.3,1246.5 841.8,1246.2 842.2,1245.8 842.7,1245.4 843.1,1245.2 843.6,1245.1 845.3,1245.6 847.1,1246.0" fill="none" stroke="#CC9900" stroke-width="3" stroke-linejoin="round" stroke-linecap="round"/>
</g>
<g stroke="#000" stroke-width="3.3" fill="none">
<path d="M132.60 884.80H849.65M848.00 884.80V1508.50M132.60 1492.50H848.00M148.30 884.80V1492.50"/>
<path d="M132.60 1456.75H148.30M132.60 1421.01H148.30M132.60 1385.26H148.30M132.60 1349.51H148.30M132.60 1313.76H148.30M132.60 1278.02H148.30M132.60 1242.27H148.30M132.60 1206.52H148.30M132.60 1170.78H148.30M132.60 1135.03H148.30M132.60 1099.28H148.30M132.60 1063.54H148.30M132.60 1027.79H148.30M132.60 992.04H148.30M132.60 956.29H148.30M132.60 920.55H148.30M170.90 1492.50V1508.50M283.65 1492.50V1508.50M396.40 1492.50V1508.50M509.15 1492.50V1508.50M621.90 1492.50V1508.50M734.65 1492.50V1508.50M847.40 1492.50V1508.50M227.28 1492.50V1500.50M340.02 1492.50V1500.50M452.77 1492.50V1500.50M565.52 1492.50V1500.50M678.27 1492.50V1500.50M791.02 1492.50V1500.50"/>
<path d="M140.70 1481.74H148.30M140.70 1475.44H148.30M140.70 1470.98H148.30M140.70 1467.51H148.30M140.70 1464.68H148.30M140.70 1462.29H148.30M140.70 1460.22H148.30M140.70 1458.39H148.30M140.70 1445.99H148.30M140.70 1439.70H148.30M140.70 1435.23H148.30M140.70 1431.77H148.30M140.70 1428.94H148.30M140.70 1426.54H148.30M140.70 1424.47H148.30M140.70 1422.64H148.30M140.70 1410.24H148.30M140.70 1403.95H148.30M140.70 1399.48H148.30M140.70 1396.02H148.30M140.70 1393.19H148.30M140.70 1390.80H148.30M140.70 1388.72H148.30M140.70 1386.89H148.30M140.70 1374.50H148.30M140.70 1368.20H148.30M140.70 1363.74H148.30M140.70 1360.27H148.30M140.70 1357.44H148.30M140.70 1355.05H148.30M140.70 1352.98H148.30M140.70 1351.15H148.30M140.70 1338.75H148.30M140.70 1332.46H148.30M140.70 1327.99H148.30M140.70 1324.53H148.30M140.70 1321.70H148.30M140.70 1319.30H148.30M140.70 1317.23H148.30M140.70 1315.40H148.30M140.70 1303.00H148.30M140.70 1296.71H148.30M140.70 1292.24H148.30M140.70 1288.78H148.30M140.70 1285.95H148.30M140.70 1283.55H148.30M140.70 1281.48H148.30M140.70 1279.65H148.30M140.70 1267.26H148.30M140.70 1260.96H148.30M140.70 1256.50H148.30M140.70 1253.03H148.30M140.70 1250.20H148.30M140.70 1247.81H148.30M140.70 1245.73H148.30M140.70 1243.91H148.30M140.70 1231.51H148.30M140.70 1225.21H148.30M140.70 1220.75H148.30M140.70 1217.28H148.30M140.70 1214.45H148.30M140.70 1212.06H148.30M140.70 1209.99H148.30M140.70 1208.16H148.30M140.70 1195.76H148.30M140.70 1189.47H148.30M140.70 1185.00H148.30M140.70 1181.54H148.30M140.70 1178.71H148.30M140.70 1176.31H148.30M140.70 1174.24H148.30M140.70 1172.41H148.30M140.70 1160.02H148.30M140.70 1153.72H148.30M140.70 1149.25H148.30M140.70 1145.79H148.30M140.70 1142.96H148.30M140.70 1140.57H148.30M140.70 1138.49H148.30M140.70 1136.67H148.30M140.70 1124.27H148.30M140.70 1117.97H148.30M140.70 1113.51H148.30M140.70 1110.04H148.30M140.70 1107.21H148.30M140.70 1104.82H148.30M140.70 1102.75H148.30M140.70 1100.92H148.30M140.70 1088.52H148.30M140.70 1082.23H148.30M140.70 1077.76H148.30M140.70 1074.30H148.30M140.70 1071.47H148.30M140.70 1069.07H148.30M140.70 1067.00H148.30M140.70 1065.17H148.30M140.70 1052.77H148.30M140.70 1046.48H148.30M140.70 1042.01H148.30M140.70 1038.55H148.30M140.70 1035.72H148.30M140.70 1033.33H148.30M140.70 1031.25H148.30M140.70 1029.42H148.30M140.70 1017.03H148.30M140.70 1010.73H148.30M140.70 1006.27H148.30M140.70 1002.80H148.30M140.70 999.97H148.30M140.70 997.58H148.30M140.70 995.51H148.30M140.70 993.68H148.30M140.70 981.28H148.30M140.70 974.99H148.30M140.70 970.52H148.30M140.70 967.06H148.30M140.70 964.22H148.30M140.70 961.83H148.30M140.70 959.76H148.30M140.70 957.93H148.30M140.70 945.53H148.30M140.70 939.24H148.30M140.70 934.77H148.30M140.70 931.31H148.30M140.70 928.48H148.30M140.70 926.08H148.30M140.70 924.01H148.30M140.70 922.18H148.30M140.70 909.79H148.30M140.70 903.49H148.30M140.70 899.03H148.30M140.70 895.56H148.30M140.70 892.73H148.30M140.70 890.34H148.30M140.70 888.26H148.30M140.70 886.44H148.30" stroke-width="3.0"/>
</g>
<g transform="translate(70.93,1507.70) scale(0.9400,1)" font-family="Liberation Serif, serif" font-weight="bold"><text x="0.00" y="0.00" font-size="42.0">10</text><text x="41.00" y="-15.70" font-size="27.5">1</text></g>
<g transform="translate(70.54,1436.21) scale(0.9400,1)" font-family="Liberation Serif, serif" font-weight="bold"><text x="0.00" y="0.00" font-size="42.0">10</text><text x="41.00" y="-15.70" font-size="27.5">3</text></g>
<g transform="translate(70.54,1364.71) scale(0.9400,1)" font-family="Liberation Serif, serif" font-weight="bold"><text x="0.00" y="0.00" font-size="42.0">10</text><text x="41.00" y="-15.70" font-size="27.5">5</text></g>
<g transform="translate(70.28,1293.22) scale(0.9400,1)" font-family="Liberation Serif, serif" font-weight="bold"><text x="0.00" y="0.00" font-size="42.0">10</text><text x="41.00" y="-15.70" font-size="27.5">7</text></g>
<g transform="translate(70.54,1221.72) scale(0.9400,1)" font-family="Liberation Serif, serif" font-weight="bold"><text x="0.00" y="0.00" font-size="42.0">10</text><text x="41.00" y="-15.70" font-size="27.5">9</text></g>
<g transform="translate(59.42,1150.23) scale(0.9400,1)" font-family="Liberation Serif, serif" font-weight="bold"><text x="0.00" y="0.00" font-size="42.0">10</text><text x="41.00" y="-15.70" font-size="27.5">11</text></g>
<g transform="translate(57.61,1078.74) scale(0.9400,1)" font-family="Liberation Serif, serif" font-weight="bold"><text x="0.00" y="0.00" font-size="42.0">10</text><text x="41.00" y="-15.70" font-size="27.5">13</text></g>
<g transform="translate(57.61,1007.24) scale(0.9400,1)" font-family="Liberation Serif, serif" font-weight="bold"><text x="0.00" y="0.00" font-size="42.0">10</text><text x="41.00" y="-15.70" font-size="27.5">15</text></g>
<g transform="translate(57.36,935.75) scale(0.9400,1)" font-family="Liberation Serif, serif" font-weight="bold"><text x="0.00" y="0.00" font-size="42.0">10</text><text x="41.00" y="-15.70" font-size="27.5">17</text></g>
<text transform="translate(146.62,1551.30) scale(0.9520,1)" font-size="40.8" font-family="Liberation Serif, serif" font-weight="bold">0.0</text>
<text transform="translate(259.28,1551.30) scale(0.9520,1)" font-size="40.8" font-family="Liberation Serif, serif" font-weight="bold">0.5</text>
<text transform="translate(371.35,1551.30) scale(0.9520,1)" font-size="40.8" font-family="Liberation Serif, serif" font-weight="bold">1.0</text>
<text transform="translate(484.00,1551.30) scale(0.9520,1)" font-size="40.8" font-family="Liberation Serif, serif" font-weight="bold">1.5</text>
<text transform="translate(597.62,1551.30) scale(0.9520,1)" font-size="40.8" font-family="Liberation Serif, serif" font-weight="bold">2.0</text>
<text transform="translate(710.28,1551.30) scale(0.9520,1)" font-size="40.8" font-family="Liberation Serif, serif" font-weight="bold">2.5</text>
<text transform="translate(823.22,1551.30) scale(0.9520,1)" font-size="40.8" font-family="Liberation Serif, serif" font-weight="bold">3.0</text>
<line x1="147.0" y1="903.8" x2="215.4" y2="903.8" stroke="#515151" stroke-width="3.3" stroke-linecap="round"/>
<g transform="translate(223.84,915.30) scale(0.9400,1)" font-family="Liberation Serif, serif" font-weight="bold"><text x="0.00" y="0.00" font-size="32.8">H</text><text x="25.51" y="-13.00" font-size="21.0">+</text></g>
<line x1="286.9" y1="903.8" x2="355.3" y2="903.8" stroke="#F14040" stroke-width="3.3" stroke-linecap="round"/>
<g transform="translate(362.96,915.30) scale(0.9400,1)" font-family="Liberation Serif, serif" font-weight="bold"><text x="0.00" y="0.00" font-size="32.8">O</text><text x="25.51" y="-13.00" font-size="21.0">-</text></g>
<line x1="438.5" y1="903.8" x2="506.9" y2="903.8" stroke="#1A6FDF" stroke-width="3.3" stroke-linecap="round"/>
<g transform="translate(513.46,915.30) scale(0.9400,1)" font-family="Liberation Serif, serif" font-weight="bold"><text x="0.00" y="0.00" font-size="32.8">OH</text><text x="51.03" y="-13.00" font-size="21.0">-</text></g>
<line x1="147.0" y1="947.8" x2="215.4" y2="947.8" stroke="#37AD6B" stroke-width="3.3" stroke-linecap="round"/>
<g transform="translate(222.76,959.30) scale(0.9400,1)" font-family="Liberation Serif, serif" font-weight="bold"><text x="0.00" y="0.00" font-size="32.8">CO</text><text x="49.20" y="-13.00" font-size="21.0">+</text><text x="49.20" y="8.00" font-size="21.0">2</text></g>
<line x1="286.9" y1="947.8" x2="355.3" y2="947.8" stroke="#B177DE" stroke-width="3.3" stroke-linecap="round"/>
<g transform="translate(364.04,959.30) scale(0.9400,1)" font-family="Liberation Serif, serif" font-weight="bold"><text x="0.00" y="0.00" font-size="32.8">H</text><text x="25.51" y="8.00" font-size="21.0">3</text><text x="36.01" y="0.00" font-size="32.8">O</text><text x="61.53" y="-13.00" font-size="21.0">+</text></g>
<line x1="438.5" y1="947.8" x2="506.9" y2="947.8" stroke="#CC9900" stroke-width="3.3" stroke-linecap="round"/>
<g transform="translate(513.46,959.30) scale(0.9400,1)" font-family="Liberation Serif, serif" font-weight="bold"><text x="0.00" y="0.00" font-size="32.8">CH</text><text x="49.20" y="-13.00" font-size="21.0">+</text><text x="49.20" y="8.00" font-size="21.0">5</text></g>
<text transform="translate(762.72,926.20) scale(0.9400,1)" font-size="41.2" font-family="Liberation Serif, serif" font-weight="bold">90%</text>
<text transform="translate(429.78,1613.20) scale(0.9630,1)" font-size="43.8" font-family="Liberation Serif, serif" font-weight="bold">T (μs)</text>
<g transform="translate(37.80,1346.36) rotate(-90) scale(0.9870,1)" font-family="Liberation Serif, serif" font-weight="bold"><text x="0.00" y="0.00" font-size="43.8">Ion density(cm</text><text x="278.63" y="-17.00" font-size="30.0">-3</text><text x="303.62" y="0.00" font-size="43.8">)</text></g>
<text transform="translate(493.10,1666.70) scale(1.0000,1)" font-size="33.3" font-family="Liberation Sans, sans-serif">(c)</text>
<polyline points="1182.1,1085.1 1317.9,1061.3 1453.6,1043.5 1589.4,1029.9 1725.1,1018.2" fill="none" stroke="#515151" stroke-width="3.2" stroke-linejoin="round"/>
<rect x="1173.7" y="1076.6" width="16.9" height="16.9" fill="#000"/>
<rect x="1309.4" y="1052.8" width="16.9" height="16.9" fill="#000"/>
<rect x="1445.2" y="1035.1" width="16.9" height="16.9" fill="#000"/>
<rect x="1580.9" y="1021.4" width="16.9" height="16.9" fill="#000"/>
<rect x="1716.7" y="1009.8" width="16.9" height="16.9" fill="#000"/>
<polyline points="1182.1,1146.4 1317.9,1170.7 1453.6,1183.8 1589.4,1196.0 1725.1,1215.2" fill="none" stroke="#F14040" stroke-width="3.2" stroke-linejoin="round"/>
<circle cx="1182.1" cy="1146.4" r="9.6" fill="#F00"/>
<circle cx="1317.9" cy="1170.7" r="9.6" fill="#F00"/>
<circle cx="1453.6" cy="1183.8" r="9.6" fill="#F00"/>
<circle cx="1589.4" cy="1196.0" r="9.6" fill="#F00"/>
<circle cx="1725.1" cy="1215.2" r="9.6" fill="#F00"/>
<polyline points="1182.1,1121.0 1317.9,1137.8 1453.6,1148.9 1589.4,1161.0 1725.1,1184.9" fill="none" stroke="#1A6FDF" stroke-width="3.2" stroke-linejoin="round"/>
<path d="M1170.4 1128.2H1193.8L1182.1 1106.7Z" fill="#0F0"/>
<path d="M1306.2 1145.0H1329.6L1317.9 1123.5Z" fill="#0F0"/>
<path d="M1441.9 1156.1H1465.3L1453.6 1134.6Z" fill="#0F0"/>
<path d="M1577.7 1168.2H1601.1L1589.4 1146.7Z" fill="#0F0"/>
<path d="M1713.4 1192.1H1736.8L1725.1 1170.6Z" fill="#0F0"/>
<polyline points="1182.1,1121.5 1317.9,1151.4 1453.6,1170.2 1589.4,1186.4 1725.1,1210.2" fill="none" stroke="#37AD6B" stroke-width="3.2" stroke-linejoin="round"/>
<path d="M1170.4 1114.2H1193.8L1182.1 1135.7Z" fill="#00F"/>
<path d="M1306.2 1144.1H1329.6L1317.9 1165.6Z" fill="#00F"/>
<path d="M1441.9 1162.9H1465.3L1453.6 1184.4Z" fill="#00F"/>
<path d="M1577.7 1179.1H1601.1L1589.4 1200.6Z" fill="#00F"/>
<path d="M1713.4 1202.9H1736.8L1725.1 1224.4Z" fill="#00F"/>
<polyline points="1182.1,1053.2 1317.9,1047.1 1453.6,1047.1 1589.4,1053.2 1725.1,1073.9" fill="none" stroke="#B177DE" stroke-width="3.2" stroke-linejoin="round"/>
<path d="M1170.1 1053.2L1182.1 1040.4L1194.1 1053.2L1182.1 1066.0Z" fill="#0FF"/>
<path d="M1305.9 1047.1L1317.9 1034.3L1329.9 1047.1L1317.9 1059.9Z" fill="#0FF"/>
<path d="M1441.6 1047.1L1453.6 1034.3L1465.6 1047.1L1453.6 1059.9Z" fill="#0FF"/>
<path d="M1577.4 1053.2L1589.4 1040.4L1601.4 1053.2L1589.4 1066.0Z" fill="#0FF"/>
<path d="M1713.1 1073.9L1725.1 1061.1L1737.1 1073.9L1725.1 1086.7Z" fill="#0FF"/>
<polyline points="1182.1,1373.3 1317.9,1340.9 1453.6,1324.1 1589.4,1316.0 1725.1,1319.1" fill="none" stroke="#CC9900" stroke-width="3.2" stroke-linejoin="round"/>
<path d="M1189.0 1361.4V1385.2L1168.6 1373.3Z" fill="#F0F"/>
<path d="M1324.8 1329.0V1352.8L1304.4 1340.9Z" fill="#F0F"/>
<path d="M1460.5 1312.2V1336.0L1440.1 1324.1Z" fill="#F0F"/>
<path d="M1596.3 1304.1V1327.9L1575.9 1316.0Z" fill="#F0F"/>
<path d="M1732.0 1307.2V1331.0L1711.6 1319.1Z" fill="#F0F"/>
<g stroke="#000" stroke-width="3.3" fill="none">
<path d="M1099.10 884.50H1795.15M1793.50 884.50V1508.30M1099.10 1492.30H1793.50M1114.60 884.50V1508.30"/>
<path d="M1099.10 1441.65H1114.60M1099.10 1391.00H1114.60M1099.10 1340.35H1114.60M1099.10 1289.70H1114.60M1099.10 1239.05H1114.60M1099.10 1188.40H1114.60M1099.10 1137.75H1114.60M1099.10 1087.10H1114.60M1099.10 1036.45H1114.60M1099.10 985.80H1114.60M1099.10 935.15H1114.60M1250.00 1492.30V1508.30M1385.75 1492.30V1508.30M1521.50 1492.30V1508.30M1657.25 1492.30V1508.30M1182.12 1492.30V1500.30M1317.88 1492.30V1500.30M1453.62 1492.30V1500.30M1589.38 1492.30V1500.30M1725.12 1492.30V1500.30"/><path d="M1107.20 1477.05H1114.60M1107.20 1468.13H1114.60M1107.20 1461.81H1114.60M1107.20 1456.90H1114.60M1107.20 1452.89H1114.60M1107.20 1449.50H1114.60M1107.20 1446.56H1114.60M1107.20 1443.97H1114.60M1107.20 1426.40H1114.60M1107.20 1417.48H1114.60M1107.20 1411.16H1114.60M1107.20 1406.25H1114.60M1107.20 1402.24H1114.60M1107.20 1398.85H1114.60M1107.20 1395.91H1114.60M1107.20 1393.32H1114.60M1107.20 1375.75H1114.60M1107.20 1366.83H1114.60M1107.20 1360.51H1114.60M1107.20 1355.60H1114.60M1107.20 1351.59H1114.60M1107.20 1348.20H1114.60M1107.20 1345.26H1114.60M1107.20 1342.67H1114.60M1107.20 1325.10H1114.60M1107.20 1316.18H1114.60M1107.20 1309.86H1114.60M1107.20 1304.95H1114.60M1107.20 1300.94H1114.60M1107.20 1297.55H1114.60M1107.20 1294.61H1114.60M1107.20 1292.02H1114.60M1107.20 1274.45H1114.60M1107.20 1265.53H1114.60M1107.20 1259.21H1114.60M1107.20 1254.30H1114.60M1107.20 1250.29H1114.60M1107.20 1246.90H1114.60M1107.20 1243.96H1114.60M1107.20 1241.37H1114.60M1107.20 1223.80H1114.60M1107.20 1214.88H1114.60M1107.20 1208.56H1114.60M1107.20 1203.65H1114.60M1107.20 1199.64H1114.60M1107.20 1196.25H1114.60M1107.20 1193.31H1114.60M1107.20 1190.72H1114.60M1107.20 1173.15H1114.60M1107.20 1164.23H1114.60M1107.20 1157.91H1114.60M1107.20 1153.00H1114.60M1107.20 1148.99H1114.60M1107.20 1145.60H1114.60M1107.20 1142.66H1114.60M1107.20 1140.07H1114.60M1107.20 1122.50H1114.60M1107.20 1113.58H1114.60M1107.20 1107.26H1114.60M1107.20 1102.35H1114.60M1107.20 1098.34H1114.60M1107.20 1094.95H1114.60M1107.20 1092.01H1114.60M1107.20 1089.42H1114.60M1107.20 1071.85H1114.60M1107.20 1062.93H1114.60M1107.20 1056.61H1114.60M1107.20 1051.70H1114.60M1107.20 1047.69H1114.60M1107.20 1044.30H1114.60M1107.20 1041.36H1114.60M1107.20 1038.77H1114.60M1107.20 1021.20H1114.60M1107.20 1012.28H1114.60M1107.20 1005.96H1114.60M1107.20 1001.05H1114.60M1107.20 997.04H1114.60M1107.20 993.65H1114.60M1107.20 990.71H1114.60M1107.20 988.12H1114.60M1107.20 970.55H1114.60M1107.20 961.63H1114.60M1107.20 955.31H1114.60M1107.20 950.40H1114.60M1107.20 946.39H1114.60M1107.20 943.00H1114.60M1107.20 940.06H1114.60M1107.20 937.47H1114.60M1107.20 919.90H1114.60M1107.20 910.98H1114.60M1107.20 904.66H1114.60M1107.20 899.75H1114.60M1107.20 895.74H1114.60M1107.20 892.35H1114.60M1107.20 889.41H1114.60M1107.20 886.82H1114.60" stroke-width="3.0"/></g>
<g transform="translate(1043.10,1503.40) scale(0.9150,1)" font-family="Liberation Serif, serif" font-weight="bold"><text x="0.00" y="0.00" font-size="41.0">10</text><text x="40.00" y="-15.50" font-size="27.5">5</text></g>
<g transform="translate(1043.10,1351.45) scale(0.9150,1)" font-family="Liberation Serif, serif" font-weight="bold"><text x="0.00" y="0.00" font-size="41.0">10</text><text x="40.00" y="-15.50" font-size="27.5">8</text></g>
<g transform="translate(1032.28,1199.50) scale(0.9150,1)" font-family="Liberation Serif, serif" font-weight="bold"><text x="0.00" y="0.00" font-size="41.0">10</text><text x="40.00" y="-15.50" font-size="27.5">11</text></g>
<g transform="translate(1030.14,1047.55) scale(0.9150,1)" font-family="Liberation Serif, serif" font-weight="bold"><text x="0.00" y="0.00" font-size="41.0">10</text><text x="40.00" y="-15.50" font-size="27.5">14</text></g>
<g transform="translate(1030.27,895.60) scale(0.9150,1)" font-family="Liberation Serif, serif" font-weight="bold"><text x="0.00" y="0.00" font-size="41.0">10</text><text x="40.00" y="-15.50" font-size="27.5">17</text></g>
<text transform="translate(1104.82,1550.90) scale(0.9250,1)" font-size="40.8" font-family="Liberation Serif, serif" font-weight="bold">0</text>
<text transform="translate(1231.13,1550.90) scale(0.9250,1)" font-size="40.8" font-family="Liberation Serif, serif" font-weight="bold">20</text>
<text transform="translate(1367.35,1550.90) scale(0.9250,1)" font-size="40.8" font-family="Liberation Serif, serif" font-weight="bold">40</text>
<text transform="translate(1502.72,1550.90) scale(0.9250,1)" font-size="40.8" font-family="Liberation Serif, serif" font-weight="bold">60</text>
<text transform="translate(1638.47,1550.90) scale(0.9250,1)" font-size="40.8" font-family="Liberation Serif, serif" font-weight="bold">80</text>
<text transform="translate(1763.94,1550.90) scale(0.9250,1)" font-size="40.8" font-family="Liberation Serif, serif" font-weight="bold">100</text>
<line x1="1126.1" y1="919.1" x2="1200.4" y2="919.1" stroke="#515151" stroke-width="3.3" stroke-linecap="round"/>
<rect x="1154.8" y="910.6" width="16.9" height="16.9" fill="#000"/>
<g transform="translate(1209.40,931.50) scale(0.9200,1)" font-family="Liberation Serif, serif" font-weight="bold"><text x="0.00" y="0.00" font-size="36.2">H</text><text x="28.16" y="-14.50" font-size="23.5">+</text></g>
<line x1="1279.4" y1="919.1" x2="1353.7" y2="919.1" stroke="#F14040" stroke-width="3.3" stroke-linecap="round"/>
<circle cx="1316.6" cy="919.1" r="9.6" fill="#F00"/>
<g transform="translate(1361.53,931.50) scale(0.9200,1)" font-family="Liberation Serif, serif" font-weight="bold"><text x="0.00" y="0.00" font-size="36.2">O</text><text x="28.16" y="-14.50" font-size="23.5">-</text></g>
<line x1="1445.2" y1="919.1" x2="1519.5" y2="919.1" stroke="#1A6FDF" stroke-width="3.3" stroke-linecap="round"/>
<path d="M1470.7 926.3H1494.1L1482.4 904.8Z" fill="#0F0"/>
<g transform="translate(1527.23,931.50) scale(0.9200,1)" font-family="Liberation Serif, serif" font-weight="bold"><text x="0.00" y="0.00" font-size="36.2">OH</text><text x="56.31" y="-14.50" font-size="23.5">-</text></g>
<line x1="1126.1" y1="968.1" x2="1200.4" y2="968.1" stroke="#37AD6B" stroke-width="3.3" stroke-linecap="round"/>
<path d="M1151.6 960.8H1175.0L1163.3 982.3Z" fill="#00F"/>
<g transform="translate(1208.23,980.30) scale(0.9200,1)" font-family="Liberation Serif, serif" font-weight="bold"><text x="0.00" y="0.00" font-size="36.2">CO</text><text x="54.30" y="-14.50" font-size="23.5">+</text><text x="54.30" y="9.00" font-size="23.5">2</text></g>
<line x1="1279.4" y1="968.1" x2="1353.7" y2="968.1" stroke="#B177DE" stroke-width="3.3" stroke-linecap="round"/>
<path d="M1304.6 968.1L1316.6 955.3L1328.6 968.1L1316.6 980.9Z" fill="#0FF"/>
<g transform="translate(1362.70,980.30) scale(0.9200,1)" font-family="Liberation Serif, serif" font-weight="bold"><text x="0.00" y="0.00" font-size="36.2">H</text><text x="28.16" y="9.00" font-size="23.5">3</text><text x="39.91" y="0.00" font-size="36.2">O</text><text x="68.06" y="-14.50" font-size="23.5">+</text></g>
<line x1="1445.2" y1="968.1" x2="1519.5" y2="968.1" stroke="#CC9900" stroke-width="3.3" stroke-linecap="round"/>
<path d="M1489.3 956.2V980.0L1468.9 968.1Z" fill="#F0F"/>
<g transform="translate(1527.23,980.30) scale(0.9200,1)" font-family="Liberation Serif, serif" font-weight="bold"><text x="0.00" y="0.00" font-size="36.2">CH</text><text x="54.30" y="-14.50" font-size="23.5">+</text><text x="54.30" y="9.00" font-size="23.5">5</text></g>
<g transform="translate(1259.41,1611.40) scale(0.9620,1)" font-family="Liberation Serif, serif" font-weight="bold"><text x="0.00" y="0.00" font-size="42.5">Initial H</text><text x="154.68" y="19.00" font-size="28.0">2</text><text x="179.31" y="0.00" font-size="42.5">fraction (%)</text></g>
<g transform="translate(995.90,1404.56) rotate(-90) scale(1.0060,1)" font-family="Liberation Serif, serif" font-weight="bold"><text x="0.00" y="0.00" font-size="42.5">Molecule Density (cm</text><text x="391.82" y="-17.00" font-size="29.0">-3</text><text x="415.97" y="0.00" font-size="42.5">)</text></g>
<text transform="translate(1468.49,1660.70) scale(1.0000,1)" font-size="33.3" font-family="Liberation Sans, sans-serif">(d)</text>
</svg></body></html>
